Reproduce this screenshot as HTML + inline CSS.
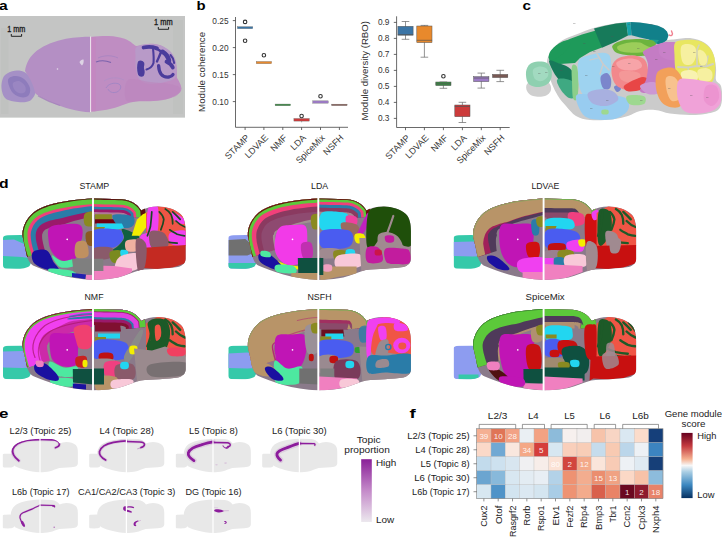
<!DOCTYPE html>
<html><head><meta charset="utf-8"><style>
html,body{margin:0;padding:0;background:#fff;width:722px;height:537px;overflow:hidden}
svg{display:block;font-family:"Liberation Sans", sans-serif}
</style></head><body>
<svg width="722" height="537" viewBox="0 0 722 537">
<text x="-1.10" y="9.80" font-size="13.6" font-weight="bold" fill="#000" textLength="8.70" lengthAdjust="spacingAndGlyphs" >a</text>
<text x="196.50" y="9.80" font-size="13.6" font-weight="bold" fill="#000" textLength="9.10" lengthAdjust="spacingAndGlyphs" >b</text>
<text x="522.50" y="9.80" font-size="13.6" font-weight="bold" fill="#000" textLength="8.50" lengthAdjust="spacingAndGlyphs" >c</text>
<text x="-1.10" y="187.80" font-size="13.6" font-weight="bold" fill="#000" textLength="9.60" lengthAdjust="spacingAndGlyphs" >d</text>
<text x="-1.10" y="417.60" font-size="13.6" font-weight="bold" fill="#000" textLength="9.40" lengthAdjust="spacingAndGlyphs" >e</text>
<text x="409.40" y="417.70" font-size="13.6" font-weight="bold" fill="#000" textLength="6.20" lengthAdjust="spacingAndGlyphs" >f</text>
<rect x="0" y="16" width="185" height="101.5" fill="#c4c5c4"/>
<defs><clipPath id="aclip"><rect x="0" y="16" width="185" height="101.5"/></clipPath><linearGradient id="ahl" x1="0" y1="0" x2="1" y2="0"><stop offset="0" stop-color="#b08ec4"/><stop offset="1" stop-color="#b892c6"/></linearGradient></defs>
<g clip-path="url(#aclip)">
<rect x="0" y="16" width="185" height="101.5" fill="#c4c5c4"/>
<rect x="1" y="28" width="7.5" height="86" fill="#c0c2c0"/>
<rect x="173" y="20" width="10" height="94" fill="#c0c2c0"/>
<path d="M1.5,88.0 C1.2,84.7 1.9,80.5 3.0,78.0 C4.1,75.5 5.7,74.2 8.0,73.0 C10.3,71.8 14.0,70.5 17.0,70.5 C20.0,70.5 23.2,71.1 26.0,73.0 C28.8,74.9 31.9,78.8 33.5,82.0 C35.1,85.2 35.8,89.2 35.5,92.0 C35.2,94.8 33.6,97.3 32.0,99.0 C30.4,100.7 29.0,101.6 26.0,102.0 C23.0,102.4 17.5,102.2 14.0,101.5 C10.5,100.8 7.1,100.2 5.0,98.0 C2.9,95.8 1.8,91.3 1.5,88.0 Z" fill="#a590c6"/>
<path d="M8.0,80.0 C8.5,77.3 12.3,76.2 15.0,76.0 C17.7,75.8 21.5,77.0 24.0,79.0 C26.5,81.0 29.3,85.2 30.0,88.0 C30.7,90.8 29.7,94.5 28.0,96.0 C26.3,97.5 22.7,97.7 20.0,97.0 C17.3,96.3 14.0,94.8 12.0,92.0 C10.0,89.2 7.5,82.7 8.0,80.0 Z" fill="#8e7cbc"/>
<path d="M13.0,83.0 C13.8,81.7 17.0,80.5 19.0,81.0 C21.0,81.5 24.0,84.2 25.0,86.0 C26.0,87.8 26.0,90.8 25.0,92.0 C24.0,93.2 20.8,93.5 19.0,93.0 C17.2,92.5 15.0,90.7 14.0,89.0 C13.0,87.3 12.2,84.3 13.0,83.0 Z" fill="#9a86c2"/>
<path d="M25,71 C26,63 30,56 37,50.5 C45,45 55,41 66,38.8 C75,37.3 84,36.8 90.5,36.8 L90.5,112.2 C84,112 77,111 70,109 C60,106.5 50,102 44,99 C40,97 37,95 35,93 C34,86 30,78 25,71 Z" fill="#b48fc4"/>
<path d="M90.5,37.1 C97,36.2 103,35.9 108.7,36 C115,36.3 120,37.2 124.6,38.7 C128,40 130.5,41.5 132.5,43.4 C134,44.5 135,45.5 136.5,46 C141,45.5 145,44.2 148.3,43.9 C153,43.7 157,44.2 161,45.5 C165,47.5 169,50.5 172,54.5 C175,59 176.5,64 176.8,69.6 C177,73 176.5,76 177,78 C179,81 181,84.5 181.5,88.5 C181.5,91 180,93 178,94 C174,96.5 170,98.5 166,99.6 C160,100.8 155,101.3 150,101.3 C145,101.2 140,101 136,101.4 C132,101.8 129,102.8 125,104.2 C120,106 116,107.6 112,108.6 C105,110.5 98,111.3 90.5,111.6 Z" fill="#bf8dc2"/>
<rect x="90.5" y="37" width="5" height="74.5" fill="#c884c0" opacity="0.6"/>
<path d="M136.5,47.0 C138.6,45.0 144.1,44.3 148.0,44.0 C151.9,43.7 156.3,44.0 160.0,45.2 C163.7,46.4 167.4,48.5 170.0,51.0 C172.6,53.5 174.4,56.8 175.5,60.0 C176.6,63.2 176.6,67.0 176.5,70.0 C176.4,73.0 176.9,76.0 175.0,78.0 C173.1,80.0 169.2,81.0 165.0,82.0 C160.8,83.0 154.2,84.3 150.0,84.0 C145.8,83.7 142.3,82.3 140.0,80.0 C137.7,77.7 136.8,74.0 136.0,70.0 C135.2,66.0 135.4,59.8 135.5,56.0 C135.6,52.2 134.4,49.0 136.5,47.0 Z" fill="#b89ac8"/>
<path d="M138,61.5 C140,59.8 142.5,60.2 144.2,62.8 C144.8,65 143.6,66.5 144,68.5 C145,71 145,73.8 143.6,76 C141.8,77.2 139.3,76.8 138,74.5 C136.8,70 136.8,65 138,61.5 Z" fill="#4b3c9c"/>
<path d="M143.5,47.6 C147,46.6 152,46.6 157,48.1" fill="none" stroke="#4b3c9c" stroke-width="3.6" stroke-linecap="round" stroke-linejoin="round"/>
<path d="M153,48.5 C153.5,53 154,58 153.5,63 C152.5,66 150,68.5 146.5,69.5" fill="none" stroke="#4b3c9c" stroke-width="2.1" stroke-linecap="round" stroke-linejoin="round"/>
<path d="M155.5,48.8 C158,49.3 160,50.3 161,52 C160,55 158.5,58 157,61.5" fill="none" stroke="#4b3c9c" stroke-width="2.4" stroke-linecap="round" stroke-linejoin="round"/>
<path d="M162.5,51.8 C165.5,53.5 168,56.5 169,60.5" fill="none" stroke="#4b3c9c" stroke-width="4.6" stroke-linecap="round" stroke-linejoin="round"/>
<path d="M166.5,61.8 C169,62.8 171.5,64.5 172.8,67.5" fill="none" stroke="#4b3c9c" stroke-width="3.8" stroke-linecap="round" stroke-linejoin="round"/>
<path d="M158.6,65.7 C158.8,69 159.5,72 161,74 C163,76.5 166,77.5 169,77 C171,76.5 172.5,75.5 173,74.5" fill="none" stroke="#4b3c9c" stroke-width="3.3" stroke-linecap="round" stroke-linejoin="round"/>
<path d="M170.5,55 C172.5,57 173.8,60 174.2,63" fill="none" stroke="#4b3c9c" stroke-width="2.0" stroke-linecap="round" stroke-linejoin="round"/>
<path d="M128.0,80.0 C132.0,77.0 143.0,81.3 150.0,82.0 C157.0,82.7 165.0,83.0 170.0,84.0 C175.0,85.0 179.0,86.0 180.0,88.0 C181.0,90.0 179.3,94.0 176.0,96.0 C172.7,98.0 166.0,99.2 160.0,100.0 C154.0,100.8 145.7,101.0 140.0,101.0 C134.3,101.0 128.0,103.5 126.0,100.0 C124.0,96.5 124.0,83.0 128.0,80.0 Z" fill="#bc86bc" opacity="0.6"/>
<path d="M96,62 C100,60.5 106,60.5 111,62.5" fill="none" stroke="#6a58a8" stroke-width="1.1" opacity="0.8"/>
<path d="M98,58 C104,55 112,55 118,58" fill="none" stroke="#9a80c0" stroke-width="0.8" opacity="0.7"/>
<path d="M106,88 C108,84 114,82 119,84 C122,86 121,90 117,92 C113,93.5 109,92 108,89" fill="none" stroke="#9c84c4" stroke-width="1.0" opacity="0.8"/>
<path d="M104,81 C110,77 118,77 124,80" fill="none" stroke="#a890c8" stroke-width="0.8" opacity="0.7"/>
<path d="M79.5,62 C80.5,60 82,59.2 83.5,59.5 C84,61.5 83.5,64 82,65.5 C81,64.5 80,63.5 79.5,62 Z" fill="#ddd4e4"/>
<circle cx="57.5" cy="69" r="0.8" fill="#e4dcea"/>
<path d="M38,96 C44,99.5 52,103 60,105.5" fill="none" stroke="#9c7ab8" stroke-width="1.2" opacity="0.6"/>
<line x1="90.6" y1="36.5" x2="90.6" y2="112.2" stroke="#f4f0f4" stroke-width="0.9"/>
</g>
<path d="M11.3,34 V36.3 H21.6 V34" fill="none" stroke="#111" stroke-width="0.9"/>
<path d="M158.3,27 V29.3 H168.6 V27" fill="none" stroke="#111" stroke-width="0.9"/>
<text x="7.2" y="31.7" font-size="8.4" fill="#1a1a1a" stroke="#1a1a1a" stroke-width="0.3" textLength="18.2" lengthAdjust="spacingAndGlyphs">1 mm</text>
<text x="154" y="24.9" font-size="8.2" fill="#1a1a1a" stroke="#1a1a1a" stroke-width="0.3" textLength="18.6" lengthAdjust="spacingAndGlyphs">1 mm</text>
<path d="M235.5 17 V127.3 H348" fill="none" stroke="#444" stroke-width="0.8"/>
<line x1="232.8" y1="20.6" x2="235.5" y2="20.6" stroke="#444" stroke-width="0.8"/>
<text x="228.5" y="23.6" font-size="8.3" text-anchor="end" font-weight="normal" fill="#333" >0.25</text>
<line x1="232.8" y1="47.6" x2="235.5" y2="47.6" stroke="#444" stroke-width="0.8"/>
<text x="228.5" y="50.599999999999994" font-size="8.3" text-anchor="end" font-weight="normal" fill="#333" >0.20</text>
<line x1="232.8" y1="74.6" x2="235.5" y2="74.6" stroke="#444" stroke-width="0.8"/>
<text x="228.5" y="77.6" font-size="8.3" text-anchor="end" font-weight="normal" fill="#333" >0.15</text>
<line x1="232.8" y1="101.6" x2="235.5" y2="101.6" stroke="#444" stroke-width="0.8"/>
<text x="228.5" y="104.6" font-size="8.3" text-anchor="end" font-weight="normal" fill="#333" >0.10</text>
<line x1="245.1" y1="127.3" x2="245.1" y2="130" stroke="#444" stroke-width="0.8"/>
<text x="250.0" y="138.3" font-size="9.0" text-anchor="end" font-weight="normal" fill="#333" transform="rotate(-45 250.0 138.3)">STAMP</text>
<line x1="263.9" y1="127.3" x2="263.9" y2="130" stroke="#444" stroke-width="0.8"/>
<text x="268.8" y="138.3" font-size="9.0" text-anchor="end" font-weight="normal" fill="#333" transform="rotate(-45 268.8 138.3)">LDVAE</text>
<line x1="282.8" y1="127.3" x2="282.8" y2="130" stroke="#444" stroke-width="0.8"/>
<text x="287.7" y="138.3" font-size="9.0" text-anchor="end" font-weight="normal" fill="#333" transform="rotate(-45 287.7 138.3)">NMF</text>
<line x1="301.6" y1="127.3" x2="301.6" y2="130" stroke="#444" stroke-width="0.8"/>
<text x="306.5" y="138.3" font-size="9.0" text-anchor="end" font-weight="normal" fill="#333" transform="rotate(-45 306.5 138.3)">LDA</text>
<line x1="320.5" y1="127.3" x2="320.5" y2="130" stroke="#444" stroke-width="0.8"/>
<text x="325.4" y="138.3" font-size="9.0" text-anchor="end" font-weight="normal" fill="#333" transform="rotate(-45 325.4 138.3)">SpiceMix</text>
<line x1="339.4" y1="127.3" x2="339.4" y2="130" stroke="#444" stroke-width="0.8"/>
<text x="344.2" y="138.3" font-size="9.0" text-anchor="end" font-weight="normal" fill="#333" transform="rotate(-45 344.2 138.3)">NSFH</text>
<rect x="237.4" y="26.70" width="15.4" height="2.0" fill="#3b75a6" stroke="#666" stroke-width="0.35"/>
<rect x="256.2" y="61.50" width="15.4" height="2.2" fill="#e8892c" stroke="#666" stroke-width="0.35"/>
<rect x="275.1" y="104.05" width="15.4" height="1.7" fill="#3a8c44" stroke="#666" stroke-width="0.35"/>
<rect x="293.9" y="118.50" width="15.4" height="2.6" fill="#cc3b3b" stroke="#666" stroke-width="0.35"/>
<rect x="312.8" y="100.85" width="15.4" height="2.3" fill="#9d7bc6" stroke="#666" stroke-width="0.35"/>
<rect x="331.7" y="104.15" width="15.4" height="1.5" fill="#8c5d55" stroke="#666" stroke-width="0.35"/>
<line x1="301.6" y1="121.1" x2="301.6" y2="122.3" stroke="#666" stroke-width="0.6"/>
<circle cx="245.1" cy="21.9" r="1.75" fill="none" stroke="#333" stroke-width="1.1"/>
<circle cx="245.1" cy="40.7" r="1.75" fill="none" stroke="#333" stroke-width="1.1"/>
<circle cx="263.9" cy="55.2" r="1.75" fill="none" stroke="#333" stroke-width="1.1"/>
<circle cx="301.6" cy="116" r="1.75" fill="none" stroke="#333" stroke-width="1.1"/>
<circle cx="320.5" cy="96.2" r="1.75" fill="none" stroke="#333" stroke-width="1.1"/>
<text x="0" y="0" font-size="8.9" text-anchor="middle" font-weight="normal" fill="#333" textLength="80" lengthAdjust="spacingAndGlyphs" transform="translate(204.5 71.9) rotate(-90)">Module coherence</text>
<path d="M396.6 16.3 V127.5 H509.7" fill="none" stroke="#444" stroke-width="0.8"/>
<line x1="393.8" y1="22.4" x2="396.6" y2="22.4" stroke="#444" stroke-width="0.8"/>
<text x="389.5" y="25.4" font-size="8.3" text-anchor="end" font-weight="normal" fill="#333" >0.9</text>
<line x1="393.8" y1="38.4" x2="396.6" y2="38.4" stroke="#444" stroke-width="0.8"/>
<text x="389.5" y="41.4" font-size="8.3" text-anchor="end" font-weight="normal" fill="#333" >0.8</text>
<line x1="393.8" y1="54.4" x2="396.6" y2="54.4" stroke="#444" stroke-width="0.8"/>
<text x="389.5" y="57.4" font-size="8.3" text-anchor="end" font-weight="normal" fill="#333" >0.7</text>
<line x1="393.8" y1="70.4" x2="396.6" y2="70.4" stroke="#444" stroke-width="0.8"/>
<text x="389.5" y="73.4" font-size="8.3" text-anchor="end" font-weight="normal" fill="#333" >0.6</text>
<line x1="393.8" y1="86.4" x2="396.6" y2="86.4" stroke="#444" stroke-width="0.8"/>
<text x="389.5" y="89.4" font-size="8.3" text-anchor="end" font-weight="normal" fill="#333" >0.5</text>
<line x1="393.8" y1="102.4" x2="396.6" y2="102.4" stroke="#444" stroke-width="0.8"/>
<text x="389.5" y="105.4" font-size="8.3" text-anchor="end" font-weight="normal" fill="#333" >0.4</text>
<line x1="393.8" y1="118.4" x2="396.6" y2="118.4" stroke="#444" stroke-width="0.8"/>
<text x="389.5" y="121.4" font-size="8.3" text-anchor="end" font-weight="normal" fill="#333" >0.3</text>
<line x1="405.5" y1="127.5" x2="405.5" y2="130.2" stroke="#444" stroke-width="0.8"/>
<text x="410.4" y="138.5" font-size="9.0" text-anchor="end" font-weight="normal" fill="#333" transform="rotate(-45 410.4 138.5)">STAMP</text>
<line x1="424.4" y1="127.5" x2="424.4" y2="130.2" stroke="#444" stroke-width="0.8"/>
<text x="429.3" y="138.5" font-size="9.0" text-anchor="end" font-weight="normal" fill="#333" transform="rotate(-45 429.3 138.5)">LDVAE</text>
<line x1="443.4" y1="127.5" x2="443.4" y2="130.2" stroke="#444" stroke-width="0.8"/>
<text x="448.3" y="138.5" font-size="9.0" text-anchor="end" font-weight="normal" fill="#333" transform="rotate(-45 448.3 138.5)">NMF</text>
<line x1="462.4" y1="127.5" x2="462.4" y2="130.2" stroke="#444" stroke-width="0.8"/>
<text x="467.2" y="138.5" font-size="9.0" text-anchor="end" font-weight="normal" fill="#333" transform="rotate(-45 467.2 138.5)">LDA</text>
<line x1="481.3" y1="127.5" x2="481.3" y2="130.2" stroke="#444" stroke-width="0.8"/>
<text x="486.2" y="138.5" font-size="9.0" text-anchor="end" font-weight="normal" fill="#333" transform="rotate(-45 486.2 138.5)">SpiceMix</text>
<line x1="500.2" y1="127.5" x2="500.2" y2="130.2" stroke="#444" stroke-width="0.8"/>
<text x="505.1" y="138.5" font-size="9.0" text-anchor="end" font-weight="normal" fill="#333" transform="rotate(-45 505.1 138.5)">NSFH</text>
<line x1="405.5" y1="21.5" x2="405.5" y2="39.3" stroke="#666" stroke-width="0.7"/>
<line x1="401.7" y1="21.5" x2="409.3" y2="21.5" stroke="#666" stroke-width="0.7"/>
<line x1="401.7" y1="39.3" x2="409.3" y2="39.3" stroke="#666" stroke-width="0.7"/>
<rect x="397.9" y="26.3" width="15.2" height="8.9" fill="#3b75a6" stroke="#555" stroke-width="0.5"/>
<line x1="397.9" y1="34.5" x2="413.1" y2="34.5" stroke="#555" stroke-width="0.7"/>
<line x1="424.4" y1="25.4" x2="424.4" y2="57.2" stroke="#666" stroke-width="0.7"/>
<line x1="420.6" y1="25.4" x2="428.2" y2="25.4" stroke="#666" stroke-width="0.7"/>
<line x1="420.6" y1="57.2" x2="428.2" y2="57.2" stroke="#666" stroke-width="0.7"/>
<rect x="416.8" y="26.0" width="15.2" height="16.6" fill="#e8892c" stroke="#555" stroke-width="0.5"/>
<line x1="416.8" y1="40.3" x2="432.1" y2="40.3" stroke="#555" stroke-width="0.7"/>
<line x1="443.4" y1="82.0" x2="443.4" y2="88.3" stroke="#666" stroke-width="0.7"/>
<line x1="439.6" y1="82.0" x2="447.2" y2="82.0" stroke="#666" stroke-width="0.7"/>
<line x1="439.6" y1="88.3" x2="447.2" y2="88.3" stroke="#666" stroke-width="0.7"/>
<rect x="435.8" y="82.0" width="15.2" height="3.6" fill="#3a8c44" stroke="#555" stroke-width="0.5"/>
<line x1="435.8" y1="83.8" x2="451.0" y2="83.8" stroke="#555" stroke-width="0.7"/>
<line x1="462.4" y1="102.3" x2="462.4" y2="122.5" stroke="#666" stroke-width="0.7"/>
<line x1="458.6" y1="102.3" x2="466.2" y2="102.3" stroke="#666" stroke-width="0.7"/>
<line x1="458.6" y1="122.5" x2="466.2" y2="122.5" stroke="#666" stroke-width="0.7"/>
<rect x="454.8" y="105.0" width="15.2" height="11.7" fill="#cc3b3b" stroke="#555" stroke-width="0.5"/>
<line x1="454.8" y1="106.5" x2="470.0" y2="106.5" stroke="#555" stroke-width="0.7"/>
<line x1="481.3" y1="73.1" x2="481.3" y2="88.1" stroke="#666" stroke-width="0.7"/>
<line x1="477.5" y1="73.1" x2="485.1" y2="73.1" stroke="#666" stroke-width="0.7"/>
<line x1="477.5" y1="88.1" x2="485.1" y2="88.1" stroke="#666" stroke-width="0.7"/>
<rect x="473.7" y="76.7" width="15.2" height="4.9" fill="#9d7bc6" stroke="#555" stroke-width="0.5"/>
<line x1="473.7" y1="78.0" x2="488.9" y2="78.0" stroke="#555" stroke-width="0.7"/>
<line x1="500.2" y1="70.3" x2="500.2" y2="81.6" stroke="#666" stroke-width="0.7"/>
<line x1="496.4" y1="70.3" x2="504.1" y2="70.3" stroke="#666" stroke-width="0.7"/>
<line x1="496.4" y1="81.6" x2="504.1" y2="81.6" stroke="#666" stroke-width="0.7"/>
<rect x="492.6" y="74.4" width="15.2" height="3.2" fill="#8c5d55" stroke="#555" stroke-width="0.5"/>
<line x1="492.6" y1="76.0" x2="507.9" y2="76.0" stroke="#555" stroke-width="0.7"/>
<circle cx="443.4" cy="76.2" r="1.75" fill="none" stroke="#333" stroke-width="1.1"/>
<text x="0" y="0" font-size="8.9" text-anchor="middle" font-weight="normal" fill="#333" textLength="99.5" lengthAdjust="spacingAndGlyphs" transform="translate(367.9 70.8) rotate(-90)">Module diversity (RBO)</text>
<path d="M548.0,57.0 C550.0,52.3 554.7,46.0 560.0,42.0 C565.3,38.0 573.3,35.6 580.0,33.0 C586.7,30.4 592.2,28.1 600.0,26.3 C607.8,24.5 618.1,22.6 626.6,22.2 C635.1,21.8 645.1,23.2 651.2,24.2 C657.4,25.2 660.9,26.7 663.5,28.3 C666.1,29.9 666.9,32.0 667.0,34.0 C667.1,36.0 663.2,39.1 664.0,40.0 C664.8,40.9 667.7,39.8 672.0,39.5 C676.3,39.2 684.5,37.4 690.0,38.0 C695.5,38.6 701.2,40.5 705.0,43.0 C708.8,45.5 711.2,48.8 713.0,53.0 C714.8,57.2 715.5,63.5 716.0,68.0 C716.5,72.5 715.2,77.0 716.0,80.0 C716.8,83.0 720.0,82.7 721.0,86.0 C722.0,89.3 722.5,96.0 722.0,100.0 C721.5,104.0 720.8,107.7 718.0,110.0 C715.2,112.3 709.7,113.2 705.0,114.0 C700.3,114.8 695.8,115.1 690.0,115.0 C684.2,114.9 675.8,114.3 670.0,113.5 C664.2,112.7 660.0,110.4 655.0,110.0 C650.0,109.6 644.5,110.0 640.0,111.0 C635.5,112.0 632.7,114.6 628.0,116.0 C623.3,117.4 618.3,118.8 612.0,119.5 C605.7,120.2 596.0,120.6 590.0,120.0 C584.0,119.4 580.0,118.3 576.0,116.0 C572.0,113.7 569.0,109.3 566.0,106.0 C563.0,102.7 560.3,99.7 558.0,96.0 C555.7,92.3 553.7,88.3 552.0,84.0 C550.3,79.7 548.7,74.5 548.0,70.0 C547.3,65.5 546.0,61.7 548.0,57.0 Z" fill="#cbcbcb"/>
<path d="M527.0,84.0 C528.3,82.2 531.5,80.3 535.0,80.0 C538.5,79.7 545.3,80.3 548.0,82.0 C550.7,83.7 551.5,87.7 551.0,90.0 C550.5,92.3 548.0,95.0 545.0,96.0 C542.0,97.0 536.0,96.8 533.0,96.0 C530.0,95.2 528.0,93.0 527.0,91.0 C526.0,89.0 525.7,85.8 527.0,84.0 Z" fill="#cfcfcf"/>
<path d="M526.0,72.0 C526.3,68.8 528.0,65.8 530.0,64.0 C532.0,62.2 535.2,61.7 538.0,61.5 C540.8,61.3 544.8,61.6 547.0,63.0 C549.2,64.4 550.8,67.3 551.5,70.0 C552.2,72.7 551.9,76.5 551.0,79.0 C550.1,81.5 548.5,83.7 546.0,85.0 C543.5,86.3 539.0,87.3 536.0,87.0 C533.0,86.7 529.7,85.5 528.0,83.0 C526.3,80.5 525.7,75.2 526.0,72.0 Z" fill="#8fd0b0"/>
<path d="M533.0,70.0 C533.8,67.9 537.7,66.7 540.0,66.5 C542.3,66.3 545.7,67.4 547.0,69.0 C548.3,70.6 548.8,74.0 548.0,76.0 C547.2,78.0 544.2,80.5 542.0,81.0 C539.8,81.5 536.5,80.8 535.0,79.0 C533.5,77.2 532.2,72.1 533.0,70.0 Z" fill="#a2dac0"/>
<path d="M548.6,57.0 L552.0,50.0 L557.0,45.5 L564.0,41.5 L571.0,38.5 L582.0,34.5 L595.0,30.8 L601.7,28.3 L602.0,47.5 L590.0,52.0 L580.0,58.0 L575.0,63.0 L560.0,64.0 L550.0,62.0 Z" fill="#1e9a5a"/>
<path d="M549.5,53.0 C550.5,50.6 553.2,47.6 556.0,45.5 C558.8,43.4 563.7,40.6 566.0,40.5 C568.3,40.4 571.0,42.4 570.0,45.0 C569.0,47.6 563.3,53.5 560.0,56.0 C556.7,58.5 551.8,60.5 550.0,60.0 C548.2,59.5 548.5,55.4 549.5,53.0 Z" fill="#1e9a5a"/>
<path d="M594.0,28.5 L605.0,25.8 L616.0,23.6 L626.3,22.5 L628.0,35.5 L616.4,41.6 L602.0,47.8 Z" fill="#177a5a"/>
<path d="M626.3,22.4 L630.5,22.1 L631.5,35.3 L628.0,35.6 Z" fill="#18a4aa"/>
<path d="M630.5,22.1 L640.0,22.6 L651.2,24.2 L658.0,25.8 L663.5,28.3 L667.0,31.5 L668.5,35.5 L667.0,40.0 L663.0,43.0 L659.0,44.5 L655.0,43.0 L649.0,39.6 L640.0,37.4 L631.5,35.3 Z" fill="#11808a"/>
<path d="M650.0,39.5 L659.0,40.0 L656.0,44.0 L652.0,43.0 Z" fill="#20a090"/>
<path d="M549.0,61.0 C549.3,58.8 554.8,62.0 558.0,63.0 C561.2,64.0 565.3,65.2 568.0,67.0 C570.7,68.8 573.2,71.3 574.0,74.0 C574.8,76.7 574.7,81.5 573.0,83.0 C571.3,84.5 566.8,84.2 564.0,83.0 C561.2,81.8 558.5,79.7 556.0,76.0 C553.5,72.3 548.7,63.2 549.0,61.0 Z" fill="#177a5a"/>
<path d="M557.0,80.0 C557.8,78.2 563.2,78.5 566.0,79.0 C568.8,79.5 572.3,80.2 574.0,83.0 C575.7,85.8 576.8,93.5 576.0,96.0 C575.2,98.5 571.5,99.0 569.0,98.0 C566.5,97.0 563.0,93.0 561.0,90.0 C559.0,87.0 556.2,81.8 557.0,80.0 Z" fill="#3fa982"/>
<path d="M572.0,66.0 C572.8,63.5 575.9,64.0 577.0,67.0 C578.1,70.0 578.5,78.7 578.5,84.0 C578.5,89.3 577.9,96.7 577.0,99.0 C576.1,101.3 573.8,100.8 573.0,98.0 C572.2,95.2 572.2,87.3 572.0,82.0 C571.8,76.7 571.2,68.5 572.0,66.0 Z" fill="#8ccf8a"/>
<path d="M579.0,60.0 C580.7,57.2 584.5,56.7 588.0,55.5 C591.5,54.3 596.8,53.3 600.0,53.0 C603.2,52.7 605.2,52.7 607.0,53.5 C608.8,54.3 609.8,55.2 610.5,58.0 C611.2,60.8 611.6,66.3 611.0,70.0 C610.4,73.7 608.2,76.3 607.0,80.0 C605.8,83.7 605.8,89.2 604.0,92.0 C602.2,94.8 599.0,95.7 596.0,96.5 C593.0,97.3 588.7,98.2 586.0,97.0 C583.3,95.8 581.3,93.2 580.0,89.0 C578.7,84.8 578.2,76.8 578.0,72.0 C577.8,67.2 577.3,62.8 579.0,60.0 Z" fill="#9ed3f0"/>
<path d="M597,54 L603,64 L609,70" fill="none" stroke="#cbcbcb" stroke-width="1.6" stroke-linecap="round"/>
<path d="M603,64 L600,74" fill="none" stroke="#cbcbcb" stroke-width="1.4" stroke-linecap="round"/>
<path d="M598,58 L590,60" fill="none" stroke="#cbcbcb" stroke-width="1.2" stroke-linecap="round"/>
<path d="M606,80 L612,86" fill="none" stroke="#cbcbcb" stroke-width="1.4" stroke-linecap="round"/>
<path d="M601.0,76.0 C602.0,74.3 605.3,72.5 607.0,73.0 C608.7,73.5 610.5,76.5 611.0,79.0 C611.5,81.5 611.2,86.3 610.0,88.0 C608.8,89.7 605.5,89.8 604.0,89.0 C602.5,88.2 601.5,85.2 601.0,83.0 C600.5,80.8 600.0,77.7 601.0,76.0 Z" fill="#7b86cc"/>
<path d="M614.0,87.0 C614.2,85.8 616.8,84.7 618.0,85.0 C619.2,85.3 621.2,87.8 621.0,89.0 C620.8,90.2 618.2,92.3 617.0,92.0 C615.8,91.7 613.8,88.2 614.0,87.0 Z" fill="#7b86cc"/>
<path d="M613.0,45.0 C614.5,43.6 618.2,41.5 622.0,40.5 C625.8,39.5 631.7,39.1 636.0,39.0 C640.3,38.9 644.8,39.1 648.0,40.0 C651.2,40.9 653.8,42.7 655.0,44.5 C656.2,46.3 656.5,49.2 655.0,51.0 C653.5,52.8 650.2,54.8 646.0,55.5 C641.8,56.2 634.8,55.9 630.0,55.5 C625.2,55.1 619.8,54.1 617.0,53.0 C614.2,51.9 613.7,50.3 613.0,49.0 C612.3,47.7 611.5,46.4 613.0,45.0 Z" fill="#6cb43e"/>
<path d="M618.0,46.0 C619.8,44.7 625.5,42.9 630.0,42.5 C634.5,42.1 641.5,42.7 645.0,43.5 C648.5,44.3 651.0,46.1 651.0,47.5 C651.0,48.9 648.8,51.2 645.0,52.0 C641.2,52.8 632.3,52.8 628.0,52.5 C623.7,52.2 620.7,51.6 619.0,50.5 C617.3,49.4 616.2,47.3 618.0,46.0 Z" fill="#9ccd5a"/>
<path d="M641.0,42.0 C641.2,40.8 648.5,39.7 651.0,40.0 C653.5,40.3 656.2,42.8 656.0,44.0 C655.8,45.2 652.5,47.3 650.0,47.0 C647.5,46.7 640.8,43.2 641.0,42.0 Z" fill="#6cb43e"/>
<path d="M612.0,66.0 C612.8,63.2 614.7,60.7 617.0,59.0 C619.3,57.3 622.7,56.5 626.0,56.0 C629.3,55.5 633.8,55.3 637.0,56.0 C640.2,56.7 643.2,57.7 645.0,60.0 C646.8,62.3 647.7,66.3 648.0,70.0 C648.3,73.7 648.3,78.8 647.0,82.0 C645.7,85.2 643.5,87.7 640.0,89.0 C636.5,90.3 630.0,90.7 626.0,90.0 C622.0,89.3 618.3,87.3 616.0,85.0 C613.7,82.7 612.7,79.2 612.0,76.0 C611.3,72.8 611.2,68.8 612.0,66.0 Z" fill="#f2888c"/>
<path d="M617.0,62.0 C618.7,60.6 624.5,58.8 628.0,58.5 C631.5,58.2 635.7,58.8 638.0,60.0 C640.3,61.2 642.3,64.3 642.0,66.0 C641.7,67.7 639.0,69.3 636.0,70.0 C633.0,70.7 627.0,70.5 624.0,70.0 C621.0,69.5 619.2,68.3 618.0,67.0 C616.8,65.7 615.3,63.4 617.0,62.0 Z" fill="#f7a4a8"/>
<path d="M620.0,72.0 C621.7,70.8 626.7,70.7 630.0,71.0 C633.3,71.3 638.7,72.2 640.0,74.0 C641.3,75.8 640.3,80.7 638.0,82.0 C635.7,83.3 629.0,82.7 626.0,82.0 C623.0,81.3 621.0,79.7 620.0,78.0 C619.0,76.3 618.3,73.2 620.0,72.0 Z" fill="#f49898"/>
<path d="M624.0,86.0 C625.2,84.2 630.8,81.5 634.0,80.0 C637.2,78.5 640.7,77.0 643.0,77.0 C645.3,77.0 647.7,78.2 648.0,80.0 C648.3,81.8 647.0,86.2 645.0,88.0 C643.0,89.8 639.0,90.5 636.0,91.0 C633.0,91.5 629.0,91.8 627.0,91.0 C625.0,90.2 622.8,87.8 624.0,86.0 Z" fill="#e84646"/>
<path d="M643.0,52.0 C643.8,50.2 648.2,48.4 651.0,47.0 C653.8,45.6 656.8,44.3 660.0,43.5 C663.2,42.7 667.2,41.9 670.0,42.0 C672.8,42.1 675.4,41.7 677.0,44.0 C678.6,46.3 679.5,52.0 679.5,56.0 C679.5,60.0 678.9,64.0 677.0,68.0 C675.1,72.0 670.8,76.5 668.0,80.0 C665.2,83.5 663.0,86.8 660.0,89.0 C657.0,91.2 653.3,92.7 650.0,93.0 C646.7,93.3 640.7,93.2 640.0,91.0 C639.3,88.8 644.7,84.2 646.0,80.0 C647.3,75.8 648.0,69.7 648.0,66.0 C648.0,62.3 646.8,60.3 646.0,58.0 C645.2,55.7 642.2,53.8 643.0,52.0 Z" fill="#c47cc4"/>
<path d="M660.0,44.0 C662.0,41.8 668.8,41.7 672.0,42.0 C675.2,42.3 677.8,43.3 679.0,46.0 C680.2,48.7 680.5,55.7 679.0,58.0 C677.5,60.3 673.2,60.5 670.0,60.0 C666.8,59.5 661.7,57.7 660.0,55.0 C658.3,52.3 658.0,46.2 660.0,44.0 Z" fill="#c880c8"/>
<path d="M640.0,86.0 C640.7,84.0 648.3,82.0 652.0,82.0 C655.7,82.0 660.7,84.2 662.0,86.0 C663.3,87.8 662.3,91.7 660.0,93.0 C657.7,94.3 651.3,95.2 648.0,94.0 C644.7,92.8 639.3,88.0 640.0,86.0 Z" fill="#cc98d4"/>
<path d="M675.0,43.0 C676.6,40.5 680.2,40.4 684.0,40.0 C687.8,39.6 693.8,39.3 698.0,40.5 C702.2,41.7 706.2,44.1 709.0,47.0 C711.8,49.9 713.5,53.8 714.5,58.0 C715.5,62.2 715.4,68.0 715.0,72.0 C714.6,76.0 714.0,79.6 712.0,82.0 C710.0,84.4 706.7,85.8 703.0,86.5 C699.3,87.2 693.8,87.1 690.0,86.5 C686.2,85.9 682.4,85.8 680.0,83.0 C677.6,80.2 676.4,74.7 675.5,70.0 C674.6,65.3 674.6,59.5 674.5,55.0 C674.4,50.5 673.4,45.5 675.0,43.0 Z" fill="#e8e660"/>
<path d="M678,67 L688,67.5 L697,66 L706,66.5 L713,64" fill="none" stroke="#d2d2c2" stroke-width="2.0" stroke-linecap="round"/>
<path d="M697,66 L697,50 L699,45" fill="none" stroke="#d2d2c2" stroke-width="1.6" stroke-linecap="round"/>
<path d="M688,67.5 L690,82" fill="none" stroke="#d2d2c2" stroke-width="1.4" stroke-linecap="round"/>
<path d="M706,66.5 L708,56" fill="none" stroke="#d2d2c2" stroke-width="1.4" stroke-linecap="round"/>
<path d="M681.5,46.0 C682.7,44.0 685.8,43.8 688.0,44.0 C690.2,44.2 693.7,45.0 695.0,47.0 C696.3,49.0 696.5,53.2 696.0,56.0 C695.5,58.8 694.0,62.7 692.0,64.0 C690.0,65.3 685.8,65.3 684.0,64.0 C682.2,62.7 681.4,59.0 681.0,56.0 C680.6,53.0 680.3,48.0 681.5,46.0 Z" fill="#f6f0a0"/>
<path d="M698.0,51.0 C698.5,48.8 701.5,50.0 703.0,51.0 C704.5,52.0 706.5,54.8 707.0,57.0 C707.5,59.2 707.2,62.8 706.0,64.0 C704.8,65.2 701.3,66.2 700.0,64.0 C698.7,61.8 697.5,53.2 698.0,51.0 Z" fill="#f6f0a0"/>
<path d="M681.5,72.0 C682.8,70.5 687.4,69.8 690.0,70.0 C692.6,70.2 695.8,71.3 697.0,73.0 C698.2,74.7 698.5,78.6 697.0,80.0 C695.5,81.4 690.5,81.7 688.0,81.5 C685.5,81.3 683.1,80.6 682.0,79.0 C680.9,77.4 680.2,73.5 681.5,72.0 Z" fill="#f8f2b0"/>
<path d="M698.0,70.0 C699.3,68.5 703.7,67.7 706.0,68.0 C708.3,68.3 711.2,70.0 712.0,72.0 C712.8,74.0 712.7,78.3 711.0,80.0 C709.3,81.7 704.2,82.5 702.0,82.0 C699.8,81.5 698.7,79.0 698.0,77.0 C697.3,75.0 696.7,71.5 698.0,70.0 Z" fill="#f6f0a0"/>
<path d="M657.0,73.0 C658.7,69.7 663.0,68.7 666.0,68.0 C669.0,67.3 672.3,67.3 675.0,69.0 C677.7,70.7 680.4,74.2 682.0,78.0 C683.6,81.8 684.3,87.8 684.5,92.0 C684.7,96.2 684.2,100.4 683.0,103.0 C681.8,105.6 679.7,107.0 677.0,107.5 C674.3,108.0 669.8,107.2 667.0,106.0 C664.2,104.8 661.8,103.0 660.0,100.0 C658.2,97.0 656.5,92.5 656.0,88.0 C655.5,83.5 655.3,76.3 657.0,73.0 Z" fill="#f2a05a"/>
<path d="M666.0,78.0 C667.2,75.5 671.7,75.7 674.0,77.0 C676.3,78.3 679.0,82.5 680.0,86.0 C681.0,89.5 681.3,95.5 680.0,98.0 C678.7,100.5 674.2,102.0 672.0,101.0 C669.8,100.0 668.0,95.8 667.0,92.0 C666.0,88.2 664.8,80.5 666.0,78.0 Z" fill="#f8c28e"/>
<path d="M679.0,80.0 C681.2,77.7 685.8,78.8 690.0,79.0 C694.2,79.2 699.7,80.2 704.0,81.0 C708.3,81.8 713.2,81.7 716.0,83.5 C718.8,85.3 720.3,88.6 721.0,92.0 C721.7,95.4 721.5,100.8 720.0,104.0 C718.5,107.2 715.7,109.4 712.0,111.0 C708.3,112.6 702.3,113.3 698.0,113.5 C693.7,113.7 689.0,113.4 686.0,112.0 C683.0,110.6 681.5,108.2 680.0,105.0 C678.5,101.8 677.2,97.2 677.0,93.0 C676.8,88.8 676.8,82.3 679.0,80.0 Z" fill="#f0a2d8"/>
<path d="M706.0,86.0 C708.0,83.7 713.8,84.0 716.0,86.0 C718.2,88.0 719.7,94.7 719.0,98.0 C718.3,101.3 714.5,105.7 712.0,106.0 C709.5,106.3 705.0,103.3 704.0,100.0 C703.0,96.7 704.0,88.3 706.0,86.0 Z" fill="#ec94d0"/>
<path d="M576.0,96.0 C577.2,92.6 585.3,94.8 590.0,94.0 C594.7,93.2 600.0,90.8 604.0,91.0 C608.0,91.2 610.2,93.7 614.0,95.0 C617.8,96.3 624.7,96.5 627.0,99.0 C629.3,101.5 629.8,106.8 628.0,110.0 C626.2,113.2 621.3,116.9 616.0,118.5 C610.7,120.1 601.5,120.2 596.0,119.5 C590.5,118.8 586.3,118.4 583.0,114.5 C579.7,110.6 574.8,99.4 576.0,96.0 Z" fill="#98ccf0"/>
<path d="M588.0,93.0 C589.7,90.7 597.7,89.2 602.0,89.0 C606.3,88.8 611.3,90.2 614.0,92.0 C616.7,93.8 619.3,97.7 618.0,100.0 C616.7,102.3 610.3,105.5 606.0,106.0 C601.7,106.5 595.0,105.2 592.0,103.0 C589.0,100.8 586.3,95.3 588.0,93.0 Z" fill="#a8b0e0"/>
<path d="M627.0,96.0 C628.5,95.0 633.0,94.8 636.0,95.0 C639.0,95.2 643.7,95.5 645.0,97.0 C646.3,98.5 646.2,102.7 644.0,104.0 C641.8,105.3 634.8,105.5 632.0,105.0 C629.2,104.5 627.8,102.5 627.0,101.0 C626.2,99.5 625.5,97.0 627.0,96.0 Z" fill="#9ed890"/>
<path d="M602.0,110.0 C603.0,109.3 607.0,109.3 608.0,110.0 C609.0,110.7 609.0,113.3 608.0,114.0 C607.0,114.7 603.0,114.7 602.0,114.0 C601.0,113.3 601.0,110.7 602.0,110.0 Z" fill="#9ed890"/>
<path d="M671.5,31 L672.5,33.8 C672.5,35.6 670.5,36.2 669.2,35" fill="none" stroke="#f08090" stroke-width="1.4" stroke-linecap="round"/>
<rect x="583" y="43" width="2.5" height="0.9" fill="#555" opacity="0.35"/>
<rect x="611" y="36" width="2.5" height="0.9" fill="#555" opacity="0.35"/>
<rect x="593" y="51" width="2.5" height="0.9" fill="#555" opacity="0.35"/>
<rect x="560" y="70" width="2.5" height="0.9" fill="#555" opacity="0.35"/>
<rect x="585" y="75" width="2.5" height="0.9" fill="#555" opacity="0.35"/>
<rect x="612" y="66" width="2.5" height="0.9" fill="#555" opacity="0.35"/>
<rect x="628" y="63" width="2.5" height="0.9" fill="#555" opacity="0.35"/>
<rect x="637" y="48" width="2.5" height="0.9" fill="#555" opacity="0.35"/>
<rect x="655" y="59" width="2.5" height="0.9" fill="#555" opacity="0.35"/>
<rect x="663" y="52" width="2.5" height="0.9" fill="#555" opacity="0.35"/>
<rect x="693" y="52" width="2.5" height="0.9" fill="#555" opacity="0.35"/>
<rect x="700" y="66" width="2.5" height="0.9" fill="#555" opacity="0.35"/>
<rect x="668" y="88" width="2.5" height="0.9" fill="#555" opacity="0.35"/>
<rect x="690" y="95" width="2.5" height="0.9" fill="#555" opacity="0.35"/>
<rect x="706" y="97" width="2.5" height="0.9" fill="#555" opacity="0.35"/>
<rect x="590" y="108" width="2.5" height="0.9" fill="#555" opacity="0.35"/>
<rect x="606" y="100" width="2.5" height="0.9" fill="#555" opacity="0.35"/>
<rect x="640" y="100" width="2.5" height="0.9" fill="#555" opacity="0.35"/>
<rect x="538" y="73" width="2.5" height="0.9" fill="#555" opacity="0.35"/>
<rect x="545" y="72" width="2.5" height="0.9" fill="#555" opacity="0.35"/>
<rect x="573" y="23" width="2.5" height="0.9" fill="#555" opacity="0.35"/>
<rect x="628" y="24" width="2.5" height="0.9" fill="#555" opacity="0.35"/>
<rect x="650" y="24" width="2.5" height="0.9" fill="#555" opacity="0.35"/>
<text x="79.40" y="188.80" font-size="9.0" font-weight="normal" fill="#222" textLength="29.90" lengthAdjust="spacingAndGlyphs" >STAMP</text>
<text x="311.10" y="188.80" font-size="9.0" font-weight="normal" fill="#222" textLength="17.10" lengthAdjust="spacingAndGlyphs" >LDA</text>
<text x="531.40" y="188.80" font-size="9.0" font-weight="normal" fill="#222" textLength="28.00" lengthAdjust="spacingAndGlyphs" >LDVAE</text>
<text x="84.50" y="300.00" font-size="9.0" font-weight="normal" fill="#222" textLength="19.00" lengthAdjust="spacingAndGlyphs" >NMF</text>
<text x="307.50" y="300.00" font-size="9.0" font-weight="normal" fill="#222" textLength="24.00" lengthAdjust="spacingAndGlyphs" >NSFH</text>
<text x="525.60" y="299.80" font-size="9.0" font-weight="normal" fill="#222" textLength="39.10" lengthAdjust="spacingAndGlyphs" >SpiceMix</text>
<defs><clipPath id="dclip"><path d="M22.5,236 C22,228 26,219 33,213 C43,205 62,200.2 93.5,198.6 L122,199.3 C131,200 137,204 141.2,210.5 C146,208 151,206.8 158,206.6 C167,206.6 175,209.5 180.5,214 C184.5,218 185.6,224 185.6,231 L185.6,259 C185.3,263 183,265.5 178,267 C168,268.6 152,268.8 140.5,270 C133,272 126,275.5 118,277.6 C110,279.2 100,280 93.5,280 C80,279.5 68,277.5 58,274.6 C48,271.8 40,268.6 33,265.6 C29,263 27,258 26,252 C25,246 23.5,241 22.5,236 Z"/></clipPath><clipPath id="obclip"><path d="M3,238 C3,236 5,235.4 8,235.3 L21,235 C26,235.5 29,238 30.5,243 L31.8,252 C32,258 31.5,263 29.5,266 C27,268 22,268.8 16,268.8 L6,268.6 C4,268.4 3,267 3,265 Z"/></clipPath><clipPath id="lhalf"><rect x="0" y="180" width="93.5" height="110"/></clipPath><clipPath id="rhalf"><rect x="93.5" y="180" width="100" height="110"/></clipPath></defs>
<g transform="translate(0.0 0.0)">
<g clip-path="url(#obclip)"><path d="M2.0,234.0 L32.0,234.0 L32.0,270.0 L2.0,270.0 Z" fill="#35c9a9"/><path d="M2.0,240.0 L14.0,239.5 L22.0,243.0 L32.0,248.0 L33.0,258.7 L22.0,257.0 L2.0,256.0 Z" fill="#8d9cf0"/></g>
<g clip-path="url(#dclip)">
<rect x="0" y="190" width="190" height="95" fill="#8a7a8a"/>
<g clip-path="url(#lhalf)"><path d="M23.2,258.2 22.7,256.7 22.3,255.2 21.8,253.7 21.4,252.3 21.0,250.9 20.6,249.4 20.2,248.0 19.9,246.7 19.6,245.3 19.3,243.9 19.1,242.6 18.9,241.2 18.7,239.9 18.6,238.6 18.5,237.3 18.5,236.1 18.5,234.5 18.5,232.7 18.7,230.9 19.0,229.1 19.4,227.3 20.0,225.6 20.6,223.8 21.3,222.1 22.1,220.4 23.0,218.8 24.0,217.2 25.1,215.6 26.3,214.1 27.6,212.7 29.0,211.3 30.5,209.9 32.7,208.2 35.2,206.7 37.8,205.3 40.6,203.9 43.7,202.7 47.0,201.5 50.5,200.5 54.2,199.5 58.2,198.6 62.5,197.8 66.9,197.1 71.7,196.4 76.7,195.9 81.9,195.4 87.5,194.9 93.3,194.6 94.0,194.6 94.5,194.6 95.1,194.6 95.7,194.6 96.2,194.5 96.8,194.5 97.3,194.5 97.9,194.5 98.5,222.5 98.0,222.6 97.4,222.6 96.8,222.7 96.3,222.7 95.7,222.8 95.2,222.9 94.6,222.9 94.8,223.0 89.4,223.8 84.4,224.6 79.7,225.5 75.4,226.4 71.5,227.4 67.9,228.4 64.6,229.4 61.6,230.0 58.9,230.6 56.6,231.1 54.6,231.7 53.0,232.3 51.6,232.8 50.6,233.2 50.0,233.5 49.6,233.6 50.0,233.2 49.8,233.4 49.6,233.5 49.4,233.7 49.2,233.9 49.0,234.1 48.8,234.3 48.6,234.5 48.4,234.6 48.3,234.8 48.2,234.9 48.0,234.9 48.0,234.9 47.9,234.8 47.8,234.7 47.7,235.4 47.7,236.1 47.6,236.4 47.6,236.8 47.6,237.2 47.6,237.8 47.7,238.5 47.7,239.3 47.9,240.2 48.0,241.1 48.2,242.2 48.4,243.3 48.6,244.5 48.9,245.7 49.2,247.0 49.6,248.4 49.9,249.9Z" fill="#8a7a8a"/><path d="M23.2,258.2 22.7,256.7 22.3,255.2 21.8,253.7 21.4,252.3 21.0,250.9 20.6,249.4 20.2,248.0 19.9,246.7 19.6,245.3 19.3,243.9 19.1,242.6 18.9,241.2 18.7,239.9 18.6,238.6 18.5,237.3 18.5,236.1 18.5,234.5 18.5,232.7 18.7,230.9 19.0,229.1 19.4,227.3 20.0,225.6 20.6,223.8 21.3,222.1 22.1,220.4 23.0,218.8 24.0,217.2 25.1,215.6 26.3,214.1 27.6,212.7 29.0,211.3 30.5,209.9 32.7,208.2 35.2,206.7 37.8,205.3 40.6,203.9 43.7,202.7 47.0,201.5 50.5,200.5 54.2,199.5 58.2,198.6 62.5,197.8 66.9,197.1 71.7,196.4 76.7,195.9 81.9,195.4 87.5,194.9 93.3,194.6 94.0,194.6 94.5,194.6 95.1,194.6 95.7,194.6 96.2,194.5 96.8,194.5 97.3,194.5 97.9,194.5 98.4,215.7 97.8,215.8 97.3,215.9 96.7,216.0 96.1,216.0 95.6,216.1 95.0,216.2 94.5,216.3 94.5,216.4 89.0,217.4 83.9,218.6 79.1,219.7 74.7,220.8 70.7,222.0 66.9,223.2 63.6,224.4 60.4,225.1 57.5,225.6 55.0,226.2 52.7,226.7 50.8,227.3 49.2,227.9 47.8,228.4 46.8,228.9 46.0,229.2 46.1,229.1 45.6,229.4 45.1,229.8 44.7,230.2 44.3,230.6 43.8,231.1 43.5,231.5 43.1,232.0 42.9,232.5 42.7,232.9 42.5,233.4 42.4,233.8 42.3,234.1 42.2,234.4 42.1,234.6 42.1,235.5 42.1,236.4 42.1,236.8 42.1,237.4 42.2,238.0 42.2,238.7 42.3,239.5 42.5,240.4 42.7,241.4 42.9,242.4 43.1,243.5 43.4,244.7 43.7,245.9 44.0,247.2 44.4,248.5 44.7,249.9 45.1,251.4Z" fill="#9a1a6a"/><path d="M23.2,258.2 22.7,256.7 22.3,255.2 21.8,253.7 21.4,252.3 21.0,250.9 20.6,249.4 20.2,248.0 19.9,246.7 19.6,245.3 19.3,243.9 19.1,242.6 18.9,241.2 18.7,239.9 18.6,238.6 18.5,237.3 18.5,236.1 18.5,234.5 18.5,232.7 18.7,230.9 19.0,229.1 19.4,227.3 20.0,225.6 20.6,223.8 21.3,222.1 22.1,220.4 23.0,218.8 24.0,217.2 25.1,215.6 26.3,214.1 27.6,212.7 29.0,211.3 30.5,209.9 32.7,208.2 35.2,206.7 37.8,205.3 40.6,203.9 43.7,202.7 47.0,201.5 50.5,200.5 54.2,199.5 58.2,198.6 62.5,197.8 66.9,197.1 71.7,196.4 76.7,195.9 81.9,195.4 87.5,194.9 93.3,194.6 94.0,194.6 94.5,194.6 95.1,194.6 95.7,194.6 96.2,194.5 96.8,194.5 97.3,194.5 97.9,194.5 98.3,210.7 97.7,210.8 97.1,210.8 96.6,210.9 96.0,211.0 95.5,211.0 94.9,211.1 94.3,211.2 94.2,211.2 88.6,212.1 83.4,213.0 78.5,213.9 74.0,214.9 69.8,216.0 65.9,217.0 62.3,218.1 58.9,218.8 55.8,219.3 53.0,220.0 50.4,220.6 48.2,221.3 46.2,222.0 44.5,222.7 43.1,223.4 41.9,224.1 41.5,224.4 40.8,224.9 40.1,225.6 39.4,226.3 38.8,227.0 38.2,227.7 37.6,228.5 37.1,229.3 36.8,230.1 36.5,230.9 36.2,231.7 36.0,232.5 35.9,233.2 35.8,233.9 35.7,234.6 35.7,235.7 35.7,236.6 35.8,237.3 35.8,238.0 35.9,238.9 36.0,239.8 36.2,240.7 36.4,241.7 36.6,242.8 36.9,243.9 37.1,245.1 37.5,246.3 37.8,247.6 38.2,248.9 38.6,250.3 39.0,251.7 39.4,253.1Z" fill="#2a7ca8"/><path d="M23.2,258.2 22.7,256.7 22.3,255.2 21.8,253.7 21.4,252.3 21.0,250.9 20.6,249.4 20.2,248.0 19.9,246.7 19.6,245.3 19.3,243.9 19.1,242.6 18.9,241.2 18.7,239.9 18.6,238.6 18.5,237.3 18.5,236.1 18.5,234.5 18.5,232.7 18.7,230.9 19.0,229.1 19.4,227.3 20.0,225.6 20.6,223.8 21.3,222.1 22.1,220.4 23.0,218.8 24.0,217.2 25.1,215.6 26.3,214.1 27.6,212.7 29.0,211.3 30.5,209.9 32.7,208.2 35.2,206.7 37.8,205.3 40.6,203.9 43.7,202.7 47.0,201.5 50.5,200.5 54.2,199.5 58.2,198.6 62.5,197.8 66.9,197.1 71.7,196.4 76.7,195.9 81.9,195.4 87.5,194.9 93.3,194.6 94.0,194.6 94.5,194.6 95.1,194.6 95.7,194.6 96.2,194.5 96.8,194.5 97.3,194.5 97.9,194.5 98.2,205.7 97.6,205.7 97.0,205.8 96.5,205.8 95.9,205.8 95.4,205.9 94.8,205.9 94.2,206.0 93.9,206.0 88.2,206.6 82.9,207.2 77.9,207.9 73.2,208.6 68.8,209.4 64.7,210.3 60.8,211.2 57.3,212.0 54.0,212.8 50.9,213.7 48.2,214.6 45.7,215.6 43.5,216.6 41.5,217.6 39.8,218.6 38.4,219.7 37.6,220.3 36.8,221.2 35.9,222.1 35.1,223.1 34.4,224.1 33.7,225.1 33.1,226.1 32.6,227.2 32.1,228.3 31.7,229.4 31.4,230.4 31.1,231.5 30.9,232.6 30.8,233.6 30.7,234.5 30.7,235.8 30.8,236.8 30.8,237.7 30.9,238.6 31.0,239.6 31.1,240.6 31.3,241.6 31.5,242.8 31.7,243.9 32.0,245.1 32.3,246.4 32.6,247.6 33.0,249.0 33.4,250.3 33.8,251.7 34.2,253.1 34.6,254.6Z" fill="#f0407a"/><path d="M23.2,258.2 22.7,256.7 22.3,255.2 21.8,253.7 21.4,252.3 21.0,250.9 20.6,249.4 20.2,248.0 19.9,246.7 19.6,245.3 19.3,243.9 19.1,242.6 18.9,241.2 18.7,239.9 18.6,238.6 18.5,237.3 18.5,236.1 18.5,234.5 18.5,232.7 18.7,230.9 19.0,229.1 19.4,227.3 20.0,225.6 20.6,223.8 21.3,222.1 22.1,220.4 23.0,218.8 24.0,217.2 25.1,215.6 26.3,214.1 27.6,212.7 29.0,211.3 30.5,209.9 32.7,208.2 35.2,206.7 37.8,205.3 40.6,203.9 43.7,202.7 47.0,201.5 50.5,200.5 54.2,199.5 58.2,198.6 62.5,197.8 66.9,197.1 71.7,196.4 76.7,195.9 81.9,195.4 87.5,194.9 93.3,194.6 94.0,194.6 94.5,194.6 95.1,194.6 95.7,194.6 96.2,194.5 96.8,194.5 97.3,194.5 97.9,194.5 98.1,203.7 97.6,203.7 97.0,203.8 96.4,203.8 95.9,203.8 95.3,203.8 94.7,203.9 94.2,203.9 93.8,203.9 88.1,204.4 82.7,204.9 77.7,205.5 72.9,206.2 68.4,206.9 64.2,207.7 60.3,208.6 56.6,209.3 53.2,210.1 50.1,211.0 47.2,211.9 44.5,212.8 42.1,213.9 40.0,214.9 38.1,216.1 36.4,217.2 35.4,218.0 34.4,219.0 33.4,220.0 32.5,221.1 31.6,222.2 30.8,223.4 30.1,224.6 29.5,225.8 29.0,227.1 28.5,228.3 28.1,229.6 27.8,230.9 27.6,232.1 27.5,233.3 27.5,234.5 27.5,235.9 27.5,236.9 27.6,237.9 27.7,238.9 27.8,240.0 28.0,241.1 28.2,242.2 28.4,243.4 28.7,244.6 29.0,245.9 29.3,247.1 29.7,248.5 30.0,249.8 30.5,251.2 30.9,252.6 31.3,254.0 31.8,255.5Z" fill="#5cc93a"/><path d="M23.2,258.2 22.7,256.7 22.3,255.2 21.8,253.7 21.4,252.3 21.0,250.9 20.6,249.4 20.2,248.0 19.9,246.7 19.6,245.3 19.3,243.9 19.1,242.6 18.9,241.2 18.7,239.9 18.6,238.6 18.5,237.3 18.5,236.1 18.5,234.5 18.5,232.7 18.7,230.9 19.0,229.1 19.4,227.3 20.0,225.6 20.6,223.8 21.3,222.1 22.1,220.4 23.0,218.8 24.0,217.2 25.1,215.6 26.3,214.1 27.6,212.7 29.0,211.3 30.5,209.9 32.7,208.2 35.2,206.7 37.8,205.3 40.6,203.9 43.7,202.7 47.0,201.5 50.5,200.5 54.2,199.5 58.2,198.6 62.5,197.8 66.9,197.1 71.7,196.4 76.7,195.9 81.9,195.4 87.5,194.9 93.3,194.6 94.0,194.6 94.5,194.6 95.1,194.6 95.7,194.6 96.2,194.5 96.8,194.5 97.3,194.5 97.9,194.5 98.0,199.0 97.4,199.0 96.9,199.0 96.3,199.1 95.8,199.1 95.2,199.1 94.6,199.1 94.1,199.1 93.5,199.2 87.8,199.6 82.3,200.1 77.2,200.6 72.3,201.3 67.7,202.0 63.3,202.7 59.2,203.5 55.4,204.4 51.9,205.3 48.5,206.3 45.5,207.4 42.6,208.5 40.0,209.7 37.7,211.0 35.5,212.4 33.6,213.8 32.4,214.9 31.3,216.1 30.2,217.3 29.1,218.6 28.2,219.9 27.3,221.3 26.5,222.7 25.8,224.2 25.2,225.6 24.7,227.1 24.3,228.6 23.9,230.1 23.7,231.6 23.5,233.0 23.5,234.5 23.5,236.0 23.5,237.1 23.6,238.2 23.7,239.4 23.8,240.5 24.0,241.8 24.2,243.0 24.5,244.2 24.8,245.5 25.1,246.8 25.4,248.2 25.8,249.5 26.2,250.9 26.6,252.3 27.0,253.8 27.5,255.2 28.0,256.7Z" fill="#5a1010"/><path d="M49.4,227.7 C51.6,225.0 56.8,224.8 62.0,224.4 C67.2,224.0 77.1,222.8 80.4,225.2 C83.7,227.6 82.6,235.2 82.0,238.6 C81.4,241.9 78.1,241.9 77.0,245.3 C75.9,248.7 77.8,256.3 75.3,258.8 C72.8,261.3 65.9,261.5 62.0,260.4 C58.1,259.3 54.1,255.3 51.9,252.0 C49.6,248.7 48.9,244.4 48.5,240.3 C48.1,236.2 47.1,230.3 49.4,227.7 Z" fill="#c015b5"/><path d="M84.6,214.0 C86.0,211.9 92.0,210.6 93.5,212.5 C95.0,214.4 94.9,223.1 93.5,225.2 C92.1,227.3 86.5,226.9 85.0,225.0 C83.5,223.1 83.2,216.1 84.6,214.0 Z" fill="#8a8a20"/><path d="M86.0,233.0 C87.1,231.0 92.2,230.0 93.5,232.0 C94.8,234.0 94.6,243.0 93.5,245.0 C92.4,247.0 88.2,246.0 87.0,244.0 C85.8,242.0 84.9,235.0 86.0,233.0 Z" fill="#8a5a20"/><path d="M76.0,243.0 C77.7,240.5 84.0,239.8 86.0,242.0 C88.0,244.2 89.7,253.5 88.0,256.0 C86.3,258.5 78.0,259.2 76.0,257.0 C74.0,254.8 74.3,245.5 76.0,243.0 Z" fill="#c09060"/><path d="M33.0,252.0 C35.1,249.9 43.4,248.7 46.8,250.4 C50.2,252.1 51.5,258.8 53.5,262.0 C55.5,265.2 59.7,268.2 58.6,269.5 C57.5,270.8 50.9,270.6 46.8,269.5 C42.7,268.4 36.3,265.9 34.0,263.0 C31.7,260.1 30.9,254.1 33.0,252.0 Z" fill="#1a10a0"/><path d="M51.9,255.4 C52.2,254.4 58.1,260.4 62.0,261.0 C65.8,261.6 73.0,258.2 75.0,259.0 C77.0,259.8 76.5,264.7 74.0,266.0 C71.5,267.3 63.7,268.8 60.0,267.0 C56.3,265.2 51.6,256.4 51.9,255.4 Z" fill="#4de8a0"/><path d="M50.0,268.5 C53.6,268.1 69.9,269.9 73.7,271.2 C77.5,272.5 76.6,276.1 73.0,276.5 C69.4,276.9 55.8,274.8 52.0,273.5 C48.2,272.2 46.4,268.9 50.0,268.5 Z" fill="#4de8a0"/><path d="M72.0,258.8 L93.5,258.8 L93.5,273.9 L73.7,272.2 Z" fill="#7f7f7f"/><path d="M72.0,273.0 L86.0,274.5 L85.0,279.0 L72.0,277.0 Z" fill="#2020b0"/><path d="M86.0,275.0 L94.0,275.0 L94.0,281.0 L86.0,280.0 Z" fill="#f080c0"/></g>
<g clip-path="url(#rhalf)"><path d="M89.0,194.6 89.6,194.6 90.1,194.6 90.7,194.6 91.2,194.6 91.8,194.6 92.4,194.6 92.9,194.6 93.6,194.6 97.2,194.7 100.7,194.8 104.3,194.9 107.8,195.0 111.4,195.0 115.0,195.1 118.5,195.2 122.2,195.3 124.2,195.5 126.0,195.8 127.7,196.1 129.4,196.6 131.0,197.1 132.5,197.8 134.0,198.5 135.5,199.3 136.8,200.2 138.1,201.1 139.4,202.2 140.5,203.3 141.6,204.5 142.7,205.7 143.6,207.0 144.9,208.9 145.3,210.9 145.3,211.8 145.4,212.6 145.5,213.4 145.6,214.2 145.6,215.0 145.7,215.8 145.8,216.6 125.7,218.5 125.6,217.7 125.5,216.9 125.4,216.1 125.4,215.2 125.3,214.4 125.2,213.6 125.1,212.8 126.4,217.0 127.2,218.7 126.9,218.3 126.5,217.9 126.2,217.5 125.9,217.2 125.6,217.0 125.3,216.8 125.0,216.6 124.7,216.4 124.4,216.3 124.0,216.1 123.5,215.9 123.0,215.8 122.3,215.7 121.6,215.5 121.2,215.5 118.0,215.4 114.5,215.3 110.9,215.2 107.4,215.1 103.8,215.1 100.2,215.0 96.7,214.9 93.2,214.8 92.9,214.8 92.4,214.8 91.8,214.8 91.2,214.8 90.7,214.8 90.1,214.8 89.6,214.8 89.0,214.8Z" fill="#b07a9a"/><path d="M89.0,194.6 89.6,194.6 90.1,194.6 90.7,194.6 91.2,194.6 91.8,194.6 92.4,194.6 92.9,194.6 93.6,194.6 97.2,194.7 100.7,194.8 104.3,194.9 107.8,195.0 111.4,195.0 115.0,195.1 118.5,195.2 122.2,195.3 124.2,195.5 126.0,195.8 127.7,196.1 129.4,196.6 131.0,197.1 132.5,197.8 134.0,198.5 135.5,199.3 136.8,200.2 138.1,201.1 139.4,202.2 140.5,203.3 141.6,204.5 142.7,205.7 143.6,207.0 144.9,208.9 145.3,210.9 145.3,211.8 145.4,212.6 145.5,213.4 145.6,214.2 145.6,215.0 145.7,215.8 145.8,216.6 128.5,218.2 128.4,217.4 128.3,216.6 128.2,215.8 128.2,215.0 128.1,214.2 128.0,213.4 127.9,212.5 128.9,215.9 129.5,217.1 129.1,216.5 128.6,216.0 128.2,215.6 127.8,215.2 127.4,214.8 126.9,214.5 126.5,214.2 126.0,213.9 125.5,213.7 124.9,213.5 124.3,213.3 123.6,213.1 122.8,212.9 121.9,212.8 121.3,212.7 118.1,212.6 114.5,212.5 111.0,212.4 107.4,212.3 103.9,212.3 100.3,212.2 96.7,212.1 93.2,212.0 92.9,212.0 92.4,212.0 91.8,212.0 91.2,212.0 90.7,212.0 90.1,212.0 89.6,212.0 89.0,212.0Z" fill="#9a1a6a"/><path d="M89.0,194.6 89.6,194.6 90.1,194.6 90.7,194.6 91.2,194.6 91.8,194.6 92.4,194.6 92.9,194.6 93.6,194.6 97.2,194.7 100.7,194.8 104.3,194.9 107.8,195.0 111.4,195.0 115.0,195.1 118.5,195.2 122.2,195.3 124.2,195.5 126.0,195.8 127.7,196.1 129.4,196.6 131.0,197.1 132.5,197.8 134.0,198.5 135.5,199.3 136.8,200.2 138.1,201.1 139.4,202.2 140.5,203.3 141.6,204.5 142.7,205.7 143.6,207.0 144.9,208.9 145.3,210.9 145.3,211.8 145.4,212.6 145.5,213.4 145.6,214.2 145.6,215.0 145.7,215.8 145.8,216.6 131.2,218.0 131.2,217.2 131.1,216.3 131.0,215.5 130.9,214.7 130.9,213.9 130.8,213.1 130.7,212.3 131.5,214.8 131.8,215.5 131.2,214.8 130.7,214.2 130.2,213.6 129.6,213.1 129.1,212.6 128.5,212.2 127.9,211.8 127.3,211.5 126.6,211.1 125.9,210.8 125.1,210.6 124.3,210.3 123.3,210.1 122.3,210.0 121.5,209.9 118.2,209.8 114.6,209.7 111.1,209.6 107.5,209.5 103.9,209.5 100.4,209.4 96.8,209.3 93.3,209.2 92.9,209.2 92.4,209.2 91.8,209.2 91.2,209.2 90.7,209.2 90.1,209.2 89.6,209.2 89.0,209.2Z" fill="#2a7ca8"/><path d="M89.0,194.6 89.6,194.6 90.1,194.6 90.7,194.6 91.2,194.6 91.8,194.6 92.4,194.6 92.9,194.6 93.6,194.6 97.2,194.7 100.7,194.8 104.3,194.9 107.8,195.0 111.4,195.0 115.0,195.1 118.5,195.2 122.2,195.3 124.2,195.5 126.0,195.8 127.7,196.1 129.4,196.6 131.0,197.1 132.5,197.8 134.0,198.5 135.5,199.3 136.8,200.2 138.1,201.1 139.4,202.2 140.5,203.3 141.6,204.5 142.7,205.7 143.6,207.0 144.9,208.9 145.3,210.9 145.3,211.8 145.4,212.6 145.5,213.4 145.6,214.2 145.6,215.0 145.7,215.8 145.8,216.6 133.7,217.7 133.7,216.9 133.6,216.1 133.5,215.3 133.4,214.5 133.4,213.7 133.3,212.9 133.2,212.1 133.8,213.8 133.8,214.0 133.2,213.2 132.6,212.5 132.0,211.8 131.3,211.2 130.6,210.6 129.9,210.1 129.2,209.7 128.5,209.2 127.6,208.8 126.8,208.5 125.9,208.2 124.9,207.9 123.8,207.7 122.6,207.5 121.6,207.4 118.2,207.3 114.7,207.2 111.1,207.1 107.6,207.0 104.0,207.0 100.4,206.9 96.9,206.8 93.3,206.7 92.9,206.7 92.4,206.7 91.8,206.7 91.2,206.7 90.7,206.7 90.1,206.7 89.6,206.7 89.0,206.7Z" fill="#f0407a"/><path d="M89.0,194.6 89.6,194.6 90.1,194.6 90.7,194.6 91.2,194.6 91.8,194.6 92.4,194.6 92.9,194.6 93.6,194.6 97.2,194.7 100.7,194.8 104.3,194.9 107.8,195.0 111.4,195.0 115.0,195.1 118.5,195.2 122.2,195.3 124.2,195.5 126.0,195.8 127.7,196.1 129.4,196.6 131.0,197.1 132.5,197.8 134.0,198.5 135.5,199.3 136.8,200.2 138.1,201.1 139.4,202.2 140.5,203.3 141.6,204.5 142.7,205.7 143.6,207.0 144.9,208.9 145.3,210.9 145.3,211.8 145.4,212.6 145.5,213.4 145.6,214.2 145.6,215.0 145.7,215.8 145.8,216.6 136.3,217.5 136.2,216.7 136.2,215.9 136.1,215.1 136.0,214.3 135.9,213.4 135.9,212.6 135.8,211.8 136.2,212.7 135.9,212.5 135.2,211.6 134.5,210.8 133.8,210.0 133.0,209.3 132.2,208.6 131.4,208.0 130.6,207.4 129.7,206.9 128.7,206.5 127.7,206.1 126.6,205.7 125.5,205.4 124.2,205.1 123.0,204.9 121.7,204.8 118.3,204.7 114.7,204.6 111.2,204.5 107.6,204.4 104.1,204.4 100.5,204.3 96.9,204.2 93.4,204.1 92.9,204.1 92.4,204.1 91.8,204.1 91.2,204.1 90.7,204.1 90.1,204.1 89.6,204.1 89.0,204.1Z" fill="#5cc93a"/><path d="M89.0,194.6 89.6,194.6 90.1,194.6 90.7,194.6 91.2,194.6 91.8,194.6 92.4,194.6 92.9,194.6 93.6,194.6 97.2,194.7 100.7,194.8 104.3,194.9 107.8,195.0 111.4,195.0 115.0,195.1 118.5,195.2 122.2,195.3 124.2,195.5 126.0,195.8 127.7,196.1 129.4,196.6 131.0,197.1 132.5,197.8 134.0,198.5 135.5,199.3 136.8,200.2 138.1,201.1 139.4,202.2 140.5,203.3 141.6,204.5 142.7,205.7 143.6,207.0 144.9,208.9 145.3,210.9 145.3,211.8 145.4,212.6 145.5,213.4 145.6,214.2 145.6,215.0 145.7,215.8 145.8,216.6 140.8,217.1 140.7,216.3 140.7,215.5 140.6,214.7 140.5,213.8 140.4,213.0 140.4,212.2 140.3,211.4 140.3,210.9 139.6,209.9 138.8,208.8 137.9,207.8 137.0,206.8 136.0,205.9 135.0,205.1 134.0,204.3 132.9,203.6 131.7,202.9 130.5,202.4 129.2,201.8 127.9,201.4 126.5,201.0 125.1,200.7 123.5,200.5 122.0,200.3 118.4,200.2 114.9,200.1 111.3,200.0 107.7,199.9 104.2,199.9 100.6,199.8 97.0,199.7 93.5,199.6 92.9,199.6 92.4,199.6 91.8,199.6 91.2,199.6 90.7,199.6 90.1,199.6 89.6,199.6 89.0,199.6Z" fill="#5a1010"/><path d="M95.0,214.3 L111.8,214.3 L111.8,219.5 L95.0,220.2 Z" fill="#8a8a20"/><path d="M95.0,219.3 L120.0,219.3 L122.0,223.5 L95.0,223.5 Z" fill="#700010"/><path d="M113.0,215.0 C115.3,213.3 128.5,214.5 132.0,216.0 C135.5,217.5 134.7,222.0 134.0,224.0 C133.3,226.0 130.7,227.7 128.0,228.0 C125.3,228.3 120.5,228.2 118.0,226.0 C115.5,223.8 110.7,216.7 113.0,215.0 Z" fill="#2a7ca8"/><path d="M96.7,223.5 L121.9,223.5 L124.0,228.0 L118.0,229.4 L96.7,229.4 Z" fill="#22d6f0"/><path d="M94.5,227.0 L105.0,227.0 L103.0,231.0 L94.5,231.0 Z" fill="#8a8a20"/><path d="M94.0,230.2 C98.0,227.1 113.2,228.9 118.0,229.5 C122.8,230.1 121.9,232.2 122.7,234.0 C123.5,235.8 124.0,237.8 122.7,240.0 C121.4,242.2 118.8,245.6 115.0,247.0 C111.2,248.4 103.5,248.5 100.0,248.7 C96.5,248.9 95.0,251.1 94.0,248.0 C93.0,244.9 90.0,233.3 94.0,230.2 Z" fill="#4a5cf0"/><path d="M122.0,229.0 C123.7,228.2 131.2,231.5 134.0,233.0 C136.8,234.5 140.0,235.5 139.0,238.0 C138.0,240.5 132.0,245.2 128.0,248.0 C124.0,250.8 118.3,254.2 115.0,255.0 C111.7,255.8 107.5,254.5 108.0,253.0 C108.5,251.5 115.3,248.5 118.0,246.0 C120.7,243.5 123.3,240.8 124.0,238.0 C124.7,235.2 120.3,229.8 122.0,229.0 Z" fill="#106040"/><path d="M126.0,241.0 C127.8,239.2 135.8,238.5 138.0,240.0 C140.2,241.5 140.8,248.2 139.0,250.0 C137.2,251.8 129.2,252.5 127.0,251.0 C124.8,249.5 124.2,242.8 126.0,241.0 Z" fill="#f0b0a0"/><path d="M94.0,248.0 C97.0,246.2 109.3,246.3 112.0,248.0 C114.7,249.7 113.0,256.2 110.0,258.0 C107.0,259.8 96.7,260.7 94.0,259.0 C91.3,257.3 91.0,249.8 94.0,248.0 Z" fill="#8a5a6a"/><path d="M110.0,252.0 C111.5,250.2 118.8,249.2 121.0,251.0 C123.2,252.8 125.0,260.9 123.5,262.7 C122.0,264.5 114.2,263.8 112.0,262.0 C109.8,260.2 108.5,253.8 110.0,252.0 Z" fill="#7a8a20"/><path d="M121.0,250.0 C122.1,249.2 126.7,249.8 127.7,251.0 C128.7,252.2 128.1,256.2 127.0,257.0 C125.9,257.8 122.0,257.2 121.0,256.0 C120.0,254.8 119.9,250.8 121.0,250.0 Z" fill="#22d6f0"/><path d="M121.0,256.0 C124.9,254.1 135.4,252.0 138.6,253.7 C141.8,255.4 141.1,263.1 140.0,266.0 C138.9,268.9 135.7,270.3 132.0,271.0 C128.3,271.7 120.8,271.0 118.0,270.0 C115.2,269.0 114.5,267.3 115.0,265.0 C115.5,262.7 117.1,257.9 121.0,256.0 Z" fill="#f8c8d8"/><path d="M94.2,265.4 L114.0,266.0 L132.0,268.5 L132.0,272.0 L120.0,278.0 L94.2,281.0 Z" fill="#f080c0"/><path d="M94.0,258.7 L103.4,258.7 L103.4,271.0 L94.0,271.0 Z" fill="#7f7f7f"/><path d="M131.7,235.8 L136.9,219.4 L142.9,214.2 L148.1,211.9 L146.6,226.8 L139.9,235.8 Z" fill="#f4ee00"/></g>
<path d="M146.0,213.0 L158.0,206.0 L172.0,208.0 L183.0,216.0 L186.0,228.0 L186.0,246.0 L146.0,248.0 Z" fill="#f05545"/><path d="M148.0,209.0 C149.6,204.5 156.3,202.8 157.8,207.0 C159.3,211.2 158.6,229.5 157.0,234.0 C155.4,238.5 149.5,238.2 148.0,234.0 C146.5,229.8 146.4,213.5 148.0,209.0 Z" fill="#f040f0"/><path d="M141.4,235.0 C144.1,232.7 155.1,231.9 157.8,234.0 C160.5,236.1 160.5,245.4 157.8,247.7 C155.1,250.0 144.1,249.8 141.4,247.7 C138.7,245.6 138.7,237.3 141.4,235.0 Z" fill="#f040f0"/><path d="M172.0,212.0 C173.3,211.5 181.0,216.0 183.0,218.0 C185.0,220.0 185.3,223.5 184.0,224.0 C182.7,224.5 177.0,223.0 175.0,221.0 C173.0,219.0 170.7,212.5 172.0,212.0 Z" fill="#f040f0"/><path d="M170.0,233.0 C172.5,230.8 183.3,229.0 186.0,231.0 C188.7,233.0 188.5,242.8 186.0,245.0 C183.5,247.2 173.7,246.0 171.0,244.0 C168.3,242.0 167.5,235.2 170.0,233.0 Z" fill="#f040f0"/><path d="M151.8,211.9 C151.5,217 151,222 150.4,226.8 C149.5,230 148.5,233 147.4,235.8" fill="none" stroke="#1a4a24" stroke-width="1.7" stroke-opacity="1" stroke-linecap="round" stroke-linejoin="round"/><path d="M159.3,211.9 C161.5,214 163.5,217 163.8,219.4 C163.5,223 162,227 160.8,229.8" fill="none" stroke="#1a4a24" stroke-width="1.7" stroke-opacity="1" stroke-linecap="round" stroke-linejoin="round"/><path d="M165.3,209 C168,210.5 170,212.5 171.2,214.9 C172.5,218 172.8,221 172.7,223.8" fill="none" stroke="#1a4a24" stroke-width="1.7" stroke-opacity="1" stroke-linecap="round" stroke-linejoin="round"/><path d="M172.7,211.9 C175,214 178,217 180.2,219.4" fill="none" stroke="#1a4a24" stroke-width="1.7" stroke-opacity="1" stroke-linecap="round" stroke-linejoin="round"/><path d="M169.7,229.8 C172,231.5 175,233 177.2,234.3 C180,235 182.5,235.5 184.6,235.8" fill="none" stroke="#1a4a24" stroke-width="1.7" stroke-opacity="1" stroke-linecap="round" stroke-linejoin="round"/><path d="M154.8,237.3 C158,239 162,240.8 165.3,241.7 C169,242.5 173,243 177.2,243.2" fill="none" stroke="#1a4a24" stroke-width="1.7" stroke-opacity="1" stroke-linecap="round" stroke-linejoin="round"/><path d="M176,221 C179,224 182,226 185,227" fill="none" stroke="#1a4a24" stroke-width="1.7" stroke-opacity="1" stroke-linecap="round" stroke-linejoin="round"/><path d="M150.0,232.0 C152.0,229.5 161.0,230.7 164.0,233.0 C167.0,235.3 170.0,243.5 168.0,246.0 C166.0,248.5 155.0,250.3 152.0,248.0 C149.0,245.7 148.0,234.5 150.0,232.0 Z" fill="#8a5a6a"/><path d="M140.0,248.0 L186.0,245.0 L186.0,263.0 L172.7,267.5 L157.8,269.0 L142.9,268.0 L138.0,270.0 Z" fill="#c42a22"/><path d="M136.0,240.0 C137.3,235.5 144.5,239.7 146.0,244.0 C147.5,248.3 146.3,261.5 145.0,266.0 C143.7,270.5 139.5,275.3 138.0,271.0 C136.5,266.7 134.7,244.5 136.0,240.0 Z" fill="#8a5a6a"/>
<circle cx="67.2" cy="239.4" r="0.8" fill="#fff"/>
</g>
<line x1="93.0" y1="197" x2="93.0" y2="282" stroke="#fff" stroke-width="1.9"/>
</g>
<g transform="translate(225.3 0.0)">
<g clip-path="url(#obclip)"><path d="M2.0,234.0 L32.0,234.0 L32.0,270.0 L2.0,270.0 Z" fill="#8d9cf0"/><path d="M3.0,240.0 L20.0,239.0 L34.0,250.5 L22.0,255.5 L3.0,255.5 Z" fill="#707070"/><path d="M2.0,263.0 L32.0,263.0 L32.0,270.0 L2.0,270.0 Z" fill="#35c9a9"/></g>
<g clip-path="url(#dclip)">
<rect x="0" y="190" width="190" height="95" fill="#8a7a8a"/>
<g clip-path="url(#lhalf)"><path d="M23.2,258.2 22.7,256.7 22.3,255.2 21.8,253.7 21.4,252.3 21.0,250.9 20.6,249.4 20.2,248.0 19.9,246.7 19.6,245.3 19.3,243.9 19.1,242.6 18.9,241.2 18.7,239.9 18.6,238.6 18.5,237.3 18.5,236.1 18.5,234.5 18.5,232.7 18.7,230.9 19.0,229.1 19.4,227.3 20.0,225.6 20.6,223.8 21.3,222.1 22.1,220.4 23.0,218.8 24.0,217.2 25.1,215.6 26.3,214.1 27.6,212.7 29.0,211.3 30.5,209.9 32.7,208.2 35.2,206.7 37.8,205.3 40.6,203.9 43.7,202.7 47.0,201.5 50.5,200.5 54.2,199.5 58.2,198.6 62.5,197.8 66.9,197.1 71.7,196.4 76.7,195.9 81.9,195.4 87.5,194.9 93.3,194.6 94.0,194.6 94.5,194.6 95.1,194.6 95.7,194.6 96.2,194.5 96.8,194.5 97.3,194.5 97.9,194.5 98.5,220.5 97.9,220.5 97.4,220.6 96.8,220.7 96.2,220.7 95.7,220.8 95.1,220.8 94.6,220.9 94.7,220.9 89.3,221.7 84.2,222.4 79.5,223.3 75.1,224.1 71.1,225.0 67.4,226.0 64.1,226.9 61.1,227.9 58.5,228.9 56.2,229.8 54.3,230.8 52.7,231.7 51.5,232.5 50.6,233.2 50.1,233.7 49.9,234.1 50.5,233.7 50.5,234.0 50.4,234.2 50.4,234.5 50.4,234.7 50.4,234.9 50.4,235.1 50.4,235.3 50.3,235.4 50.2,235.4 50.1,235.4 50.0,235.3 49.9,235.2 49.9,235.0 49.8,234.7 49.7,235.3 49.7,236.1 49.6,236.2 49.6,236.5 49.6,237.0 49.6,237.5 49.6,238.1 49.7,238.9 49.8,239.7 49.9,240.6 50.1,241.7 50.3,242.7 50.6,243.9 50.8,245.1 51.1,246.5 51.5,247.8 51.8,249.3Z" fill="#a09090"/><path d="M23.2,258.2 22.7,256.7 22.3,255.2 21.8,253.7 21.4,252.3 21.0,250.9 20.6,249.4 20.2,248.0 19.9,246.7 19.6,245.3 19.3,243.9 19.1,242.6 18.9,241.2 18.7,239.9 18.6,238.6 18.5,237.3 18.5,236.1 18.5,234.5 18.5,232.7 18.7,230.9 19.0,229.1 19.4,227.3 20.0,225.6 20.6,223.8 21.3,222.1 22.1,220.4 23.0,218.8 24.0,217.2 25.1,215.6 26.3,214.1 27.6,212.7 29.0,211.3 30.5,209.9 32.7,208.2 35.2,206.7 37.8,205.3 40.6,203.9 43.7,202.7 47.0,201.5 50.5,200.5 54.2,199.5 58.2,198.6 62.5,197.8 66.9,197.1 71.7,196.4 76.7,195.9 81.9,195.4 87.5,194.9 93.3,194.6 94.0,194.6 94.5,194.6 95.1,194.6 95.7,194.6 96.2,194.5 96.8,194.5 97.3,194.5 97.9,194.5 98.4,217.5 97.9,217.6 97.3,217.7 96.7,217.7 96.2,217.8 95.6,217.9 95.1,218.0 94.5,218.0 94.6,218.1 89.1,219.1 84.0,220.1 79.3,221.1 74.9,222.2 70.9,223.3 67.2,224.4 63.8,225.4 60.7,226.3 58.0,227.3 55.7,228.2 53.6,229.1 52.0,230.0 50.7,230.8 49.7,231.6 49.1,232.2 48.8,232.6 49.2,232.4 49.1,232.7 49.0,233.0 48.8,233.3 48.8,233.6 48.7,233.9 48.7,234.2 48.6,234.5 48.4,234.6 48.3,234.8 48.2,234.9 48.0,234.9 48.0,234.9 47.9,234.8 47.8,234.7 47.7,235.4 47.7,236.1 47.6,236.4 47.6,236.8 47.6,237.2 47.6,237.8 47.7,238.5 47.7,239.3 47.9,240.2 48.0,241.1 48.2,242.2 48.4,243.3 48.6,244.5 48.9,245.7 49.2,247.0 49.6,248.4 49.9,249.9Z" fill="#8e4a70"/><path d="M23.2,258.2 22.7,256.7 22.3,255.2 21.8,253.7 21.4,252.3 21.0,250.9 20.6,249.4 20.2,248.0 19.9,246.7 19.6,245.3 19.3,243.9 19.1,242.6 18.9,241.2 18.7,239.9 18.6,238.6 18.5,237.3 18.5,236.1 18.5,234.5 18.5,232.7 18.7,230.9 19.0,229.1 19.4,227.3 20.0,225.6 20.6,223.8 21.3,222.1 22.1,220.4 23.0,218.8 24.0,217.2 25.1,215.6 26.3,214.1 27.6,212.7 29.0,211.3 30.5,209.9 32.7,208.2 35.2,206.7 37.8,205.3 40.6,203.9 43.7,202.7 47.0,201.5 50.5,200.5 54.2,199.5 58.2,198.6 62.5,197.8 66.9,197.1 71.7,196.4 76.7,195.9 81.9,195.4 87.5,194.9 93.3,194.6 94.0,194.6 94.5,194.6 95.1,194.6 95.7,194.6 96.2,194.5 96.8,194.5 97.3,194.5 97.9,194.5 98.3,211.5 97.7,211.5 97.2,211.5 96.6,211.6 96.0,211.6 95.5,211.6 94.9,211.6 94.4,211.6 94.2,211.6 88.6,212.0 83.4,212.5 78.4,213.0 73.8,213.6 69.5,214.3 65.5,215.0 61.8,215.7 58.4,216.6 55.3,217.4 52.4,218.3 49.9,219.2 47.7,220.2 45.8,221.1 44.1,222.0 42.8,222.9 41.7,223.8 41.3,224.2 40.7,224.8 40.1,225.6 39.5,226.3 39.0,227.1 38.5,227.9 38.1,228.7 37.7,229.5 37.3,230.3 37.0,231.1 36.7,231.9 36.5,232.6 36.3,233.3 36.2,234.0 36.1,234.6 36.1,235.7 36.1,236.6 36.1,237.3 36.1,238.0 36.2,238.8 36.3,239.7 36.4,240.7 36.6,241.7 36.8,242.7 37.0,243.9 37.3,245.0 37.6,246.3 37.9,247.6 38.2,248.9 38.6,250.2 39.0,251.7 39.4,253.1Z" fill="#8a3a60"/><path d="M23.2,258.2 22.7,256.7 22.3,255.2 21.8,253.7 21.4,252.3 21.0,250.9 20.6,249.4 20.2,248.0 19.9,246.7 19.6,245.3 19.3,243.9 19.1,242.6 18.9,241.2 18.7,239.9 18.6,238.6 18.5,237.3 18.5,236.1 18.5,234.5 18.5,232.7 18.7,230.9 19.0,229.1 19.4,227.3 20.0,225.6 20.6,223.8 21.3,222.1 22.1,220.4 23.0,218.8 24.0,217.2 25.1,215.6 26.3,214.1 27.6,212.7 29.0,211.3 30.5,209.9 32.7,208.2 35.2,206.7 37.8,205.3 40.6,203.9 43.7,202.7 47.0,201.5 50.5,200.5 54.2,199.5 58.2,198.6 62.5,197.8 66.9,197.1 71.7,196.4 76.7,195.9 81.9,195.4 87.5,194.9 93.3,194.6 94.0,194.6 94.5,194.6 95.1,194.6 95.7,194.6 96.2,194.5 96.8,194.5 97.3,194.5 97.9,194.5 98.2,206.3 97.6,206.3 97.0,206.3 96.5,206.4 95.9,206.4 95.4,206.4 94.8,206.4 94.2,206.4 93.9,206.4 88.3,206.8 82.9,207.3 77.9,207.9 73.2,208.5 68.7,209.1 64.6,209.9 60.7,210.7 57.1,211.5 53.8,212.4 50.8,213.4 48.1,214.4 45.6,215.4 43.4,216.5 41.5,217.6 39.8,218.6 38.4,219.7 37.7,220.4 36.9,221.3 36.1,222.2 35.3,223.2 34.6,224.2 34.0,225.3 33.5,226.3 32.9,227.4 32.5,228.4 32.0,229.5 31.7,230.5 31.4,231.6 31.2,232.6 31.1,233.6 31.0,234.5 31.0,235.8 31.0,236.8 31.0,237.7 31.1,238.6 31.2,239.5 31.3,240.5 31.4,241.6 31.6,242.7 31.9,243.9 32.1,245.1 32.4,246.3 32.7,247.6 33.1,248.9 33.4,250.3 33.8,251.7 34.2,253.1 34.6,254.6Z" fill="#f0407a"/><path d="M23.2,258.2 22.7,256.7 22.3,255.2 21.8,253.7 21.4,252.3 21.0,250.9 20.6,249.4 20.2,248.0 19.9,246.7 19.6,245.3 19.3,243.9 19.1,242.6 18.9,241.2 18.7,239.9 18.6,238.6 18.5,237.3 18.5,236.1 18.5,234.5 18.5,232.7 18.7,230.9 19.0,229.1 19.4,227.3 20.0,225.6 20.6,223.8 21.3,222.1 22.1,220.4 23.0,218.8 24.0,217.2 25.1,215.6 26.3,214.1 27.6,212.7 29.0,211.3 30.5,209.9 32.7,208.2 35.2,206.7 37.8,205.3 40.6,203.9 43.7,202.7 47.0,201.5 50.5,200.5 54.2,199.5 58.2,198.6 62.5,197.8 66.9,197.1 71.7,196.4 76.7,195.9 81.9,195.4 87.5,194.9 93.3,194.6 94.0,194.6 94.5,194.6 95.1,194.6 95.7,194.6 96.2,194.5 96.8,194.5 97.3,194.5 97.9,194.5 98.1,202.5 97.5,202.5 97.0,202.5 96.4,202.5 95.8,202.5 95.3,202.6 94.7,202.6 94.2,202.6 93.7,202.6 88.0,202.9 82.6,203.3 77.5,203.8 72.7,204.4 68.1,205.0 63.8,205.7 59.9,206.5 56.1,207.3 52.7,208.2 49.5,209.2 46.5,210.2 43.8,211.3 41.4,212.4 39.2,213.6 37.2,214.8 35.5,216.1 34.5,217.0 33.4,218.1 32.5,219.2 31.5,220.4 30.7,221.6 29.9,222.8 29.2,224.1 28.6,225.4 28.0,226.7 27.6,228.0 27.2,229.3 26.9,230.7 26.6,232.0 26.5,233.3 26.5,234.5 26.5,235.9 26.5,237.0 26.6,238.0 26.7,239.0 26.8,240.1 27.0,241.3 27.2,242.4 27.4,243.6 27.7,244.8 28.0,246.1 28.3,247.4 28.7,248.7 29.1,250.1 29.5,251.5 29.9,252.9 30.4,254.3 30.8,255.8Z" fill="#5cc93a"/><path d="M23.2,258.2 22.7,256.7 22.3,255.2 21.8,253.7 21.4,252.3 21.0,250.9 20.6,249.4 20.2,248.0 19.9,246.7 19.6,245.3 19.3,243.9 19.1,242.6 18.9,241.2 18.7,239.9 18.6,238.6 18.5,237.3 18.5,236.1 18.5,234.5 18.5,232.7 18.7,230.9 19.0,229.1 19.4,227.3 20.0,225.6 20.6,223.8 21.3,222.1 22.1,220.4 23.0,218.8 24.0,217.2 25.1,215.6 26.3,214.1 27.6,212.7 29.0,211.3 30.5,209.9 32.7,208.2 35.2,206.7 37.8,205.3 40.6,203.9 43.7,202.7 47.0,201.5 50.5,200.5 54.2,199.5 58.2,198.6 62.5,197.8 66.9,197.1 71.7,196.4 76.7,195.9 81.9,195.4 87.5,194.9 93.3,194.6 94.0,194.6 94.5,194.6 95.1,194.6 95.7,194.6 96.2,194.5 96.8,194.5 97.3,194.5 97.9,194.5 98.0,199.5 97.5,199.5 96.9,199.5 96.3,199.5 95.8,199.5 95.2,199.6 94.6,199.6 94.1,199.6 93.6,199.6 87.8,199.9 82.4,200.3 77.2,200.8 72.3,201.4 67.7,202.0 63.3,202.7 59.2,203.5 55.4,204.4 51.9,205.3 48.5,206.3 45.5,207.4 42.6,208.5 40.0,209.7 37.7,211.0 35.5,212.4 33.6,213.8 32.4,214.9 31.3,216.1 30.2,217.3 29.1,218.6 28.2,219.9 27.3,221.3 26.5,222.7 25.8,224.2 25.2,225.6 24.7,227.1 24.3,228.6 23.9,230.1 23.7,231.6 23.5,233.0 23.5,234.5 23.5,236.0 23.5,237.1 23.6,238.2 23.7,239.4 23.8,240.5 24.0,241.8 24.2,243.0 24.5,244.2 24.8,245.5 25.1,246.8 25.4,248.2 25.8,249.5 26.2,250.9 26.6,252.3 27.0,253.8 27.5,255.2 28.0,256.7Z" fill="#6a1010"/><path d="M55.0,227.0 C58.0,224.8 63.8,225.2 68.0,225.0 C72.2,224.8 77.7,223.5 80.0,226.0 C82.3,228.5 82.0,234.7 82.0,240.0 C82.0,245.3 82.0,253.9 80.0,258.0 C78.0,262.1 73.7,264.0 70.0,264.8 C66.3,265.6 61.3,265.1 58.0,263.0 C54.7,260.9 51.3,256.2 50.0,252.0 C48.7,247.8 49.2,242.2 50.0,238.0 C50.8,233.8 52.0,229.2 55.0,227.0 Z" fill="#f23ae8"/><path d="M76.0,244.0 C77.3,241.5 84.2,240.8 86.0,243.0 C87.8,245.2 88.3,254.5 87.0,257.0 C85.7,259.5 79.8,260.2 78.0,258.0 C76.2,255.8 74.7,246.5 76.0,244.0 Z" fill="#c030b0"/><path d="M86.0,216.0 C87.1,213.8 92.2,213.0 93.5,215.0 C94.8,217.0 94.6,225.8 93.5,228.0 C92.4,230.2 88.2,230.0 87.0,228.0 C85.8,226.0 84.9,218.2 86.0,216.0 Z" fill="#8a8a20"/><path d="M44.0,257.0 L52.0,261.0 L62.0,265.0 L75.0,266.5 L85.0,266.0 L85.0,268.5 L74.0,269.5 L60.0,268.5 L50.0,265.0 L43.0,260.0 Z" fill="#f4ee00"/><path d="M34.0,254.0 C35.7,252.8 41.2,253.0 45.0,255.0 C48.8,257.0 54.8,263.5 57.0,266.0 C59.2,268.5 59.5,269.5 58.0,270.0 C56.5,270.5 51.8,270.3 48.0,269.0 C44.2,267.7 37.3,264.5 35.0,262.0 C32.7,259.5 32.3,255.2 34.0,254.0 Z" fill="#1a10a0"/><path d="M36.0,251.0 C37.3,250.3 42.5,251.0 44.0,252.0 C45.5,253.0 46.3,256.3 45.0,257.0 C43.7,257.7 37.5,257.0 36.0,256.0 C34.5,255.0 34.7,251.7 36.0,251.0 Z" fill="#4de8a0"/><path d="M51.0,265.0 C53.7,264.0 64.8,264.7 68.0,266.0 C71.2,267.3 72.7,272.0 70.0,273.0 C67.3,274.0 55.2,273.3 52.0,272.0 C48.8,270.7 48.3,266.0 51.0,265.0 Z" fill="#4de8a0"/><path d="M72.5,258.0 L93.5,258.0 L93.5,275.0 L73.0,273.0 Z" fill="#0f5040"/><path d="M66.0,273.0 L94.0,273.0 L94.0,281.0 L66.0,279.0 Z" fill="#b89468"/></g>
<g clip-path="url(#rhalf)"><path d="M89.0,194.6 89.6,194.6 90.1,194.6 90.7,194.6 91.2,194.6 91.8,194.6 92.4,194.6 92.9,194.6 93.6,194.6 97.2,194.7 100.7,194.8 104.3,194.9 107.8,195.0 111.4,195.0 115.0,195.1 118.5,195.2 122.2,195.3 124.2,195.5 126.0,195.8 127.7,196.1 129.4,196.6 131.0,197.1 132.5,197.8 134.0,198.5 135.5,199.3 136.8,200.2 138.1,201.1 139.4,202.2 140.5,203.3 141.6,204.5 142.7,205.7 143.6,207.0 144.9,208.9 145.3,210.9 145.3,211.8 145.4,212.6 145.5,213.4 145.6,214.2 145.6,215.0 145.7,215.8 145.8,216.6 125.9,218.5 125.8,217.7 125.7,216.8 125.6,216.0 125.6,215.2 125.5,214.4 125.4,213.6 125.3,212.8 126.6,217.0 127.4,218.6 127.0,218.2 126.7,217.7 126.4,217.4 126.0,217.1 125.7,216.8 125.4,216.6 125.1,216.4 124.8,216.2 124.4,216.1 124.0,215.9 123.6,215.7 123.0,215.6 122.4,215.5 121.6,215.3 121.2,215.3 118.0,215.2 114.5,215.1 110.9,215.0 107.4,214.9 103.8,214.9 100.2,214.8 96.7,214.7 93.2,214.6 92.9,214.6 92.4,214.6 91.8,214.6 91.2,214.6 90.7,214.6 90.1,214.6 89.6,214.6 89.0,214.6Z" fill="#a08a90"/><path d="M89.0,194.6 89.6,194.6 90.1,194.6 90.7,194.6 91.2,194.6 91.8,194.6 92.4,194.6 92.9,194.6 93.6,194.6 97.2,194.7 100.7,194.8 104.3,194.9 107.8,195.0 111.4,195.0 115.0,195.1 118.5,195.2 122.2,195.3 124.2,195.5 126.0,195.8 127.7,196.1 129.4,196.6 131.0,197.1 132.5,197.8 134.0,198.5 135.5,199.3 136.8,200.2 138.1,201.1 139.4,202.2 140.5,203.3 141.6,204.5 142.7,205.7 143.6,207.0 144.9,208.9 145.3,210.9 145.3,211.8 145.4,212.6 145.5,213.4 145.6,214.2 145.6,215.0 145.7,215.8 145.8,216.6 128.9,218.2 128.8,217.4 128.7,216.6 128.6,215.8 128.6,214.9 128.5,214.1 128.4,213.3 128.3,212.5 129.3,215.8 129.8,216.9 129.4,216.3 128.9,215.7 128.5,215.3 128.0,214.9 127.6,214.5 127.2,214.2 126.7,213.9 126.2,213.6 125.7,213.3 125.1,213.1 124.4,212.9 123.7,212.7 122.9,212.5 122.0,212.4 121.4,212.3 118.1,212.2 114.6,212.1 111.0,212.0 107.4,211.9 103.9,211.9 100.3,211.8 96.7,211.7 93.2,211.6 92.9,211.6 92.4,211.6 91.8,211.6 91.2,211.6 90.7,211.6 90.1,211.6 89.6,211.6 89.0,211.6Z" fill="#8a3a60"/><path d="M89.0,194.6 89.6,194.6 90.1,194.6 90.7,194.6 91.2,194.6 91.8,194.6 92.4,194.6 92.9,194.6 93.6,194.6 97.2,194.7 100.7,194.8 104.3,194.9 107.8,195.0 111.4,195.0 115.0,195.1 118.5,195.2 122.2,195.3 124.2,195.5 126.0,195.8 127.7,196.1 129.4,196.6 131.0,197.1 132.5,197.8 134.0,198.5 135.5,199.3 136.8,200.2 138.1,201.1 139.4,202.2 140.5,203.3 141.6,204.5 142.7,205.7 143.6,207.0 144.9,208.9 145.3,210.9 145.3,211.8 145.4,212.6 145.5,213.4 145.6,214.2 145.6,215.0 145.7,215.8 145.8,216.6 132.8,217.8 132.8,217.0 132.7,216.2 132.6,215.4 132.5,214.6 132.5,213.8 132.4,213.0 132.3,212.1 133.0,214.1 133.1,214.6 132.5,213.8 131.9,213.1 131.3,212.5 130.7,211.9 130.1,211.4 129.4,210.9 128.8,210.4 128.0,210.0 127.3,209.7 126.5,209.3 125.6,209.0 124.6,208.8 123.6,208.6 122.5,208.4 121.6,208.3 118.2,208.2 114.7,208.1 111.1,208.0 107.5,207.9 104.0,207.9 100.4,207.8 96.8,207.7 93.3,207.6 92.9,207.6 92.4,207.6 91.8,207.6 91.2,207.6 90.7,207.6 90.1,207.6 89.6,207.6 89.0,207.6Z" fill="#2a7ca8"/><path d="M89.0,194.6 89.6,194.6 90.1,194.6 90.7,194.6 91.2,194.6 91.8,194.6 92.4,194.6 92.9,194.6 93.6,194.6 97.2,194.7 100.7,194.8 104.3,194.9 107.8,195.0 111.4,195.0 115.0,195.1 118.5,195.2 122.2,195.3 124.2,195.5 126.0,195.8 127.7,196.1 129.4,196.6 131.0,197.1 132.5,197.8 134.0,198.5 135.5,199.3 136.8,200.2 138.1,201.1 139.4,202.2 140.5,203.3 141.6,204.5 142.7,205.7 143.6,207.0 144.9,208.9 145.3,210.9 145.3,211.8 145.4,212.6 145.5,213.4 145.6,214.2 145.6,215.0 145.7,215.8 145.8,216.6 135.8,217.6 135.8,216.7 135.7,215.9 135.6,215.1 135.5,214.3 135.5,213.5 135.4,212.7 135.3,211.9 135.7,212.9 135.5,212.8 134.8,211.9 134.2,211.1 133.4,210.3 132.7,209.6 131.9,209.0 131.1,208.4 130.3,207.9 129.4,207.4 128.5,206.9 127.5,206.5 126.5,206.2 125.3,205.9 124.2,205.6 122.9,205.4 121.7,205.3 118.3,205.2 114.7,205.1 111.2,205.0 107.6,204.9 104.0,204.9 100.5,204.8 96.9,204.7 93.4,204.6 92.9,204.6 92.4,204.6 91.8,204.6 91.2,204.6 90.7,204.6 90.1,204.6 89.6,204.6 89.0,204.6Z" fill="#f0407a"/><path d="M89.0,194.6 89.6,194.6 90.1,194.6 90.7,194.6 91.2,194.6 91.8,194.6 92.4,194.6 92.9,194.6 93.6,194.6 97.2,194.7 100.7,194.8 104.3,194.9 107.8,195.0 111.4,195.0 115.0,195.1 118.5,195.2 122.2,195.3 124.2,195.5 126.0,195.8 127.7,196.1 129.4,196.6 131.0,197.1 132.5,197.8 134.0,198.5 135.5,199.3 136.8,200.2 138.1,201.1 139.4,202.2 140.5,203.3 141.6,204.5 142.7,205.7 143.6,207.0 144.9,208.9 145.3,210.9 145.3,211.8 145.4,212.6 145.5,213.4 145.6,214.2 145.6,215.0 145.7,215.8 145.8,216.6 138.6,217.3 138.5,216.5 138.5,215.7 138.4,214.9 138.3,214.0 138.2,213.2 138.2,212.4 138.1,211.6 138.3,211.8 137.8,211.2 137.0,210.2 136.2,209.2 135.4,208.4 134.6,207.6 133.7,206.8 132.7,206.1 131.7,205.5 130.7,204.9 129.6,204.4 128.5,203.9 127.3,203.5 126.0,203.1 124.7,202.9 123.2,202.6 121.8,202.5 118.4,202.4 114.8,202.3 111.2,202.2 107.7,202.1 104.1,202.1 100.5,202.0 97.0,201.9 93.4,201.8 92.9,201.8 92.4,201.8 91.8,201.8 91.2,201.8 90.7,201.8 90.1,201.8 89.6,201.8 89.0,201.8Z" fill="#5cc93a"/><path d="M89.0,194.6 89.6,194.6 90.1,194.6 90.7,194.6 91.2,194.6 91.8,194.6 92.4,194.6 92.9,194.6 93.6,194.6 97.2,194.7 100.7,194.8 104.3,194.9 107.8,195.0 111.4,195.0 115.0,195.1 118.5,195.2 122.2,195.3 124.2,195.5 126.0,195.8 127.7,196.1 129.4,196.6 131.0,197.1 132.5,197.8 134.0,198.5 135.5,199.3 136.8,200.2 138.1,201.1 139.4,202.2 140.5,203.3 141.6,204.5 142.7,205.7 143.6,207.0 144.9,208.9 145.3,210.9 145.3,211.8 145.4,212.6 145.5,213.4 145.6,214.2 145.6,215.0 145.7,215.8 145.8,216.6 141.0,217.1 140.9,216.3 140.9,215.4 140.8,214.6 140.7,213.8 140.6,213.0 140.6,212.2 140.5,211.4 140.5,210.8 139.7,209.8 138.9,208.7 138.0,207.6 137.1,206.7 136.2,205.8 135.2,204.9 134.1,204.1 133.0,203.4 131.8,202.8 130.6,202.2 129.3,201.6 128.0,201.2 126.6,200.8 125.1,200.5 123.6,200.3 122.0,200.1 118.4,200.0 114.9,199.9 111.3,199.8 107.7,199.7 104.2,199.7 100.6,199.6 97.0,199.5 93.5,199.4 92.9,199.4 92.4,199.4 91.8,199.4 91.2,199.4 90.7,199.4 90.1,199.4 89.6,199.4 89.0,199.4Z" fill="#6a1010"/><path d="M96.6,212.8 C100.2,209.9 113.4,211.6 118.0,212.5 C122.6,213.4 123.2,215.1 124.0,218.0 C124.8,220.9 127.2,228.1 122.6,230.1 C118.0,232.1 100.9,233.0 96.6,230.1 C92.3,227.2 93.0,215.7 96.6,212.8 Z" fill="#22d6f0"/><path d="M121.0,216.0 C122.5,214.5 129.3,215.5 131.0,217.0 C132.7,218.5 132.5,223.5 131.0,225.0 C129.5,226.5 123.7,227.5 122.0,226.0 C120.3,224.5 119.5,217.5 121.0,216.0 Z" fill="#f040a0"/><path d="M116.0,223.0 C118.0,221.2 129.2,223.0 132.0,225.0 C134.8,227.0 135.0,233.2 133.0,235.0 C131.0,236.8 122.8,238.0 120.0,236.0 C117.2,234.0 114.0,224.8 116.0,223.0 Z" fill="#9a6a60"/><path d="M96.6,231.0 C100.8,228.1 116.8,228.8 122.0,230.0 C127.2,231.2 127.8,235.1 127.8,238.0 C127.8,240.9 127.2,245.9 122.0,247.5 C116.8,249.1 100.8,250.2 96.6,247.5 C92.4,244.8 92.4,233.9 96.6,231.0 Z" fill="#4a5cf0"/><path d="M141.6,213.4 L146.6,211.5 L147.5,216.0 L143.0,226.0 L135.0,237.5 L131.5,234.0 Z" fill="#c020c0"/><path d="M130.0,234.0 C131.4,233.0 136.3,233.0 138.0,234.0 C139.7,235.0 140.8,238.4 140.0,240.0 C139.2,241.6 134.8,243.6 133.0,243.6 C131.2,243.6 130.0,241.6 129.5,240.0 C129.0,238.4 128.6,235.0 130.0,234.0 Z" fill="#f4ee00"/><path d="M96.0,249.0 C98.8,247.5 110.2,247.7 113.0,249.0 C115.8,250.3 115.8,255.5 113.0,257.0 C110.2,258.5 98.8,259.3 96.0,258.0 C93.2,256.7 93.2,250.5 96.0,249.0 Z" fill="#a08a90"/><path d="M108.7,251.0 C110.5,249.5 119.0,249.7 121.0,251.0 C123.0,252.3 122.8,257.5 121.0,259.0 C119.2,260.5 112.0,261.3 110.0,260.0 C108.0,258.7 106.9,252.5 108.7,251.0 Z" fill="#8a8a20"/><path d="M121.0,250.0 C122.3,248.7 127.7,248.8 129.0,250.0 C130.3,251.2 130.3,255.7 129.0,257.0 C127.7,258.3 122.3,259.2 121.0,258.0 C119.7,256.8 119.7,251.3 121.0,250.0 Z" fill="#22d6f0"/><path d="M112.0,256.0 C115.8,253.7 130.8,252.7 134.8,254.4 C138.8,256.1 139.8,263.7 136.0,266.0 C132.2,268.3 116.2,270.0 112.2,268.3 C108.2,266.6 108.2,258.3 112.0,256.0 Z" fill="#f8c8d8"/><path d="M94.9,266.5 L131.3,266.5 L131.3,274.0 L112.0,277.0 L94.9,281.0 Z" fill="#b89468"/><path d="M98.0,265.0 C99.3,264.0 104.7,264.0 106.0,265.0 C107.3,266.0 107.3,270.0 106.0,271.0 C104.7,272.0 99.3,272.0 98.0,271.0 C96.7,270.0 96.7,266.0 98.0,265.0 Z" fill="#f0a0c0"/><path d="M93.5,258.0 L98.0,258.0 L98.0,275.0 L93.5,275.0 Z" fill="#0f5040"/></g>
<path d="M134.0,238.0 L186.0,238.0 L186.0,268.0 L136.0,271.0 Z" fill="#a08a90"/><path d="M143.0,213.0 C144.5,208.9 146.3,208.7 150.0,207.5 C153.7,206.3 160.3,205.8 165.0,206.0 C169.7,206.2 174.8,207.0 178.0,209.0 C181.2,211.0 183.2,214.5 184.5,218.0 C185.8,221.5 185.8,225.5 186.0,230.0 C186.2,234.5 187.3,242.4 186.0,245.0 C184.7,247.6 180.3,246.7 178.0,245.5 C175.7,244.3 174.5,239.9 172.0,238.0 C169.5,236.1 165.8,234.0 163.0,234.0 C160.2,234.0 157.5,235.8 155.0,238.0 C152.5,240.2 150.2,245.5 148.0,247.0 C145.8,248.5 143.2,249.5 142.0,247.0 C140.8,244.5 140.8,237.7 141.0,232.0 C141.2,226.3 141.5,217.1 143.0,213.0 Z" fill="#1f4f0a"/><path d="M168,216 C166,222 164,228 161.5,234" fill="none" stroke="#a08a90" stroke-width="2.2" stroke-opacity="1" stroke-linecap="round" stroke-linejoin="round"/><path d="M153.0,235.0 C154.3,232.7 158.8,231.8 162.0,232.0 C165.2,232.2 169.5,233.7 172.0,236.0 C174.5,238.3 178.2,244.2 177.0,246.0 C175.8,247.8 168.8,247.0 165.0,247.0 C161.2,247.0 156.0,248.0 154.0,246.0 C152.0,244.0 151.7,237.3 153.0,235.0 Z" fill="#a08a90"/><path d="M141.6,248.0 C143.3,245.5 149.4,246.0 152.0,247.0 C154.6,248.0 156.3,251.5 157.0,254.0 C157.7,256.5 158.5,260.7 156.0,262.0 C153.5,263.3 144.4,264.3 142.0,262.0 C139.6,259.7 139.9,250.5 141.6,248.0 Z" fill="#c21c9e"/><path d="M160.0,249.0 C162.5,246.8 172.0,248.3 176.0,248.6 C180.0,248.9 182.7,248.6 184.0,251.0 C185.3,253.4 186.3,260.8 184.0,263.0 C181.7,265.2 173.8,264.2 170.0,264.0 C166.2,263.8 162.7,264.5 161.0,262.0 C159.3,259.5 157.5,251.2 160.0,249.0 Z" fill="#c21c9e"/><path d="M160.0,236.0 C161.2,235.0 166.7,235.0 168.0,236.0 C169.3,237.0 169.2,241.0 168.0,242.0 C166.8,243.0 162.3,243.0 161.0,242.0 C159.7,241.0 158.8,237.0 160.0,236.0 Z" fill="#c21c9e"/><path d="M150.0,250.0 C151.0,249.2 155.0,249.2 156.0,250.0 C157.0,250.8 157.0,254.2 156.0,255.0 C155.0,255.8 151.0,255.8 150.0,255.0 C149.0,254.2 149.0,250.8 150.0,250.0 Z" fill="#d01010" fill-opacity="0.6"/>
<circle cx="67.2" cy="239.4" r="0.8" fill="#fff"/>
</g>
<line x1="93.0" y1="197" x2="93.0" y2="282" stroke="#fff" stroke-width="1.9"/>
</g>
<g transform="translate(450.6 0.0)">
<g clip-path="url(#obclip)"><path d="M2.0,234.0 L32.0,234.0 L32.0,270.0 L2.0,270.0 Z" fill="#35c9a9"/><path d="M2.0,242.0 L22.0,241.5 L32.0,243.0 L33.0,256.0 L22.0,256.5 L2.0,256.0 Z" fill="#8d9cf0"/></g>
<g clip-path="url(#dclip)">
<rect x="0" y="190" width="190" height="95" fill="#8a7a8a"/>
<g clip-path="url(#lhalf)"><path d="M23.2,258.2 22.7,256.7 22.3,255.2 21.8,253.7 21.4,252.3 21.0,250.9 20.6,249.4 20.2,248.0 19.9,246.7 19.6,245.3 19.3,243.9 19.1,242.6 18.9,241.2 18.7,239.9 18.6,238.6 18.5,237.3 18.5,236.1 18.5,234.5 18.5,232.7 18.7,230.9 19.0,229.1 19.4,227.3 20.0,225.6 20.6,223.8 21.3,222.1 22.1,220.4 23.0,218.8 24.0,217.2 25.1,215.6 26.3,214.1 27.6,212.7 29.0,211.3 30.5,209.9 32.7,208.2 35.2,206.7 37.8,205.3 40.6,203.9 43.7,202.7 47.0,201.5 50.5,200.5 54.2,199.5 58.2,198.6 62.5,197.8 66.9,197.1 71.7,196.4 76.7,195.9 81.9,195.4 87.5,194.9 93.3,194.6 94.0,194.6 94.5,194.6 95.1,194.6 95.7,194.6 96.2,194.5 96.8,194.5 97.3,194.5 97.9,194.5 98.3,213.5 97.8,213.6 97.2,213.7 96.7,213.9 96.1,214.0 95.5,214.1 95.0,214.2 94.4,214.4 94.4,214.5 88.9,215.9 83.8,217.4 79.1,218.8 74.6,220.1 70.5,221.1 66.8,222.2 63.4,223.3 60.3,224.5 57.5,225.5 55.0,226.3 52.9,227.0 51.0,227.8 49.5,228.5 48.3,229.1 47.4,229.7 46.9,230.2 47.1,230.2 46.9,230.6 46.7,231.1 46.5,231.5 46.3,232.0 46.2,232.5 46.1,232.9 46.0,233.3 46.0,233.7 46.0,234.0 46.1,234.3 46.1,234.5 46.2,234.7 46.3,234.7 46.5,234.7 46.2,235.4 46.0,236.2 45.9,236.5 45.7,237.0 45.6,237.5 45.4,238.2 45.4,239.0 45.3,239.8 45.3,240.8 45.3,241.8 45.3,242.9 45.4,244.1 45.5,245.4 45.6,246.7 45.7,248.1 45.9,249.5 46.1,251.1Z" fill="#4f3a5a"/><path d="M23.2,258.2 22.7,256.7 22.3,255.2 21.8,253.7 21.4,252.3 21.0,250.9 20.6,249.4 20.2,248.0 19.9,246.7 19.6,245.3 19.3,243.9 19.1,242.6 18.9,241.2 18.7,239.9 18.6,238.6 18.5,237.3 18.5,236.1 18.5,234.5 18.5,232.7 18.7,230.9 19.0,229.1 19.4,227.3 20.0,225.6 20.6,223.8 21.3,222.1 22.1,220.4 23.0,218.8 24.0,217.2 25.1,215.6 26.3,214.1 27.6,212.7 29.0,211.3 30.5,209.9 32.7,208.2 35.2,206.7 37.8,205.3 40.6,203.9 43.7,202.7 47.0,201.5 50.5,200.5 54.2,199.5 58.2,198.6 62.5,197.8 66.9,197.1 71.7,196.4 76.7,195.9 81.9,195.4 87.5,194.9 93.3,194.6 94.0,194.6 94.5,194.6 95.1,194.6 95.7,194.6 96.2,194.5 96.8,194.5 97.3,194.5 97.9,194.5 98.3,211.0 97.7,211.1 97.2,211.2 96.6,211.3 96.0,211.4 95.5,211.5 94.9,211.6 94.4,211.7 94.2,211.8 88.7,213.0 83.5,214.2 78.7,215.4 74.2,216.6 70.0,217.8 66.2,219.0 62.7,220.3 59.6,221.5 56.7,222.6 54.1,223.4 51.8,224.2 49.8,225.0 48.1,225.8 46.8,226.6 45.7,227.2 44.7,227.6 44.5,227.5 43.8,227.8 43.2,228.2 42.5,228.6 41.9,229.0 41.3,229.5 40.7,230.1 40.1,230.6 39.6,231.2 39.1,231.8 38.7,232.4 38.3,233.0 38.0,233.5 37.7,234.1 37.5,234.6 37.4,235.6 37.4,236.5 37.4,237.2 37.4,237.9 37.4,238.7 37.5,239.5 37.6,240.4 37.8,241.4 37.9,242.5 38.2,243.6 38.4,244.8 38.7,246.0 39.0,247.2 39.3,248.6 39.6,249.9 40.0,251.4 40.4,252.8Z" fill="#a0205a"/><path d="M23.2,258.2 22.7,256.7 22.3,255.2 21.8,253.7 21.4,252.3 21.0,250.9 20.6,249.4 20.2,248.0 19.9,246.7 19.6,245.3 19.3,243.9 19.1,242.6 18.9,241.2 18.7,239.9 18.6,238.6 18.5,237.3 18.5,236.1 18.5,234.5 18.5,232.7 18.7,230.9 19.0,229.1 19.4,227.3 20.0,225.6 20.6,223.8 21.3,222.1 22.1,220.4 23.0,218.8 24.0,217.2 25.1,215.6 26.3,214.1 27.6,212.7 29.0,211.3 30.5,209.9 32.7,208.2 35.2,206.7 37.8,205.3 40.6,203.9 43.7,202.7 47.0,201.5 50.5,200.5 54.2,199.5 58.2,198.6 62.5,197.8 66.9,197.1 71.7,196.4 76.7,195.9 81.9,195.4 87.5,194.9 93.3,194.6 94.0,194.6 94.5,194.6 95.1,194.6 95.7,194.6 96.2,194.5 96.8,194.5 97.3,194.5 97.9,194.5 98.3,210.8 97.7,210.9 97.2,211.0 96.6,211.1 96.0,211.1 95.5,211.2 94.9,211.3 94.3,211.4 94.2,211.5 88.7,212.6 83.5,213.7 78.6,214.9 74.1,216.1 70.0,217.3 66.1,218.5 62.6,219.7 59.4,221.0 56.6,222.1 53.8,222.6 51.4,223.2 49.3,223.8 47.4,224.4 45.9,225.0 44.6,225.6 43.4,226.0 43.0,225.9 42.2,226.3 41.4,226.7 40.6,227.2 39.9,227.7 39.1,228.3 38.4,228.9 37.8,229.6 37.2,230.3 36.6,231.0 36.0,231.7 35.6,232.4 35.2,233.1 34.8,233.9 34.5,234.6 34.1,235.7 33.8,236.7 33.6,237.5 33.3,238.3 33.1,239.3 33.0,240.3 32.8,241.3 32.7,242.5 32.6,243.7 32.8,244.9 33.0,246.2 33.2,247.5 33.4,248.8 33.7,250.2 34.0,251.6 34.3,253.1 34.6,254.6Z" fill="#b89468"/><path d="M23.2,258.2 22.7,256.7 22.3,255.2 21.8,253.7 21.4,252.3 21.0,250.9 20.6,249.4 20.2,248.0 19.9,246.7 19.6,245.3 19.3,243.9 19.1,242.6 18.9,241.2 18.7,239.9 18.6,238.6 18.5,237.3 18.5,236.1 18.5,234.5 18.5,232.7 18.7,230.9 19.0,229.1 19.4,227.3 20.0,225.6 20.6,223.8 21.3,222.1 22.1,220.4 23.0,218.8 24.0,217.2 25.1,215.6 26.3,214.1 27.6,212.7 29.0,211.3 30.5,209.9 32.7,208.2 35.2,206.7 37.8,205.3 40.6,203.9 43.7,202.7 47.0,201.5 50.5,200.5 54.2,199.5 58.2,198.6 62.5,197.8 66.9,197.1 71.7,196.4 76.7,195.9 81.9,195.4 87.5,194.9 93.3,194.6 94.0,194.6 94.5,194.6 95.1,194.6 95.7,194.6 96.2,194.5 96.8,194.5 97.3,194.5 97.9,194.5 98.0,199.5 97.5,199.5 96.9,199.5 96.3,199.5 95.8,199.5 95.2,199.6 94.6,199.6 94.1,199.6 93.6,199.6 87.8,199.9 82.4,200.3 77.2,200.8 72.3,201.4 67.7,202.0 63.3,202.7 59.2,203.5 55.4,204.4 51.9,205.3 48.5,206.3 45.5,207.4 42.6,208.5 40.0,209.7 37.7,211.0 35.5,212.4 33.6,213.8 32.4,214.9 31.3,216.1 30.2,217.3 29.1,218.6 28.2,219.9 27.3,221.3 26.5,222.7 25.8,224.2 25.2,225.6 24.7,227.1 24.3,228.6 23.9,230.1 23.7,231.6 23.5,233.0 23.5,234.5 23.5,236.0 23.5,237.1 23.6,238.2 23.7,239.4 23.8,240.5 24.0,241.8 24.2,243.0 24.5,244.2 24.8,245.5 25.1,246.8 25.4,248.2 25.8,249.5 26.2,250.9 26.6,252.3 27.0,253.8 27.5,255.2 28.0,256.7Z" fill="#90a060"/><path d="M50.0,226.0 C52.5,221.7 59.7,224.2 65.0,224.0 C70.3,223.8 79.0,222.7 82.0,225.0 C85.0,227.3 83.3,233.0 83.0,238.0 C82.7,243.0 82.2,250.2 80.0,255.0 C77.8,259.8 73.7,265.0 70.0,266.5 C66.3,268.0 61.3,266.8 58.0,264.0 C54.7,261.2 51.3,256.3 50.0,250.0 C48.7,243.7 47.5,230.3 50.0,226.0 Z" fill="#c015b5"/><path d="M81.0,221.0 C82.0,218.8 86.8,218.8 88.0,221.0 C89.2,223.2 89.0,231.8 88.0,234.0 C87.0,236.2 83.2,236.2 82.0,234.0 C80.8,231.8 80.0,223.2 81.0,221.0 Z" fill="#2a7ca8"/><path d="M86.0,218.0 C87.1,216.5 92.2,215.7 93.5,217.0 C94.8,218.3 94.6,224.5 93.5,226.0 C92.4,227.5 88.2,227.3 87.0,226.0 C85.8,224.7 84.9,219.5 86.0,218.0 Z" fill="#8a8a20"/><path d="M76.0,244.0 C77.7,241.7 86.0,240.8 88.0,243.0 C90.0,245.2 89.7,254.7 88.0,257.0 C86.3,259.3 80.0,259.2 78.0,257.0 C76.0,254.8 74.3,246.3 76.0,244.0 Z" fill="#d01010"/><path d="M68.7,260.0 C72.6,257.7 89.4,255.8 93.5,258.0 C97.6,260.2 97.4,271.2 93.5,273.5 C89.6,275.8 74.1,274.2 70.0,272.0 C65.9,269.8 64.8,262.3 68.7,260.0 Z" fill="#f040f0"/><path d="M37.0,256.0 C38.3,255.2 42.7,255.3 46.0,257.0 C49.3,258.7 55.0,263.8 57.0,266.0 C59.0,268.2 59.5,269.5 58.0,270.0 C56.5,270.5 51.3,270.3 48.0,269.0 C44.7,267.7 39.8,264.2 38.0,262.0 C36.2,259.8 35.7,256.8 37.0,256.0 Z" fill="#1a10a0"/><path d="M72.0,272.0 L94.0,272.0 L94.0,281.0 L72.0,279.0 Z" fill="#f080c0"/></g>
<g clip-path="url(#rhalf)"><path d="M89.0,194.6 89.6,194.6 90.1,194.6 90.7,194.6 91.2,194.6 91.8,194.6 92.4,194.6 92.9,194.6 93.6,194.6 97.2,194.7 100.7,194.8 104.3,194.9 107.8,195.0 111.4,195.0 115.0,195.1 118.5,195.2 122.2,195.3 124.2,195.5 126.0,195.8 127.7,196.1 129.4,196.6 131.0,197.1 132.5,197.8 134.0,198.5 135.5,199.3 136.8,200.2 138.1,201.1 139.4,202.2 140.5,203.3 141.6,204.5 142.7,205.7 143.6,207.0 144.9,208.9 145.3,210.9 145.3,211.8 145.4,212.6 145.5,213.4 145.6,214.2 145.6,215.0 145.7,215.8 145.8,216.6 124.9,218.6 124.8,217.8 124.7,216.9 124.6,216.1 124.5,215.3 124.4,214.5 124.3,213.7 124.2,212.9 125.5,217.5 126.4,219.4 126.0,219.0 125.7,218.6 125.4,218.4 125.1,218.2 124.8,218.0 124.6,217.9 124.3,217.8 124.1,217.7 123.8,217.6 123.4,217.5 123.1,217.4 122.6,217.3 122.0,217.3 121.4,217.2 121.1,217.2 118.0,217.3 114.4,217.3 110.9,217.3 107.3,217.3 103.7,217.4 100.2,217.4 96.6,217.4 93.1,217.5 92.9,217.5 92.4,217.5 91.8,217.5 91.2,217.5 90.7,217.5 90.1,217.6 89.6,217.6 89.0,217.6Z" fill="#8a4a6a"/><path d="M89.0,194.6 89.6,194.6 90.1,194.6 90.7,194.6 91.2,194.6 91.8,194.6 92.4,194.6 92.9,194.6 93.6,194.6 97.2,194.7 100.7,194.8 104.3,194.9 107.8,195.0 111.4,195.0 115.0,195.1 118.5,195.2 122.2,195.3 124.2,195.5 126.0,195.8 127.7,196.1 129.4,196.6 131.0,197.1 132.5,197.8 134.0,198.5 135.5,199.3 136.8,200.2 138.1,201.1 139.4,202.2 140.5,203.3 141.6,204.5 142.7,205.7 143.6,207.0 144.9,208.9 145.3,210.9 145.3,211.8 145.4,212.6 145.5,213.4 145.6,214.2 145.6,215.0 145.7,215.8 145.8,216.6 125.9,218.5 126.0,217.6 126.2,216.8 126.3,216.0 126.5,215.1 126.6,214.3 126.8,213.5 126.9,212.6 128.2,216.2 129.2,217.3 129.1,216.5 128.9,215.7 128.8,215.0 128.3,214.5 127.9,214.2 127.4,213.9 126.8,213.6 126.3,213.4 125.7,213.2 125.1,213.0 124.5,212.8 123.7,212.7 122.9,212.5 122.0,212.4 121.4,212.4 118.1,212.4 114.5,212.4 111.0,212.4 107.4,212.4 103.9,212.5 100.3,212.5 96.7,212.5 93.2,212.5 92.9,212.5 92.4,212.5 91.8,212.5 91.2,212.5 90.7,212.6 90.1,212.6 89.6,212.6 89.0,212.6Z" fill="#4f3a5a"/><path d="M89.0,194.6 89.6,194.6 90.1,194.6 90.7,194.6 91.2,194.6 91.8,194.6 92.4,194.6 92.9,194.6 93.6,194.6 97.2,194.7 100.7,194.8 104.3,194.9 107.8,195.0 111.4,195.0 115.0,195.1 118.5,195.2 122.2,195.3 124.2,195.5 126.0,195.8 127.7,196.1 129.4,196.6 131.0,197.1 132.5,197.8 134.0,198.5 135.5,199.3 136.8,200.2 138.1,201.1 139.4,202.2 140.5,203.3 141.6,204.5 142.7,205.7 143.6,207.0 144.9,208.9 145.3,210.9 145.3,211.8 145.4,212.6 145.5,213.4 145.6,214.2 145.6,215.0 145.7,215.8 145.8,216.6 125.9,218.5 126.1,217.6 126.2,216.8 126.4,216.0 126.6,215.1 126.8,214.3 127.0,213.5 127.2,212.6 128.5,216.1 129.5,217.1 129.4,216.3 129.3,215.5 129.1,214.7 128.9,213.9 128.6,213.3 128.2,212.6 127.8,212.0 127.4,211.3 126.8,210.7 126.2,210.1 125.5,209.4 124.6,208.8 123.6,208.6 122.5,208.4 121.6,208.3 118.2,208.3 114.7,208.3 111.1,208.2 107.5,208.2 104.0,208.2 100.4,208.1 96.8,208.1 93.3,208.0 92.9,208.0 92.4,208.1 91.8,208.1 91.2,208.1 90.7,208.1 90.1,208.1 89.6,208.1 89.0,208.1Z" fill="#b89468"/><path d="M89.0,194.6 89.6,194.6 90.1,194.6 90.7,194.6 91.2,194.6 91.8,194.6 92.4,194.6 92.9,194.6 93.6,194.6 97.2,194.7 100.7,194.8 104.3,194.9 107.8,195.0 111.4,195.0 115.0,195.1 118.5,195.2 122.2,195.3 124.2,195.5 126.0,195.8 127.7,196.1 129.4,196.6 131.0,197.1 132.5,197.8 134.0,198.5 135.5,199.3 136.8,200.2 138.1,201.1 139.4,202.2 140.5,203.3 141.6,204.5 142.7,205.7 143.6,207.0 144.9,208.9 145.3,210.9 145.3,211.8 145.4,212.6 145.5,213.4 145.6,214.2 145.6,215.0 145.7,215.8 145.8,216.6 141.0,217.1 140.9,216.3 140.9,215.4 140.8,214.6 140.7,213.8 140.6,213.0 140.6,212.2 140.5,211.4 140.5,210.8 139.7,209.8 138.9,208.7 138.0,207.6 137.1,206.7 136.2,205.8 135.2,204.9 134.1,204.1 133.0,203.4 131.8,202.8 130.6,202.2 129.3,201.6 128.0,201.2 126.6,200.8 125.1,200.5 123.6,200.3 122.0,200.1 118.4,200.0 114.9,199.9 111.3,199.8 107.7,199.7 104.2,199.7 100.6,199.6 97.0,199.5 93.5,199.4 92.9,199.4 92.4,199.4 91.8,199.4 91.2,199.4 90.7,199.4 90.1,199.4 89.6,199.4 89.0,199.4Z" fill="#70b050"/><path d="M96.0,213.0 L120.0,213.0 L120.0,219.0 L96.0,219.0 Z" fill="#8a4a6a"/><path d="M118.0,213.0 C120.0,211.2 129.5,212.2 132.0,214.0 C134.5,215.8 135.0,222.2 133.0,224.0 C131.0,225.8 122.5,226.8 120.0,225.0 C117.5,223.2 116.0,214.8 118.0,213.0 Z" fill="#f04080"/><path d="M96.3,218.9 C99.9,217.1 113.4,217.7 118.0,218.5 C122.6,219.3 123.7,222.2 124.0,224.0 C124.3,225.8 124.6,228.4 120.0,229.3 C115.4,230.2 100.2,231.0 96.3,229.3 C92.3,227.6 92.7,220.7 96.3,218.9 Z" fill="#22d6f0"/><path d="M95.0,226.0 L106.0,226.0 L104.0,231.0 L95.0,231.0 Z" fill="#8a8a20"/><path d="M96.3,230.0 C100.2,227.1 114.5,229.0 120.0,230.0 C125.5,231.0 128.5,233.1 129.3,236.0 C130.1,238.9 130.5,245.6 125.0,247.5 C119.5,249.4 101.1,250.4 96.3,247.5 C91.5,244.6 92.3,232.9 96.3,230.0 Z" fill="#4a5cf0"/><path d="M117.0,242.0 C119.3,240.3 129.5,238.5 132.0,240.0 C134.5,241.5 134.3,249.3 132.0,251.0 C129.7,252.7 120.5,251.5 118.0,250.0 C115.5,248.5 114.7,243.7 117.0,242.0 Z" fill="#f040f0"/><path d="M128.0,240.0 C129.0,239.0 134.0,239.0 135.0,240.0 C136.0,241.0 135.0,245.0 134.0,246.0 C133.0,247.0 130.0,247.0 129.0,246.0 C128.0,245.0 127.0,241.0 128.0,240.0 Z" fill="#f4ee00"/><path d="M99.0,244.0 C101.5,242.7 111.7,242.7 114.0,244.0 C116.3,245.3 115.5,250.7 113.0,252.0 C110.5,253.3 101.3,253.3 99.0,252.0 C96.7,250.7 96.5,245.3 99.0,244.0 Z" fill="#c01010"/><path d="M95.0,251.0 C97.8,249.7 109.3,249.7 112.0,251.0 C114.7,252.3 113.8,257.7 111.0,259.0 C108.2,260.3 97.7,260.3 95.0,259.0 C92.3,257.7 92.2,252.3 95.0,251.0 Z" fill="#9a8090"/><path d="M108.0,251.0 C110.2,249.3 119.7,249.3 122.0,251.0 C124.3,252.7 124.2,259.3 122.0,261.0 C119.8,262.7 111.3,262.7 109.0,261.0 C106.7,259.3 105.8,252.7 108.0,251.0 Z" fill="#8a8a20"/><path d="M104.0,258.0 C105.5,256.8 111.5,256.8 113.0,258.0 C114.5,259.2 114.5,263.8 113.0,265.0 C111.5,266.2 105.5,266.2 104.0,265.0 C102.5,263.8 102.5,259.2 104.0,258.0 Z" fill="#2a7ca8"/><path d="M115.0,256.0 C118.0,254.0 130.7,253.3 134.0,255.0 C137.3,256.7 138.0,264.0 135.0,266.0 C132.0,268.0 119.3,268.7 116.0,267.0 C112.7,265.3 112.0,258.0 115.0,256.0 Z" fill="#f8c8d8"/><path d="M93.5,258.0 L103.0,258.0 L103.0,265.0 L93.5,265.0 Z" fill="#f040f0"/><path d="M93.5,264.0 L132.0,266.0 L132.0,272.0 L115.0,278.0 L93.5,281.0 Z" fill="#f080c0"/><path d="M134.5,218.0 C135.2,212.2 138.0,214.3 140.0,214.0 C142.0,213.7 145.5,210.4 146.6,216.3 C147.7,222.2 148.4,243.8 146.6,249.2 C144.8,254.6 138.0,254.2 136.0,249.0 C134.0,243.8 133.8,223.8 134.5,218.0 Z" fill="#d01010"/><path d="M141.0,213.0 C141.7,211.3 145.8,209.2 147.0,210.0 C148.2,210.8 148.7,216.3 148.0,218.0 C147.3,219.7 144.2,220.8 143.0,220.0 C141.8,219.2 140.3,214.7 141.0,213.0 Z" fill="#f040f0"/></g>
<path d="M146.0,213.0 L158.0,206.0 L172.0,208.0 L183.0,216.0 L186.0,228.0 L186.0,246.0 L146.0,248.0 Z" fill="#f05545"/><path d="M148.0,212.0 C149.3,207.2 153.0,208.7 155.0,209.0 C157.0,209.3 159.0,210.8 160.0,214.0 C161.0,217.2 161.7,223.7 161.0,228.0 C160.3,232.3 157.8,237.0 156.0,240.0 C154.2,243.0 151.5,246.3 150.0,246.0 C148.5,245.7 147.3,243.7 147.0,238.0 C146.7,232.3 146.7,216.8 148.0,212.0 Z" fill="#1d5a28"/><path d="M151.8,211.9 C151.5,217 151,222 150.4,226.8 C149.5,230 148.5,233 147.4,235.8" fill="none" stroke="#1d5a28" stroke-width="2.3" stroke-opacity="1" stroke-linecap="round" stroke-linejoin="round"/><path d="M159.3,211.9 C161.5,214 163.5,217 163.8,219.4 C163.5,223 162,227 160.8,229.8" fill="none" stroke="#1d5a28" stroke-width="2.3" stroke-opacity="1" stroke-linecap="round" stroke-linejoin="round"/><path d="M165.3,209 C168,210.5 170,212.5 171.2,214.9 C172.5,218 172.8,221 172.7,223.8" fill="none" stroke="#1d5a28" stroke-width="2.3" stroke-opacity="1" stroke-linecap="round" stroke-linejoin="round"/><path d="M172.7,211.9 C175,214 178,217 180.2,219.4" fill="none" stroke="#1d5a28" stroke-width="2.3" stroke-opacity="1" stroke-linecap="round" stroke-linejoin="round"/><path d="M169.7,229.8 C172,231.5 175,233 177.2,234.3 C180,235 182.5,235.5 184.6,235.8" fill="none" stroke="#1d5a28" stroke-width="2.3" stroke-opacity="1" stroke-linecap="round" stroke-linejoin="round"/><path d="M154.8,237.3 C158,239 162,240.8 165.3,241.7 C169,242.5 173,243 177.2,243.2" fill="none" stroke="#1d5a28" stroke-width="2.3" stroke-opacity="1" stroke-linecap="round" stroke-linejoin="round"/><path d="M176,221 C179,224 182,226 185,227" fill="none" stroke="#1d5a28" stroke-width="2.3" stroke-opacity="1" stroke-linecap="round" stroke-linejoin="round"/><path d="M155.0,232.0 C156.3,229.3 163.8,231.3 166.0,234.0 C168.2,236.7 169.3,245.3 168.0,248.0 C166.7,250.7 160.2,252.7 158.0,250.0 C155.8,247.3 153.7,234.7 155.0,232.0 Z" fill="#a08a90"/><path d="M140.0,246.0 L186.0,245.0 L186.0,263.0 L172.7,267.5 L157.8,269.0 L142.9,268.0 L139.0,270.0 Z" fill="#c81010"/><path d="M136.0,243.0 C137.5,238.7 144.3,242.2 146.0,246.0 C147.7,249.8 147.5,261.7 146.0,266.0 C144.5,270.3 138.7,275.8 137.0,272.0 C135.3,268.2 134.5,247.3 136.0,243.0 Z" fill="#a08a90"/><path d="M160.0,238.0 C161.7,236.0 168.7,237.7 170.0,240.0 C171.3,242.3 169.7,250.0 168.0,252.0 C166.3,254.0 161.3,254.3 160.0,252.0 C158.7,249.7 158.3,240.0 160.0,238.0 Z" fill="#a08a90"/>
<circle cx="67.2" cy="239.4" r="0.8" fill="#fff"/>
</g>
<line x1="93.0" y1="197" x2="93.0" y2="282" stroke="#fff" stroke-width="1.9"/>
</g>
<g transform="translate(0.0 110.5)">
<g clip-path="url(#obclip)"><path d="M2.0,234.0 L32.0,234.0 L32.0,270.0 L2.0,270.0 Z" fill="#35c9a9"/><path d="M2.0,241.0 L22.0,240.5 L32.0,243.0 L33.0,257.0 L22.0,257.5 L2.0,257.0 Z" fill="#8d9cf0"/></g>
<g clip-path="url(#dclip)">
<rect x="0" y="190" width="190" height="95" fill="#8a7a8a"/>
<g clip-path="url(#lhalf)"><path d="M23.2,258.2 22.7,256.7 22.3,255.2 21.8,253.7 21.4,252.3 21.0,250.9 20.6,249.4 20.2,248.0 19.9,246.7 19.6,245.3 19.3,243.9 19.1,242.6 18.9,241.2 18.7,239.9 18.6,238.6 18.5,237.3 18.5,236.1 18.5,234.5 18.5,232.7 18.7,230.9 19.0,229.1 19.4,227.3 20.0,225.6 20.6,223.8 21.3,222.1 22.1,220.4 23.0,218.8 24.0,217.2 25.1,215.6 26.3,214.1 27.6,212.7 29.0,211.3 30.5,209.9 32.7,208.2 35.2,206.7 37.8,205.3 40.6,203.9 43.7,202.7 47.0,201.5 50.5,200.5 54.2,199.5 58.2,198.6 62.5,197.8 66.9,197.1 71.7,196.4 76.7,195.9 81.9,195.4 87.5,194.9 93.3,194.6 94.0,194.6 94.5,194.6 95.1,194.6 95.7,194.6 96.2,194.5 96.8,194.5 97.3,194.5 97.9,194.5 98.4,217.5 97.9,217.6 97.3,217.7 96.7,217.8 96.2,217.8 95.6,217.9 95.1,218.0 94.5,218.1 94.6,218.2 89.1,219.2 84.0,220.3 79.3,221.5 75.0,222.7 71.0,224.1 67.3,225.5 64.1,226.8 61.2,228.2 58.6,229.4 56.3,230.2 54.3,231.0 52.7,231.7 51.5,232.4 50.5,233.0 49.9,233.5 49.7,233.7 50.2,233.4 50.1,233.6 49.9,233.8 49.8,234.0 49.7,234.3 49.6,234.5 49.6,234.7 49.5,234.9 49.4,235.0 49.3,235.1 49.3,235.2 49.2,235.1 49.2,235.1 49.2,234.9 49.1,234.7 49.1,235.4 49.1,236.1 49.1,236.3 49.1,236.6 49.1,237.0 49.1,237.6 49.2,238.2 49.3,239.0 49.5,239.8 49.7,240.7 49.9,241.7 50.1,242.8 50.4,244.0 50.7,245.2 51.1,246.5 51.4,247.8 51.8,249.3Z" fill="#8a8a8a"/><path d="M23.2,258.2 22.7,256.7 22.3,255.2 21.8,253.7 21.4,252.3 21.0,250.9 20.6,249.4 20.2,248.0 19.9,246.7 19.6,245.3 19.3,243.9 19.1,242.6 18.9,241.2 18.7,239.9 18.6,238.6 18.5,237.3 18.5,236.1 18.5,234.5 18.5,232.7 18.7,230.9 19.0,229.1 19.4,227.3 20.0,225.6 20.6,223.8 21.3,222.1 22.1,220.4 23.0,218.8 24.0,217.2 25.1,215.6 26.3,214.1 27.6,212.7 29.0,211.3 30.5,209.9 32.7,208.2 35.2,206.7 37.8,205.3 40.6,203.9 43.7,202.7 47.0,201.5 50.5,200.5 54.2,199.5 58.2,198.6 62.5,197.8 66.9,197.1 71.7,196.4 76.7,195.9 81.9,195.4 87.5,194.9 93.3,194.6 94.0,194.6 94.5,194.6 95.1,194.6 95.7,194.6 96.2,194.5 96.8,194.5 97.3,194.5 97.9,194.5 98.4,215.0 97.8,215.1 97.2,215.2 96.7,215.3 96.1,215.4 95.6,215.5 95.0,215.6 94.4,215.7 94.4,215.8 88.9,217.0 83.9,218.2 79.1,219.4 74.7,220.7 70.7,222.1 67.0,223.5 63.7,224.9 60.7,226.2 58.1,227.5 55.7,228.3 53.6,229.1 51.9,229.9 50.6,230.6 49.5,231.3 48.8,231.8 48.4,232.2 48.8,232.0 48.6,232.2 48.4,232.5 48.2,232.8 48.1,233.2 47.9,233.5 47.8,233.8 47.7,234.1 47.6,234.3 47.4,234.5 47.3,234.6 47.3,234.8 47.2,234.8 47.2,234.8 47.1,234.7 47.1,235.4 47.1,236.2 47.1,236.4 47.1,236.8 47.1,237.3 47.2,237.9 47.2,238.6 47.4,239.4 47.5,240.3 47.7,241.2 47.9,242.2 48.2,243.3 48.5,244.5 48.8,245.8 49.1,247.1 49.5,248.4 49.9,249.9Z" fill="#cc2aa8"/><path d="M23.2,258.2 22.7,256.7 22.3,255.2 21.8,253.7 21.4,252.3 21.0,250.9 20.6,249.4 20.2,248.0 19.9,246.7 19.6,245.3 19.3,243.9 19.1,242.6 18.9,241.2 18.7,239.9 18.6,238.6 18.5,237.3 18.5,236.1 18.5,234.5 18.5,232.7 18.7,230.9 19.0,229.1 19.4,227.3 20.0,225.6 20.6,223.8 21.3,222.1 22.1,220.4 23.0,218.8 24.0,217.2 25.1,215.6 26.3,214.1 27.6,212.7 29.0,211.3 30.5,209.9 32.7,208.2 35.2,206.7 37.8,205.3 40.6,203.9 43.7,202.7 47.0,201.5 50.5,200.5 54.2,199.5 58.2,198.6 62.5,197.8 66.9,197.1 71.7,196.4 76.7,195.9 81.9,195.4 87.5,194.9 93.3,194.6 94.0,194.6 94.5,194.6 95.1,194.6 95.7,194.6 96.2,194.5 96.8,194.5 97.3,194.5 97.9,194.5 98.2,208.2 97.7,208.2 97.1,208.2 96.5,208.3 96.0,208.3 95.4,208.3 94.8,208.3 94.3,208.3 94.0,208.3 88.4,208.7 83.1,209.2 78.1,209.7 73.4,210.3 69.1,211.3 65.1,213.0 61.6,214.7 58.3,216.4 55.4,217.9 52.7,219.0 50.3,220.2 48.2,221.3 46.4,222.4 45.0,223.5 43.8,224.5 42.9,225.4 42.8,225.7 42.3,226.4 41.9,227.1 41.5,227.8 41.2,228.6 40.9,229.3 40.6,230.1 40.4,230.8 40.1,231.4 39.8,232.0 39.6,232.6 39.4,233.2 39.3,233.7 39.2,234.2 39.1,234.6 39.1,235.6 39.1,236.5 39.1,237.0 39.1,237.7 39.2,238.4 39.3,239.2 39.4,240.1 39.5,241.0 39.7,242.1 39.9,243.1 40.2,244.3 40.5,245.5 40.8,246.7 41.1,248.0 41.5,249.4 41.9,250.8 42.3,252.3Z" fill="#f040f0"/><path d="M23.2,258.2 22.7,256.7 22.3,255.2 21.8,253.7 21.4,252.3 21.0,250.9 20.6,249.4 20.2,248.0 19.9,246.7 19.6,245.3 19.3,243.9 19.1,242.6 18.9,241.2 18.7,239.9 18.6,238.6 18.5,237.3 18.5,236.1 18.5,234.5 18.5,232.7 18.7,230.9 19.0,229.1 19.4,227.3 20.0,225.6 20.6,223.8 21.3,222.1 22.1,220.4 23.0,218.8 24.0,217.2 25.1,215.6 26.3,214.1 27.6,212.7 29.0,211.3 30.5,209.9 32.7,208.2 35.2,206.7 37.8,205.3 40.6,203.9 43.7,202.7 47.0,201.5 50.5,200.5 54.2,199.5 58.2,198.6 62.5,197.8 66.9,197.1 71.7,196.4 76.7,195.9 81.9,195.4 87.5,194.9 93.3,194.6 94.0,194.6 94.5,194.6 95.1,194.6 95.7,194.6 96.2,194.5 96.8,194.5 97.3,194.5 97.9,194.5 98.2,208.2 97.7,208.2 97.1,208.2 96.5,208.1 96.0,208.1 95.4,208.1 94.8,208.1 94.3,208.1 94.0,208.0 88.3,208.1 83.0,208.2 78.0,208.4 73.2,208.7 68.7,209.0 64.3,208.1 59.8,206.4 55.6,205.0 51.6,204.3 48.2,205.3 45.1,206.4 42.2,207.6 39.6,208.8 37.2,210.2 35.0,211.5 33.0,213.0 31.7,214.2 30.5,215.4 29.4,216.7 28.3,218.0 27.4,219.4 26.5,220.8 25.7,222.3 24.9,223.8 24.3,225.3 23.8,226.8 23.3,228.3 22.9,229.9 22.7,231.4 22.5,233.0 22.5,234.5 22.5,236.0 22.5,237.1 22.6,238.3 22.7,239.5 22.9,240.7 23.0,241.9 23.3,243.2 23.5,244.4 23.8,245.8 24.1,247.1 24.5,248.4 24.8,249.8 25.2,251.2 25.7,252.6 26.1,254.0 26.5,255.5 27.0,257.0Z" fill="#2a7ca8"/><path d="M23.2,258.2 22.7,256.7 22.3,255.2 21.8,253.7 21.4,252.3 21.0,250.9 20.6,249.4 20.2,248.0 19.9,246.7 19.6,245.3 19.3,243.9 19.1,242.6 18.9,241.2 18.7,239.9 18.6,238.6 18.5,237.3 18.5,236.1 18.5,234.5 18.5,232.7 18.7,230.9 19.0,229.1 19.4,227.3 20.0,225.6 20.6,223.8 21.3,222.1 22.1,220.4 23.0,218.8 24.0,217.2 25.1,215.6 26.3,214.1 27.6,212.7 29.0,211.3 30.5,209.9 32.7,208.2 35.2,206.7 37.8,205.3 40.6,203.9 43.7,202.7 47.0,201.5 50.5,200.5 54.2,199.5 58.2,198.6 62.5,197.8 66.9,197.1 71.7,196.4 76.7,195.9 81.9,195.4 87.5,194.9 93.3,194.6 94.0,194.6 94.5,194.6 95.1,194.6 95.7,194.6 96.2,194.5 96.8,194.5 97.3,194.5 97.9,194.5 98.1,205.2 97.6,205.2 97.0,205.2 96.5,205.2 95.9,205.2 95.3,205.3 94.8,205.3 94.2,205.3 93.9,205.3 88.2,205.6 82.8,206.0 77.8,206.5 73.0,207.0 68.5,207.7 64.5,209.4 60.9,211.7 57.7,214.0 54.8,215.9 51.9,216.8 49.3,217.7 47.0,218.6 45.0,219.6 43.2,220.5 41.7,221.5 40.5,222.3 40.0,222.8 39.3,223.6 38.6,224.4 38.0,225.2 37.4,226.0 36.8,226.9 36.3,227.8 35.9,228.7 35.5,229.6 35.2,230.5 34.9,231.4 34.7,232.2 34.6,233.1 34.5,233.8 34.5,234.6 34.5,235.7 34.5,236.7 34.6,237.4 34.6,238.2 34.7,239.0 34.9,239.9 35.1,240.9 35.3,242.0 35.5,243.0 35.8,244.2 36.1,245.4 36.4,246.6 36.8,247.9 37.2,249.2 37.6,250.6 38.0,252.0 38.5,253.4Z" fill="#f040f0"/><path d="M23.2,258.2 22.7,256.7 22.3,255.2 21.8,253.7 21.4,252.3 21.0,250.9 20.6,249.4 20.2,248.0 19.9,246.7 19.6,245.3 19.3,243.9 19.1,242.6 18.9,241.2 18.7,239.9 18.6,238.6 18.5,237.3 18.5,236.1 18.5,234.5 18.5,232.7 18.7,230.9 19.0,229.1 19.4,227.3 20.0,225.6 20.6,223.8 21.3,222.1 22.1,220.4 23.0,218.8 24.0,217.2 25.1,215.6 26.3,214.1 27.6,212.7 29.0,211.3 30.5,209.9 32.7,208.2 35.2,206.7 37.8,205.3 40.6,203.9 43.7,202.7 47.0,201.5 50.5,200.5 54.2,199.5 58.2,198.6 62.5,197.8 66.9,197.1 71.7,196.4 76.7,195.9 81.9,195.4 87.5,194.9 93.3,194.6 94.0,194.6 94.5,194.6 95.1,194.6 95.7,194.6 96.2,194.5 96.8,194.5 97.3,194.5 97.9,194.5 98.0,200.7 97.5,200.7 96.9,200.7 96.4,200.7 95.8,200.7 95.2,200.8 94.7,200.8 94.1,200.8 93.6,200.8 87.9,201.1 82.5,201.5 77.3,202.0 72.4,202.6 67.8,203.2 63.5,203.9 59.5,204.7 55.7,205.5 52.2,206.5 48.9,207.4 45.9,208.5 43.1,209.6 40.6,210.8 38.3,212.0 36.2,213.4 34.4,214.7 33.2,215.7 32.1,216.9 31.1,218.1 30.1,219.3 29.2,220.6 28.4,221.9 27.6,223.3 26.9,224.7 26.4,226.1 25.8,227.5 25.4,228.9 25.1,230.3 24.9,231.7 24.7,233.1 24.7,234.5 24.7,235.9 24.7,237.0 24.8,238.1 24.9,239.2 25.0,240.4 25.2,241.6 25.4,242.8 25.7,244.0 26.0,245.3 26.3,246.5 26.6,247.9 27.0,249.2 27.4,250.6 27.8,252.0 28.2,253.4 28.6,254.9 29.1,256.3Z" fill="#5cc93a"/><path d="M23.2,258.2 22.7,256.7 22.3,255.2 21.8,253.7 21.4,252.3 21.0,250.9 20.6,249.4 20.2,248.0 19.9,246.7 19.6,245.3 19.3,243.9 19.1,242.6 18.9,241.2 18.7,239.9 18.6,238.6 18.5,237.3 18.5,236.1 18.5,234.5 18.5,232.7 18.7,230.9 19.0,229.1 19.4,227.3 20.0,225.6 20.6,223.8 21.3,222.1 22.1,220.4 23.0,218.8 24.0,217.2 25.1,215.6 26.3,214.1 27.6,212.7 29.0,211.3 30.5,209.9 32.7,208.2 35.2,206.7 37.8,205.3 40.6,203.9 43.7,202.7 47.0,201.5 50.5,200.5 54.2,199.5 58.2,198.6 62.5,197.8 66.9,197.1 71.7,196.4 76.7,195.9 81.9,195.4 87.5,194.9 93.3,194.6 94.0,194.6 94.5,194.6 95.1,194.6 95.7,194.6 96.2,194.5 96.8,194.5 97.3,194.5 97.9,194.5 98.0,199.3 97.5,199.3 96.9,199.3 96.3,199.3 95.8,199.3 95.2,199.4 94.6,199.4 94.1,199.4 93.5,199.4 87.8,199.7 82.3,200.1 77.2,200.6 72.3,201.2 67.6,201.8 63.3,202.5 59.2,203.3 55.4,204.2 51.8,205.1 48.5,206.1 45.4,207.2 42.6,208.3 40.0,209.6 37.6,210.8 35.4,212.2 33.5,213.6 32.3,214.7 31.1,215.9 30.0,217.2 29.0,218.5 28.0,219.8 27.2,221.2 26.4,222.6 25.7,224.1 25.0,225.6 24.5,227.0 24.1,228.5 23.7,230.0 23.5,231.5 23.3,233.0 23.3,234.5 23.3,236.0 23.3,237.1 23.4,238.2 23.5,239.4 23.6,240.6 23.8,241.8 24.1,243.0 24.3,244.3 24.6,245.6 24.9,246.9 25.3,248.2 25.6,249.6 26.0,251.0 26.4,252.4 26.9,253.8 27.3,255.3 27.8,256.8Z" fill="#7a2020"/><path d="M35,247 C30,236 34,224 45,215 C56,208 72,205 92,204" fill="none" stroke="#9a1050" stroke-width="1.2" stroke-opacity="0.6" stroke-linecap="round" stroke-linejoin="round"/><path d="M40,250 C36,238 40,228 50,221 C60,215 75,212 92,210" fill="none" stroke="#9a1050" stroke-width="1.2" stroke-opacity="0.5" stroke-linecap="round" stroke-linejoin="round"/><path d="M70,206 C78,204 86,203 93,203" fill="none" stroke="#2a7ca8" stroke-width="1.5" stroke-opacity="0.8" stroke-linecap="round" stroke-linejoin="round"/><path d="M51.0,224.0 C53.5,221.5 60.5,223.0 65.0,223.0 C69.5,223.0 75.8,221.2 78.0,224.0 C80.2,226.8 78.3,235.0 78.0,240.0 C77.7,245.0 78.3,251.3 76.0,254.0 C73.7,256.7 67.8,256.7 64.0,256.0 C60.2,255.3 55.3,253.0 53.0,250.0 C50.7,247.0 50.3,242.3 50.0,238.0 C49.7,233.7 48.5,226.5 51.0,224.0 Z" fill="#c015b5"/><path d="M74.5,217.0 C76.8,214.7 87.2,212.8 90.0,216.0 C92.8,219.2 92.7,232.3 91.0,236.0 C89.3,239.7 82.5,239.0 80.0,238.0 C77.5,237.0 76.9,233.5 76.0,230.0 C75.1,226.5 72.2,219.3 74.5,217.0 Z" fill="#f04070"/><path d="M76.0,247.0 C77.5,245.3 84.3,244.5 86.0,246.0 C87.7,247.5 87.5,254.3 86.0,256.0 C84.5,257.7 78.7,257.5 77.0,256.0 C75.3,254.5 74.5,248.7 76.0,247.0 Z" fill="#c82020"/><path d="M83.0,250.0 C83.7,249.0 86.3,249.0 87.0,250.0 C87.7,251.0 87.7,255.0 87.0,256.0 C86.3,257.0 83.7,257.0 83.0,256.0 C82.3,255.0 82.3,251.0 83.0,250.0 Z" fill="#f4ee00"/><path d="M50.0,251.0 C52.3,250.5 59.5,256.2 64.0,257.0 C68.5,257.8 75.0,254.7 77.0,256.0 C79.0,257.3 78.8,263.3 76.0,265.0 C73.2,266.7 64.3,266.8 60.0,266.0 C55.7,265.2 51.7,262.5 50.0,260.0 C48.3,257.5 47.7,251.5 50.0,251.0 Z" fill="#4de8a0"/><path d="M52.0,268.0 C55.2,267.0 68.7,266.7 72.0,268.0 C75.3,269.3 75.2,275.0 72.0,276.0 C68.8,277.0 56.3,275.3 53.0,274.0 C49.7,272.7 48.8,269.0 52.0,268.0 Z" fill="#4de8a0"/><path d="M35.0,254.0 C36.5,252.5 41.3,251.3 45.0,253.0 C48.7,254.7 54.8,261.2 57.0,264.0 C59.2,266.8 59.5,269.2 58.0,270.0 C56.5,270.8 51.7,270.3 48.0,269.0 C44.3,267.7 38.2,264.5 36.0,262.0 C33.8,259.5 33.5,255.5 35.0,254.0 Z" fill="#1a10a0"/><path d="M36.0,250.5 C37.0,249.7 41.8,250.1 43.0,251.0 C44.2,251.9 44.0,255.2 43.0,256.0 C42.0,256.8 38.2,256.9 37.0,256.0 C35.8,255.1 35.0,251.3 36.0,250.5 Z" fill="#f080c0"/><path d="M72.8,258.4 L93.5,258.4 L93.5,274.0 L73.0,272.0 Z" fill="#0f5040"/><path d="M72.8,273.0 L86.0,274.0 L86.0,279.0 L73.0,278.0 Z" fill="#1a10a0"/></g>
<g clip-path="url(#rhalf)"><path d="M89.0,194.6 89.6,194.6 90.1,194.6 90.7,194.6 91.2,194.6 91.8,194.6 92.4,194.6 92.9,194.6 93.6,194.6 97.2,194.7 100.7,194.8 104.3,194.9 107.8,195.0 111.4,195.0 115.0,195.1 118.5,195.2 122.2,195.3 124.2,195.5 126.0,195.8 127.7,196.1 129.4,196.6 131.0,197.1 132.5,197.8 134.0,198.5 135.5,199.3 136.8,200.2 138.1,201.1 139.4,202.2 140.5,203.3 141.6,204.5 142.7,205.7 143.6,207.0 144.9,208.9 145.3,210.9 145.3,211.8 145.4,212.6 145.5,213.4 145.6,214.2 145.6,215.0 145.7,215.8 145.8,216.6 125.9,218.5 125.8,217.7 125.7,216.8 125.6,216.0 125.6,215.2 125.5,214.4 125.4,213.6 125.3,212.8 126.6,217.0 127.4,218.6 127.0,218.2 126.7,217.7 126.4,217.4 126.0,217.1 125.7,216.8 125.4,216.6 125.1,216.4 124.8,216.2 124.4,216.1 124.0,215.9 123.6,215.7 123.0,215.6 122.4,215.5 121.6,215.3 121.2,215.3 118.0,215.2 114.5,215.1 110.9,215.0 107.4,214.9 103.8,214.9 100.2,214.8 96.7,214.7 93.2,214.6 92.9,214.6 92.4,214.6 91.8,214.6 91.2,214.6 90.7,214.6 90.1,214.6 89.6,214.6 89.0,214.6Z" fill="#801030"/><path d="M89.0,194.6 89.6,194.6 90.1,194.6 90.7,194.6 91.2,194.6 91.8,194.6 92.4,194.6 92.9,194.6 93.6,194.6 97.2,194.7 100.7,194.8 104.3,194.9 107.8,195.0 111.4,195.0 115.0,195.1 118.5,195.2 122.2,195.3 124.2,195.5 126.0,195.8 127.7,196.1 129.4,196.6 131.0,197.1 132.5,197.8 134.0,198.5 135.5,199.3 136.8,200.2 138.1,201.1 139.4,202.2 140.5,203.3 141.6,204.5 142.7,205.7 143.6,207.0 144.9,208.9 145.3,210.9 145.3,211.8 145.4,212.6 145.5,213.4 145.6,214.2 145.6,215.0 145.7,215.8 145.8,216.6 128.9,218.2 128.8,217.4 128.7,216.6 128.6,215.8 128.6,214.9 128.5,214.1 128.4,213.3 128.3,212.5 129.3,215.8 129.8,216.9 129.4,216.3 128.9,215.7 128.5,215.3 128.0,214.9 127.6,214.5 127.2,214.2 126.7,213.9 126.2,213.6 125.7,213.3 125.1,213.1 124.4,212.9 123.7,212.7 122.9,212.5 122.0,212.4 121.4,212.3 118.1,212.2 114.6,212.1 111.0,212.0 107.4,211.9 103.9,211.9 100.3,211.8 96.7,211.7 93.2,211.6 92.9,211.6 92.4,211.6 91.8,211.6 91.2,211.6 90.7,211.6 90.1,211.6 89.6,211.6 89.0,211.6Z" fill="#9a1a6a"/><path d="M89.0,194.6 89.6,194.6 90.1,194.6 90.7,194.6 91.2,194.6 91.8,194.6 92.4,194.6 92.9,194.6 93.6,194.6 97.2,194.7 100.7,194.8 104.3,194.9 107.8,195.0 111.4,195.0 115.0,195.1 118.5,195.2 122.2,195.3 124.2,195.5 126.0,195.8 127.7,196.1 129.4,196.6 131.0,197.1 132.5,197.8 134.0,198.5 135.5,199.3 136.8,200.2 138.1,201.1 139.4,202.2 140.5,203.3 141.6,204.5 142.7,205.7 143.6,207.0 144.9,208.9 145.3,210.9 145.3,211.8 145.4,212.6 145.5,213.4 145.6,214.2 145.6,215.0 145.7,215.8 145.8,216.6 131.8,217.9 131.8,217.1 131.7,216.3 131.6,215.5 131.5,214.7 131.5,213.9 131.4,213.0 131.3,212.2 132.1,214.5 132.3,215.1 131.7,214.4 131.2,213.8 130.6,213.2 130.0,212.6 129.5,212.1 128.9,211.7 128.2,211.3 127.6,210.9 126.9,210.6 126.1,210.3 125.3,210.0 124.4,209.8 123.4,209.6 122.4,209.4 121.5,209.3 118.2,209.2 114.6,209.1 111.1,209.0 107.5,208.9 103.9,208.9 100.4,208.8 96.8,208.7 93.3,208.6 92.9,208.6 92.4,208.6 91.8,208.6 91.2,208.6 90.7,208.6 90.1,208.6 89.6,208.6 89.0,208.6Z" fill="#2a7ca8"/><path d="M89.0,194.6 89.6,194.6 90.1,194.6 90.7,194.6 91.2,194.6 91.8,194.6 92.4,194.6 92.9,194.6 93.6,194.6 97.2,194.7 100.7,194.8 104.3,194.9 107.8,195.0 111.4,195.0 115.0,195.1 118.5,195.2 122.2,195.3 124.2,195.5 126.0,195.8 127.7,196.1 129.4,196.6 131.0,197.1 132.5,197.8 134.0,198.5 135.5,199.3 136.8,200.2 138.1,201.1 139.4,202.2 140.5,203.3 141.6,204.5 142.7,205.7 143.6,207.0 144.9,208.9 145.3,210.9 145.3,211.8 145.4,212.6 145.5,213.4 145.6,214.2 145.6,215.0 145.7,215.8 145.8,216.6 133.8,217.7 133.8,216.9 133.7,216.1 133.6,215.3 133.5,214.5 133.5,213.7 133.4,212.9 133.3,212.0 133.9,213.7 133.9,214.0 133.3,213.2 132.7,212.4 132.0,211.8 131.4,211.1 130.7,210.6 130.0,210.0 129.3,209.6 128.5,209.1 127.7,208.8 126.8,208.4 125.9,208.1 124.9,207.8 123.8,207.6 122.6,207.4 121.6,207.3 118.2,207.2 114.7,207.1 111.1,207.0 107.6,206.9 104.0,206.9 100.4,206.8 96.9,206.7 93.3,206.6 92.9,206.6 92.4,206.6 91.8,206.6 91.2,206.6 90.7,206.6 90.1,206.6 89.6,206.6 89.0,206.6Z" fill="#e040e0"/><path d="M89.0,194.6 89.6,194.6 90.1,194.6 90.7,194.6 91.2,194.6 91.8,194.6 92.4,194.6 92.9,194.6 93.6,194.6 97.2,194.7 100.7,194.8 104.3,194.9 107.8,195.0 111.4,195.0 115.0,195.1 118.5,195.2 122.2,195.3 124.2,195.5 126.0,195.8 127.7,196.1 129.4,196.6 131.0,197.1 132.5,197.8 134.0,198.5 135.5,199.3 136.8,200.2 138.1,201.1 139.4,202.2 140.5,203.3 141.6,204.5 142.7,205.7 143.6,207.0 144.9,208.9 145.3,210.9 145.3,211.8 145.4,212.6 145.5,213.4 145.6,214.2 145.6,215.0 145.7,215.8 145.8,216.6 138.8,217.3 138.7,216.5 138.7,215.7 138.6,214.8 138.5,214.0 138.4,213.2 138.4,212.4 138.3,211.6 138.5,211.7 138.0,211.1 137.2,210.1 136.4,209.1 135.6,208.2 134.7,207.4 133.8,206.6 132.8,205.9 131.9,205.3 130.8,204.7 129.7,204.2 128.6,203.7 127.3,203.3 126.1,203.0 124.7,202.7 123.3,202.4 121.9,202.3 118.4,202.2 114.8,202.1 111.2,202.0 107.7,201.9 104.1,201.9 100.6,201.8 97.0,201.7 93.4,201.6 92.9,201.6 92.4,201.6 91.8,201.6 91.2,201.6 90.7,201.6 90.1,201.6 89.6,201.6 89.0,201.6Z" fill="#9a1a6a"/><path d="M89.0,194.6 89.6,194.6 90.1,194.6 90.7,194.6 91.2,194.6 91.8,194.6 92.4,194.6 92.9,194.6 93.6,194.6 97.2,194.7 100.7,194.8 104.3,194.9 107.8,195.0 111.4,195.0 115.0,195.1 118.5,195.2 122.2,195.3 124.2,195.5 126.0,195.8 127.7,196.1 129.4,196.6 131.0,197.1 132.5,197.8 134.0,198.5 135.5,199.3 136.8,200.2 138.1,201.1 139.4,202.2 140.5,203.3 141.6,204.5 142.7,205.7 143.6,207.0 144.9,208.9 145.3,210.9 145.3,211.8 145.4,212.6 145.5,213.4 145.6,214.2 145.6,215.0 145.7,215.8 145.8,216.6 139.6,217.2 139.5,216.4 139.5,215.6 139.4,214.8 139.3,214.0 139.2,213.1 139.2,212.3 139.1,211.5 139.2,211.4 138.6,210.6 137.8,209.6 137.0,208.6 136.1,207.7 135.2,206.8 134.3,206.0 133.3,205.3 132.3,204.6 131.2,204.0 130.0,203.4 128.8,203.0 127.6,202.5 126.2,202.2 124.8,201.9 123.4,201.7 121.9,201.5 118.4,201.4 114.8,201.3 111.3,201.2 107.7,201.1 104.1,201.1 100.6,201.0 97.0,200.9 93.5,200.8 92.9,200.8 92.4,200.8 91.8,200.8 91.2,200.8 90.7,200.8 90.1,200.8 89.6,200.8 89.0,200.8Z" fill="#5cc93a"/><path d="M95.0,213.0 L120.0,213.0 L121.0,221.0 L95.0,221.0 Z" fill="#801030"/><path d="M98.0,223.0 L120.0,223.0 L120.0,228.0 L98.0,228.0 Z" fill="#22d6f0"/><path d="M95.0,226.5 L106.0,226.5 L106.0,230.0 L95.0,230.0 Z" fill="#8a8a20"/><path d="M95.2,230.5 C99.0,227.5 112.5,229.2 118.0,230.0 C123.5,230.8 126.7,232.0 128.0,235.0 C129.3,238.0 131.5,245.8 126.0,248.0 C120.5,250.2 100.3,250.9 95.2,248.0 C90.1,245.1 91.4,233.5 95.2,230.5 Z" fill="#4a5cf0"/><path d="M100.0,243.0 C102.0,241.8 110.0,241.8 112.0,243.0 C114.0,244.2 114.0,248.8 112.0,250.0 C110.0,251.2 102.0,251.2 100.0,250.0 C98.0,248.8 98.0,244.2 100.0,243.0 Z" fill="#c01010"/><path d="M94.0,249.0 C97.3,247.5 111.0,247.5 114.0,249.0 C117.0,250.5 115.3,256.5 112.0,258.0 C108.7,259.5 97.0,259.5 94.0,258.0 C91.0,256.5 90.7,250.5 94.0,249.0 Z" fill="#9a8a8e"/><path d="M124.0,246.0 C124.7,242.7 129.3,236.3 132.0,232.0 C134.7,227.7 138.2,221.7 140.0,220.0 C141.8,218.3 143.7,218.7 143.0,222.0 C142.3,225.3 138.5,235.0 136.0,240.0 C133.5,245.0 130.0,251.0 128.0,252.0 C126.0,253.0 123.3,249.3 124.0,246.0 Z" fill="#8a8a8a"/><path d="M130.0,236.0 C131.2,234.8 136.0,234.8 137.0,236.0 C138.0,237.2 137.2,241.8 136.0,243.0 C134.8,244.2 131.0,244.2 130.0,243.0 C129.0,241.8 128.8,237.2 130.0,236.0 Z" fill="#f4ee00"/><path d="M105.0,252.0 C107.5,249.7 118.3,249.7 121.0,252.0 C123.7,254.3 123.5,263.7 121.0,266.0 C118.5,268.3 108.7,268.3 106.0,266.0 C103.3,263.7 102.5,254.3 105.0,252.0 Z" fill="#f04080"/><path d="M116.0,255.0 C118.7,252.5 130.0,251.8 133.0,254.0 C136.0,256.2 136.7,265.5 134.0,268.0 C131.3,270.5 120.0,271.2 117.0,269.0 C114.0,266.8 113.3,257.5 116.0,255.0 Z" fill="#8a5a6a"/><path d="M121.0,252.0 C122.2,251.0 126.8,251.0 128.0,252.0 C129.2,253.0 129.2,257.0 128.0,258.0 C126.8,259.0 122.2,259.0 121.0,258.0 C119.8,257.0 119.8,253.0 121.0,252.0 Z" fill="#22d6f0"/><path d="M96.9,266.5 C100.1,264.2 112.8,264.8 116.0,266.5 C119.2,268.2 119.2,274.8 116.0,277.0 C112.8,279.2 100.2,281.8 97.0,280.0 C93.8,278.2 93.7,268.8 96.9,266.5 Z" fill="#b89468"/><path d="M112.5,270.0 C115.6,268.5 128.5,268.2 131.6,269.0 C134.7,269.8 134.1,273.5 131.0,275.0 C127.9,276.5 116.1,278.8 113.0,278.0 C109.9,277.2 109.4,271.5 112.5,270.0 Z" fill="#f8c8d8"/><path d="M93.5,258.0 L104.0,258.0 L104.0,274.0 L93.5,274.0 Z" fill="#0f5040"/></g>
<path d="M146.0,213.0 L158.0,206.0 L172.0,208.0 L183.0,216.0 L186.0,228.0 L186.0,246.0 L146.0,248.0 Z" fill="#f05545"/><path d="M148.0,212.0 C149.2,210.0 153.0,208.3 156.0,208.0 C159.0,207.7 163.7,208.0 166.0,210.0 C168.3,212.0 169.7,216.0 170.0,220.0 C170.3,224.0 169.7,229.7 168.0,234.0 C166.3,238.3 163.0,243.8 160.0,246.0 C157.0,248.2 152.2,248.7 150.0,247.0 C147.8,245.3 146.8,239.2 147.0,236.0 C147.2,232.8 150.7,230.7 151.0,228.0 C151.3,225.3 149.5,222.7 149.0,220.0 C148.5,217.3 146.8,214.0 148.0,212.0 Z" fill="#1d5a28"/><path d="M155.0,216.0 C155.7,213.5 159.0,213.3 160.0,215.0 C161.0,216.7 161.7,223.5 161.0,226.0 C160.3,228.5 157.0,231.7 156.0,230.0 C155.0,228.3 154.3,218.5 155.0,216.0 Z" fill="#f05545"/><path d="M151.8,211.9 C151.5,217 151,222 150.4,226.8 C149.5,230 148.5,233 147.4,235.8" fill="none" stroke="#1d5a28" stroke-width="2.4" stroke-opacity="1" stroke-linecap="round" stroke-linejoin="round"/><path d="M159.3,211.9 C161.5,214 163.5,217 163.8,219.4 C163.5,223 162,227 160.8,229.8" fill="none" stroke="#1d5a28" stroke-width="2.4" stroke-opacity="1" stroke-linecap="round" stroke-linejoin="round"/><path d="M165.3,209 C168,210.5 170,212.5 171.2,214.9 C172.5,218 172.8,221 172.7,223.8" fill="none" stroke="#1d5a28" stroke-width="2.4" stroke-opacity="1" stroke-linecap="round" stroke-linejoin="round"/><path d="M172.7,211.9 C175,214 178,217 180.2,219.4" fill="none" stroke="#1d5a28" stroke-width="2.4" stroke-opacity="1" stroke-linecap="round" stroke-linejoin="round"/><path d="M169.7,229.8 C172,231.5 175,233 177.2,234.3 C180,235 182.5,235.5 184.6,235.8" fill="none" stroke="#1d5a28" stroke-width="2.4" stroke-opacity="1" stroke-linecap="round" stroke-linejoin="round"/><path d="M154.8,237.3 C158,239 162,240.8 165.3,241.7 C169,242.5 173,243 177.2,243.2" fill="none" stroke="#1d5a28" stroke-width="2.4" stroke-opacity="1" stroke-linecap="round" stroke-linejoin="round"/><path d="M176,221 C179,224 182,226 185,227" fill="none" stroke="#1d5a28" stroke-width="2.4" stroke-opacity="1" stroke-linecap="round" stroke-linejoin="round"/><path d="M134.0,238.0 L152.0,240.0 L165.0,236.0 L186.0,244.0 L186.0,268.0 L137.0,271.0 Z" fill="#9a8a8e"/><path d="M150.0,254.0 C155.7,251.7 180.0,250.3 186.0,252.0 C192.0,253.7 191.7,261.7 186.0,264.0 C180.3,266.3 158.0,267.7 152.0,266.0 C146.0,264.3 144.3,256.3 150.0,254.0 Z" fill="#787072"/><path d="M168.0,238.0 C170.3,236.8 181.3,236.8 184.0,238.0 C186.7,239.2 186.3,243.8 184.0,245.0 C181.7,246.2 172.7,246.2 170.0,245.0 C167.3,243.8 165.7,239.2 168.0,238.0 Z" fill="#f04060"/>
<circle cx="67.2" cy="239.4" r="0.8" fill="#fff"/>
</g>
<line x1="93.0" y1="197" x2="93.0" y2="282" stroke="#fff" stroke-width="1.9"/>
</g>
<g transform="translate(225.3 110.5)">
<g clip-path="url(#obclip)"><path d="M2.0,234.0 L32.0,234.0 L32.0,270.0 L2.0,270.0 Z" fill="#35c9a9"/><path d="M2.0,243.0 L22.0,242.0 L32.0,244.0 L33.0,257.5 L22.0,258.0 L2.0,257.5 Z" fill="#8d9cf0"/></g>
<g clip-path="url(#dclip)">
<rect x="0" y="190" width="190" height="95" fill="#8a7a8a"/>
<g clip-path="url(#lhalf)"><path d="M23.2,258.2 22.7,256.7 22.3,255.2 21.8,253.7 21.4,252.3 21.0,250.9 20.6,249.4 20.2,248.0 19.9,246.7 19.6,245.3 19.3,243.9 19.1,242.6 18.9,241.2 18.7,239.9 18.6,238.6 18.5,237.3 18.5,236.1 18.5,234.5 18.5,232.7 18.7,230.9 19.0,229.1 19.4,227.3 20.0,225.6 20.6,223.8 21.3,222.1 22.1,220.4 23.0,218.8 24.0,217.2 25.1,215.6 26.3,214.1 27.6,212.7 29.0,211.3 30.5,209.9 32.7,208.2 35.2,206.7 37.8,205.3 40.6,203.9 43.7,202.7 47.0,201.5 50.5,200.5 54.2,199.5 58.2,198.6 62.5,197.8 66.9,197.1 71.7,196.4 76.7,195.9 81.9,195.4 87.5,194.9 93.3,194.6 94.0,194.6 94.5,194.6 95.1,194.6 95.7,194.6 96.2,194.5 96.8,194.5 97.3,194.5 97.9,194.5 98.3,213.5 97.8,213.7 97.2,213.9 96.7,214.2 96.1,214.4 95.5,214.6 95.0,214.8 94.4,215.0 94.4,215.2 89.0,217.7 84.0,220.1 79.3,221.4 75.0,222.6 70.9,223.9 67.3,225.1 64.0,226.4 61.0,227.6 58.5,228.8 56.2,230.0 54.4,231.2 53.0,232.3 51.7,232.9 50.8,233.4 50.1,233.7 49.8,233.9 50.3,233.5 50.1,233.6 49.9,233.8 49.7,234.0 49.6,234.2 49.4,234.4 49.3,234.5 49.2,234.7 49.1,234.9 49.0,235.0 48.9,235.1 48.9,235.1 48.9,235.0 48.9,234.9 48.9,234.7 48.9,235.4 48.9,236.1 48.8,236.3 48.9,236.6 48.9,237.1 49.0,237.6 49.0,238.3 49.2,239.0 49.3,239.8 49.5,240.8 49.8,241.8 50.0,242.8 50.3,244.0 50.7,245.2 51.0,246.5 51.4,247.8 51.8,249.3Z" fill="#a08a90"/><path d="M23.2,258.2 22.7,256.7 22.3,255.2 21.8,253.7 21.4,252.3 21.0,250.9 20.6,249.4 20.2,248.0 19.9,246.7 19.6,245.3 19.3,243.9 19.1,242.6 18.9,241.2 18.7,239.9 18.6,238.6 18.5,237.3 18.5,236.1 18.5,234.5 18.5,232.7 18.7,230.9 19.0,229.1 19.4,227.3 20.0,225.6 20.6,223.8 21.3,222.1 22.1,220.4 23.0,218.8 24.0,217.2 25.1,215.6 26.3,214.1 27.6,212.7 29.0,211.3 30.5,209.9 32.7,208.2 35.2,206.7 37.8,205.3 40.6,203.9 43.7,202.7 47.0,201.5 50.5,200.5 54.2,199.5 58.2,198.6 62.5,197.8 66.9,197.1 71.7,196.4 76.7,195.9 81.9,195.4 87.5,194.9 93.3,194.6 94.0,194.6 94.5,194.6 95.1,194.6 95.7,194.6 96.2,194.5 96.8,194.5 97.3,194.5 97.9,194.5 98.3,212.5 97.8,212.7 97.2,212.9 96.6,213.2 96.1,213.4 95.5,213.6 95.0,213.8 94.4,214.0 94.4,214.3 88.9,216.7 83.9,219.1 79.2,220.4 74.8,221.6 70.8,222.9 67.1,224.1 63.8,225.4 60.8,226.6 58.2,227.9 55.9,229.1 54.1,230.2 52.6,231.3 51.3,232.0 50.3,232.5 49.6,232.9 49.2,233.1 49.6,232.8 49.4,232.9 49.2,233.1 48.9,233.4 48.7,233.6 48.6,233.8 48.4,234.1 48.2,234.3 48.1,234.5 48.0,234.7 48.0,234.8 47.9,234.9 47.9,234.9 47.9,234.8 47.9,234.7 47.9,235.4 47.9,236.1 47.9,236.4 47.9,236.7 47.9,237.2 48.0,237.8 48.1,238.4 48.2,239.2 48.4,240.1 48.6,241.0 48.8,242.0 49.1,243.1 49.4,244.3 49.7,245.5 50.1,246.8 50.5,248.1 50.9,249.6Z" fill="#b03070"/><path d="M23.2,258.2 22.7,256.7 22.3,255.2 21.8,253.7 21.4,252.3 21.0,250.9 20.6,249.4 20.2,248.0 19.9,246.7 19.6,245.3 19.3,243.9 19.1,242.6 18.9,241.2 18.7,239.9 18.6,238.6 18.5,237.3 18.5,236.1 18.5,234.5 18.5,232.7 18.7,230.9 19.0,229.1 19.4,227.3 20.0,225.6 20.6,223.8 21.3,222.1 22.1,220.4 23.0,218.8 24.0,217.2 25.1,215.6 26.3,214.1 27.6,212.7 29.0,211.3 30.5,209.9 32.7,208.2 35.2,206.7 37.8,205.3 40.6,203.9 43.7,202.7 47.0,201.5 50.5,200.5 54.2,199.5 58.2,198.6 62.5,197.8 66.9,197.1 71.7,196.4 76.7,195.9 81.9,195.4 87.5,194.9 93.3,194.6 94.0,194.6 94.5,194.6 95.1,194.6 95.7,194.6 96.2,194.5 96.8,194.5 97.3,194.5 97.9,194.5 98.3,211.5 97.7,211.7 97.2,211.9 96.6,212.2 96.1,212.4 95.5,212.6 94.9,212.8 94.4,213.0 94.3,213.3 88.9,215.7 83.9,218.1 79.2,220.0 74.9,221.9 70.9,223.7 67.3,225.4 64.0,226.2 60.9,227.1 58.2,228.0 55.9,228.8 53.9,229.7 52.2,230.5 50.8,231.1 49.7,231.6 49.0,232.0 48.5,232.3 48.8,232.0 48.6,232.2 48.3,232.4 48.0,232.7 47.8,233.0 47.5,233.3 47.3,233.5 47.2,233.8 47.0,234.1 46.9,234.3 46.8,234.5 46.7,234.6 46.6,234.7 46.6,234.7 46.6,234.7 46.6,235.4 46.5,236.2 46.5,236.5 46.5,236.9 46.6,237.4 46.6,238.0 46.7,238.7 46.8,239.5 47.0,240.4 47.2,241.3 47.4,242.4 47.7,243.5 48.0,244.7 48.3,245.9 48.7,247.2 49.0,248.6 49.4,250.0Z" fill="#b89468"/><path d="M23.2,258.2 22.7,256.7 22.3,255.2 21.8,253.7 21.4,252.3 21.0,250.9 20.6,249.4 20.2,248.0 19.9,246.7 19.6,245.3 19.3,243.9 19.1,242.6 18.9,241.2 18.7,239.9 18.6,238.6 18.5,237.3 18.5,236.1 18.5,234.5 18.5,232.7 18.7,230.9 19.0,229.1 19.4,227.3 20.0,225.6 20.6,223.8 21.3,222.1 22.1,220.4 23.0,218.8 24.0,217.2 25.1,215.6 26.3,214.1 27.6,212.7 29.0,211.3 30.5,209.9 32.7,208.2 35.2,206.7 37.8,205.3 40.6,203.9 43.7,202.7 47.0,201.5 50.5,200.5 54.2,199.5 58.2,198.6 62.5,197.8 66.9,197.1 71.7,196.4 76.7,195.9 81.9,195.4 87.5,194.9 93.3,194.6 94.0,194.6 94.5,194.6 95.1,194.6 95.7,194.6 96.2,194.5 96.8,194.5 97.3,194.5 97.9,194.5 98.0,199.3 97.5,199.3 96.9,199.3 96.3,199.3 95.8,199.3 95.2,199.4 94.6,199.4 94.1,199.4 93.5,199.4 87.8,199.7 82.3,200.1 77.2,200.6 72.3,201.2 67.6,201.8 63.3,202.5 59.2,203.3 55.4,204.2 51.8,205.1 48.5,206.1 45.4,207.2 42.6,208.3 40.0,209.6 37.6,210.8 35.4,212.2 33.5,213.6 32.3,214.7 31.1,215.9 30.0,217.2 29.0,218.5 28.0,219.8 27.2,221.2 26.4,222.6 25.7,224.1 25.0,225.6 24.5,227.0 24.1,228.5 23.7,230.0 23.5,231.5 23.3,233.0 23.3,234.5 23.3,236.0 23.3,237.1 23.4,238.2 23.5,239.4 23.6,240.6 23.8,241.8 24.1,243.0 24.3,244.3 24.6,245.6 24.9,246.9 25.3,248.2 25.6,249.6 26.0,251.0 26.4,252.4 26.9,253.8 27.3,255.3 27.8,256.8Z" fill="#90a060"/><path d="M50,243 C48,235 55,228 65,224 C75,220 85,218 93,217" fill="none" stroke="#b03070" stroke-width="1.2" stroke-opacity="0.7" stroke-linecap="round" stroke-linejoin="round"/><path d="M72,210 C80,208 87,207 93,207" fill="none" stroke="#b03070" stroke-width="1.0" stroke-opacity="0.6" stroke-linecap="round" stroke-linejoin="round"/><path d="M51.0,226.0 C53.5,222.7 60.2,224.2 65.0,224.0 C69.8,223.8 77.3,222.3 80.0,225.0 C82.7,227.7 81.7,235.0 81.0,240.0 C80.3,245.0 78.5,251.9 76.0,255.0 C73.5,258.1 69.7,258.2 66.0,258.4 C62.3,258.6 56.7,258.4 54.0,256.0 C51.3,253.6 50.5,249.0 50.0,244.0 C49.5,239.0 48.5,229.3 51.0,226.0 Z" fill="#c015b5"/><path d="M50.0,250.0 C52.2,249.3 57.7,257.0 62.0,258.0 C66.3,259.0 73.5,254.7 76.0,256.0 C78.5,257.3 77.7,263.1 77.0,266.0 C76.3,268.9 76.2,272.3 72.0,273.5 C67.8,274.7 55.8,274.9 52.0,273.0 C48.2,271.1 49.3,265.8 49.0,262.0 C48.7,258.2 47.8,250.7 50.0,250.0 Z" fill="#4de8a0"/><path d="M80.0,217.0 C81.7,212.7 89.8,212.2 92.0,216.0 C94.2,219.8 95.2,235.7 93.5,240.0 C91.8,244.3 84.2,245.8 82.0,242.0 C79.8,238.2 78.3,221.3 80.0,217.0 Z" fill="#9a9098"/><path d="M86.0,214.0 C87.1,212.5 92.2,211.7 93.5,213.0 C94.8,214.3 94.6,220.5 93.5,222.0 C92.4,223.5 88.2,223.3 87.0,222.0 C85.8,220.7 84.9,215.5 86.0,214.0 Z" fill="#8a8a20"/><path d="M24.0,248.0 C25.2,246.5 30.7,249.0 34.0,250.0 C37.3,251.0 41.3,252.5 44.0,254.0 C46.7,255.5 49.0,257.3 50.0,259.0 C51.0,260.7 51.3,262.8 50.0,264.0 C48.7,265.2 44.8,266.0 42.0,266.0 C39.2,266.0 35.5,265.2 33.0,264.0 C30.5,262.8 28.5,261.7 27.0,259.0 C25.5,256.3 22.8,249.5 24.0,248.0 Z" fill="#b89468"/><path d="M74.0,258.0 L93.5,258.0 L93.5,274.0 L74.0,273.0 Z" fill="#707070"/><path d="M40.0,257.0 C41.0,256.2 44.2,255.5 47.0,257.0 C49.8,258.5 55.3,263.8 57.0,266.0 C58.7,268.2 58.5,269.5 57.0,270.0 C55.5,270.5 50.7,270.3 48.0,269.0 C45.3,267.7 42.3,264.0 41.0,262.0 C39.7,260.0 39.0,257.8 40.0,257.0 Z" fill="#1a10a0"/><path d="M84.0,244.0 C84.7,243.0 87.3,243.0 88.0,244.0 C88.7,245.0 88.7,249.0 88.0,250.0 C87.3,251.0 84.7,251.0 84.0,250.0 C83.3,249.0 83.3,245.0 84.0,244.0 Z" fill="#c01010"/></g>
<g clip-path="url(#rhalf)"><path d="M89.0,194.6 89.6,194.6 90.1,194.6 90.7,194.6 91.2,194.6 91.8,194.6 92.4,194.6 92.9,194.6 93.6,194.6 97.2,194.7 100.7,194.8 104.3,194.9 107.8,195.0 111.4,195.0 115.0,195.1 118.5,195.2 122.2,195.3 124.2,195.5 126.0,195.8 127.7,196.1 129.4,196.6 131.0,197.1 132.5,197.8 134.0,198.5 135.5,199.3 136.8,200.2 138.1,201.1 139.4,202.2 140.5,203.3 141.6,204.5 142.7,205.7 143.6,207.0 144.9,208.9 145.3,210.9 145.3,211.8 145.4,212.6 145.5,213.4 145.6,214.2 145.6,215.0 145.7,215.8 145.8,216.6 125.9,218.5 125.8,217.7 125.7,216.8 125.6,216.0 125.6,215.2 125.5,214.4 125.4,213.6 125.3,212.8 126.6,217.0 127.4,218.6 127.0,218.2 126.7,217.7 126.4,217.4 125.8,217.3 125.3,217.4 124.8,217.6 124.3,217.8 123.9,218.1 123.4,218.4 123.0,218.7 122.6,219.0 122.1,219.4 121.6,219.4 121.1,219.3 121.0,219.3 117.9,219.2 114.4,219.1 110.8,219.0 107.3,218.9 103.7,218.9 100.1,218.8 96.6,218.7 93.1,218.6 92.9,218.6 92.4,218.6 91.8,218.6 91.2,218.6 90.7,218.6 90.1,218.6 89.6,218.6 89.0,218.6Z" fill="#8a4a6a"/><path d="M89.0,194.6 89.6,194.6 90.1,194.6 90.7,194.6 91.2,194.6 91.8,194.6 92.4,194.6 92.9,194.6 93.6,194.6 97.2,194.7 100.7,194.8 104.3,194.9 107.8,195.0 111.4,195.0 115.0,195.1 118.5,195.2 122.2,195.3 124.2,195.5 126.0,195.8 127.7,196.1 129.4,196.6 131.0,197.1 132.5,197.8 134.0,198.5 135.5,199.3 136.8,200.2 138.1,201.1 139.4,202.2 140.5,203.3 141.6,204.5 142.7,205.7 143.6,207.0 144.9,208.9 145.3,210.9 145.3,211.8 145.4,212.6 145.5,213.4 145.6,214.2 145.6,215.0 145.7,215.8 145.8,216.6 131.8,217.9 131.6,217.1 131.4,216.3 131.2,215.5 130.9,214.7 130.7,213.9 130.5,213.1 130.2,212.3 130.9,215.0 131.0,216.0 130.3,215.5 129.6,215.1 129.0,214.8 128.3,214.6 127.7,214.4 127.1,214.2 126.6,214.0 126.1,213.8 125.5,213.7 124.9,213.6 124.2,213.5 123.5,213.4 122.8,213.3 121.9,213.2 121.3,213.1 118.1,213.0 114.5,212.9 111.0,212.8 107.4,212.7 103.8,212.7 100.3,212.6 96.7,212.5 93.2,212.4 92.9,212.4 92.4,212.4 91.8,212.4 91.2,212.4 90.7,212.4 90.1,212.4 89.6,212.4 89.0,212.4Z" fill="#a03060"/><path d="M89.0,194.6 89.6,194.6 90.1,194.6 90.7,194.6 91.2,194.6 91.8,194.6 92.4,194.6 92.9,194.6 93.6,194.6 97.2,194.7 100.7,194.8 104.3,194.9 107.8,195.0 111.4,195.0 115.0,195.1 118.5,195.2 122.2,195.3 124.2,195.5 126.0,195.8 127.7,196.1 129.4,196.6 131.0,197.1 132.5,197.8 134.0,198.5 135.5,199.3 136.8,200.2 138.1,201.1 139.4,202.2 140.5,203.3 141.6,204.5 142.7,205.7 143.6,207.0 144.9,208.9 145.3,210.9 145.3,211.8 145.4,212.6 145.5,213.4 145.6,214.2 145.6,215.0 145.7,215.8 145.8,216.6 121.9,218.8 122.1,218.0 122.4,217.2 122.6,216.3 122.8,215.5 123.1,214.6 123.3,213.8 123.5,212.9 125.2,217.6 126.6,219.2 126.7,218.4 126.8,217.7 126.8,216.9 126.8,216.2 126.8,215.5 126.7,214.8 126.6,214.1 126.3,213.4 126.0,212.6 125.5,211.9 125.0,211.1 124.3,210.3 123.3,210.0 122.3,209.9 121.5,209.8 118.2,209.7 114.6,209.6 111.1,209.5 107.5,209.4 103.9,209.4 100.4,209.3 96.8,209.2 93.3,209.1 92.9,209.1 92.4,209.1 91.8,209.1 91.2,209.1 90.7,209.1 90.1,209.1 89.6,209.1 89.0,209.1Z" fill="#b89468"/><path d="M89.0,194.6 89.6,194.6 90.1,194.6 90.7,194.6 91.2,194.6 91.8,194.6 92.4,194.6 92.9,194.6 93.6,194.6 97.2,194.7 100.7,194.8 104.3,194.9 107.8,195.0 111.4,195.0 115.0,195.1 118.5,195.2 122.2,195.3 124.2,195.5 126.0,195.8 127.7,196.1 129.4,196.6 131.0,197.1 132.5,197.8 134.0,198.5 135.5,199.3 136.8,200.2 138.1,201.1 139.4,202.2 140.5,203.3 141.6,204.5 142.7,205.7 143.6,207.0 144.9,208.9 145.3,210.9 145.3,211.8 145.4,212.6 145.5,213.4 145.6,214.2 145.6,215.0 145.7,215.8 145.8,216.6 141.0,217.1 140.9,216.3 140.9,215.4 140.8,214.6 140.7,213.8 140.6,213.0 140.6,212.2 140.5,211.4 140.5,210.8 139.7,209.8 138.9,208.7 138.0,207.6 137.1,206.7 136.2,205.8 135.2,204.9 134.1,204.1 133.0,203.4 131.8,202.8 130.6,202.2 129.3,201.6 128.0,201.2 126.6,200.8 125.1,200.5 123.6,200.3 122.0,200.1 118.4,200.0 114.9,199.9 111.3,199.8 107.7,199.7 104.2,199.7 100.6,199.6 97.0,199.5 93.5,199.4 92.9,199.4 92.4,199.4 91.8,199.4 91.2,199.4 90.7,199.4 90.1,199.4 89.6,199.4 89.0,199.4Z" fill="#70b050"/><path d="M96.0,219.0 L118.0,219.0 L119.0,226.0 L96.0,226.0 Z" fill="#6a1020"/><path d="M100.0,223.0 L118.0,223.0 L118.0,228.5 L100.0,228.5 Z" fill="#22d6f0"/><path d="M95.0,226.0 L106.0,226.0 L106.0,230.0 L95.0,230.0 Z" fill="#8a8a20"/><path d="M95.2,230.5 C99.0,227.8 112.5,229.2 118.0,230.0 C123.5,230.8 127.0,232.3 128.0,235.0 C129.0,237.7 129.5,244.2 124.0,246.0 C118.5,247.8 100.0,248.6 95.2,246.0 C90.4,243.4 91.4,233.2 95.2,230.5 Z" fill="#4a5cf0"/><path d="M94.0,246.0 C97.0,243.3 109.0,243.3 112.0,246.0 C115.0,248.7 115.0,259.3 112.0,262.0 C109.0,264.7 97.0,264.7 94.0,262.0 C91.0,259.3 91.0,248.7 94.0,246.0 Z" fill="#9a8a90"/><path d="M105.0,246.0 C106.2,245.0 110.8,245.0 112.0,246.0 C113.2,247.0 113.2,251.0 112.0,252.0 C110.8,253.0 106.2,253.0 105.0,252.0 C103.8,251.0 103.8,247.0 105.0,246.0 Z" fill="#c01010"/><path d="M110.5,251.0 C114.0,248.0 128.2,248.2 132.0,251.0 C135.8,253.8 136.5,265.0 133.0,268.0 C129.5,271.0 114.8,271.8 111.0,269.0 C107.2,266.2 107.0,254.0 110.5,251.0 Z" fill="#7a3a5a"/><path d="M121.0,251.0 C122.2,250.0 126.8,250.0 128.0,251.0 C129.2,252.0 129.2,256.0 128.0,257.0 C126.8,258.0 122.2,258.0 121.0,257.0 C119.8,256.0 119.8,252.0 121.0,251.0 Z" fill="#22d6f0"/><path d="M134.0,218.0 C135.2,215.5 140.5,214.0 142.0,216.0 C143.5,218.0 144.2,227.5 143.0,230.0 C141.8,232.5 136.5,233.0 135.0,231.0 C133.5,229.0 132.8,220.5 134.0,218.0 Z" fill="#2a7ca8" fill-opacity="0.8"/><path d="M130.0,237.0 C131.0,236.2 135.0,236.2 136.0,237.0 C137.0,237.8 137.0,241.2 136.0,242.0 C135.0,242.8 131.0,242.8 130.0,242.0 C129.0,241.2 129.0,237.8 130.0,237.0 Z" fill="#30a030"/><path d="M95.0,258.0 L109.0,258.0 L109.0,266.0 L95.0,266.0 Z" fill="#7f7f7f"/><path d="M93.5,266.0 L132.0,268.0 L132.0,272.0 L115.0,278.0 L93.5,281.0 Z" fill="#f080c0"/><path d="M116.0,269.0 C118.7,267.7 129.3,268.0 132.0,269.0 C134.7,270.0 134.7,273.7 132.0,275.0 C129.3,276.3 118.7,278.0 116.0,277.0 C113.3,276.0 113.3,270.3 116.0,269.0 Z" fill="#f8c8d8"/></g>
<path d="M134.0,236.0 L186.0,238.0 L186.0,268.0 L137.0,271.0 Z" fill="#9a8a90"/><path d="M143.0,215.0 C145.0,210.8 151.2,208.2 156.0,207.0 C160.8,205.8 167.5,206.5 172.0,208.0 C176.5,209.5 180.7,212.7 183.0,216.0 C185.3,219.3 185.5,223.3 186.0,228.0 C186.5,232.7 187.8,241.3 186.0,244.0 C184.2,246.7 179.3,244.3 175.0,244.0 C170.7,243.7 164.5,242.0 160.0,242.0 C155.5,242.0 150.7,245.7 148.0,244.0 C145.3,242.3 144.8,236.8 144.0,232.0 C143.2,227.2 141.0,219.2 143.0,215.0 Z" fill="#f05545"/><path d="M141.7,213.0 C143.1,206.8 148.1,208.2 150.0,208.0 C151.9,207.8 153.3,209.3 153.0,212.0 C152.7,214.7 149.2,220.2 148.0,224.0 C146.8,227.8 146.5,231.4 146.0,235.0 C145.5,238.6 145.8,243.9 145.0,245.6 C144.2,247.3 142.1,250.4 141.5,245.0 C140.9,239.6 140.3,219.2 141.7,213.0 Z" fill="#f040f0"/><path d="M150.0,208.0 C152.3,206.9 161.0,206.6 165.0,206.8 C169.0,207.0 172.7,208.0 174.0,209.0 C175.3,210.0 175.3,212.4 173.0,213.0 C170.7,213.6 163.7,212.4 160.0,212.5 C156.3,212.6 152.7,214.2 151.0,213.5 C149.3,212.8 147.7,209.1 150.0,208.0 Z" fill="#f040f0"/><path d="M153.0,217.0 C153.8,214.9 158.7,214.7 160.0,216.5 C161.3,218.3 161.8,225.9 161.0,228.0 C160.2,230.1 156.3,230.8 155.0,229.0 C153.7,227.2 152.2,219.1 153.0,217.0 Z" fill="#f040f0"/><ellipse cx="176.5" cy="235" rx="8.6" ry="7.8" fill="#f040f0"/><ellipse cx="177" cy="235.5" rx="4" ry="3.4" fill="#f05545"/><path d="M169.6,212.5 C171.3,211.5 177.9,212.8 180.0,214.0 C182.1,215.2 183.7,219.0 182.0,220.0 C180.3,221.0 172.1,221.2 170.0,220.0 C167.9,218.8 167.9,213.5 169.6,212.5 Z" fill="#f040f0"/><path d="M154.0,232.0 C156.2,229.0 161.8,227.5 163.0,230.0 C164.2,232.5 163.2,244.0 161.0,247.0 C158.8,250.0 151.2,250.5 150.0,248.0 C148.8,245.5 151.8,235.0 154.0,232.0 Z" fill="#9a8a90"/><path d="M143.0,246.0 C145.8,243.1 152.8,245.3 160.0,245.0 C167.2,244.7 181.7,241.2 186.0,244.0 C190.3,246.8 190.3,259.0 186.0,262.0 C181.7,265.0 167.2,261.9 160.0,262.0 C152.8,262.1 145.8,265.0 143.0,262.3 C140.2,259.6 140.2,248.9 143.0,246.0 Z" fill="#2a7ca8"/><path d="M152.0,250.0 C153.8,248.7 160.2,248.0 162.0,249.0 C163.8,250.0 164.8,254.7 163.0,256.0 C161.2,257.3 152.8,258.0 151.0,257.0 C149.2,256.0 150.2,251.3 152.0,250.0 Z" fill="#9a8a90"/><circle cx="163" cy="236.5" r="2.6" fill="none" stroke="#2a7ca8" stroke-width="1.4"/>
<circle cx="67.2" cy="239.4" r="0.8" fill="#fff"/>
</g>
<line x1="93.0" y1="197" x2="93.0" y2="282" stroke="#fff" stroke-width="1.9"/>
</g>
<g transform="translate(450.6 110.5)">
<g clip-path="url(#obclip)"><path d="M2.0,234.0 L32.0,234.0 L32.0,270.0 L2.0,270.0 Z" fill="#8d9cf0"/><path d="M8.0,264.0 L28.0,264.0 L28.0,270.0 L8.0,270.0 Z" fill="#35c9a9"/></g>
<g clip-path="url(#dclip)">
<rect x="0" y="190" width="190" height="95" fill="#8a7a8a"/>
<g clip-path="url(#lhalf)"><path d="M23.2,258.2 22.7,256.7 22.3,255.2 21.8,253.7 21.4,252.3 21.0,250.9 20.6,249.4 20.2,248.0 19.9,246.7 19.6,245.3 19.3,243.9 19.1,242.6 18.9,241.2 18.7,239.9 18.6,238.6 18.5,237.3 18.5,236.1 18.5,234.5 18.5,232.7 18.7,230.9 19.0,229.1 19.4,227.3 20.0,225.6 20.6,223.8 21.3,222.1 22.1,220.4 23.0,218.8 24.0,217.2 25.1,215.6 26.3,214.1 27.6,212.7 29.0,211.3 30.5,209.9 32.7,208.2 35.2,206.7 37.8,205.3 40.6,203.9 43.7,202.7 47.0,201.5 50.5,200.5 54.2,199.5 58.2,198.6 62.5,197.8 66.9,197.1 71.7,196.4 76.7,195.9 81.9,195.4 87.5,194.9 93.3,194.6 94.0,194.6 94.5,194.6 95.1,194.6 95.7,194.6 96.2,194.5 96.8,194.5 97.3,194.5 97.9,194.5 98.4,214.5 97.8,214.6 97.2,214.7 96.7,214.9 96.1,215.0 95.6,215.1 95.0,215.3 94.4,215.4 94.4,215.5 88.9,217.0 83.9,218.5 79.2,220.0 74.8,221.5 70.8,223.0 67.2,224.4 63.8,225.5 60.8,226.6 58.1,227.6 55.8,228.7 53.9,229.7 52.3,230.7 51.0,231.5 50.1,232.3 49.6,233.0 49.4,233.4 49.9,233.1 49.8,233.4 49.8,233.7 49.7,233.9 49.7,234.2 49.6,234.5 49.6,234.7 49.7,235.0 49.7,235.1 49.8,235.3 49.9,235.3 50.1,235.3 50.2,235.2 50.3,235.0 50.5,234.7 50.2,235.3 50.0,236.0 49.9,236.2 49.7,236.5 49.5,237.0 49.4,237.5 49.3,238.2 49.2,239.0 49.2,239.9 49.2,240.8 49.2,241.9 49.2,243.0 49.3,244.3 49.4,245.6 49.6,246.9 49.7,248.4 49.9,249.9Z" fill="#b09070"/><path d="M23.2,258.2 22.7,256.7 22.3,255.2 21.8,253.7 21.4,252.3 21.0,250.9 20.6,249.4 20.2,248.0 19.9,246.7 19.6,245.3 19.3,243.9 19.1,242.6 18.9,241.2 18.7,239.9 18.6,238.6 18.5,237.3 18.5,236.1 18.5,234.5 18.5,232.7 18.7,230.9 19.0,229.1 19.4,227.3 20.0,225.6 20.6,223.8 21.3,222.1 22.1,220.4 23.0,218.8 24.0,217.2 25.1,215.6 26.3,214.1 27.6,212.7 29.0,211.3 30.5,209.9 32.7,208.2 35.2,206.7 37.8,205.3 40.6,203.9 43.7,202.7 47.0,201.5 50.5,200.5 54.2,199.5 58.2,198.6 62.5,197.8 66.9,197.1 71.7,196.4 76.7,195.9 81.9,195.4 87.5,194.9 93.3,194.6 94.0,194.6 94.5,194.6 95.1,194.6 95.7,194.6 96.2,194.5 96.8,194.5 97.3,194.5 97.9,194.5 98.3,212.5 97.8,212.6 97.2,212.7 96.6,212.9 96.1,213.0 95.5,213.1 95.0,213.3 94.4,213.4 94.3,213.5 88.8,215.0 83.7,216.5 79.0,218.0 74.6,219.5 70.5,221.0 66.8,222.5 63.4,223.5 60.3,224.6 57.6,225.7 55.2,226.8 53.2,227.8 51.5,228.8 50.1,229.8 49.1,230.6 48.5,231.3 48.1,231.8 48.5,231.7 48.4,232.0 48.2,232.4 48.1,232.7 48.0,233.1 47.9,233.5 47.9,233.8 47.9,234.1 47.9,234.4 47.9,234.6 48.0,234.8 48.1,234.9 48.2,234.9 48.3,234.9 48.5,234.7 48.2,235.4 48.0,236.1 47.9,236.4 47.7,236.8 47.5,237.3 47.4,237.9 47.3,238.6 47.3,239.4 47.2,240.3 47.2,241.3 47.3,242.4 47.3,243.6 47.4,244.8 47.5,246.1 47.7,247.5 47.8,248.9 48.0,250.5Z" fill="#4f3a5a"/><path d="M23.2,258.2 22.7,256.7 22.3,255.2 21.8,253.7 21.4,252.3 21.0,250.9 20.6,249.4 20.2,248.0 19.9,246.7 19.6,245.3 19.3,243.9 19.1,242.6 18.9,241.2 18.7,239.9 18.6,238.6 18.5,237.3 18.5,236.1 18.5,234.5 18.5,232.7 18.7,230.9 19.0,229.1 19.4,227.3 20.0,225.6 20.6,223.8 21.3,222.1 22.1,220.4 23.0,218.8 24.0,217.2 25.1,215.6 26.3,214.1 27.6,212.7 29.0,211.3 30.5,209.9 32.7,208.2 35.2,206.7 37.8,205.3 40.6,203.9 43.7,202.7 47.0,201.5 50.5,200.5 54.2,199.5 58.2,198.6 62.5,197.8 66.9,197.1 71.7,196.4 76.7,195.9 81.9,195.4 87.5,194.9 93.3,194.6 94.0,194.6 94.5,194.6 95.1,194.6 95.7,194.6 96.2,194.5 96.8,194.5 97.3,194.5 97.9,194.5 98.2,205.8 97.6,205.9 97.0,206.0 96.5,206.1 95.9,206.2 95.4,206.2 94.8,206.3 94.2,206.4 93.9,206.5 88.3,207.6 83.1,208.8 78.1,209.9 73.5,211.1 69.2,212.4 65.2,213.6 61.4,214.1 57.9,214.8 54.7,215.5 51.8,216.3 49.1,217.1 46.7,218.0 44.6,218.8 42.8,219.7 41.2,220.6 39.8,221.5 39.2,221.9 38.3,222.7 37.5,223.5 36.8,224.3 36.0,225.1 35.4,226.1 34.7,227.0 34.2,227.9 33.7,228.9 33.2,229.9 32.8,230.8 32.5,231.8 32.3,232.7 32.1,233.7 32.0,234.6 32.0,235.8 32.1,236.8 32.1,237.6 32.3,238.4 32.4,239.4 32.6,240.3 32.8,241.4 33.0,242.4 33.3,243.5 33.6,244.7 34.0,245.9 34.3,247.2 34.7,248.5 35.1,249.8 35.6,251.2 36.1,252.6 36.5,254.0Z" fill="#5cc93a"/><path d="M23.2,258.2 22.7,256.7 22.3,255.2 21.8,253.7 21.4,252.3 21.0,250.9 20.6,249.4 20.2,248.0 19.9,246.7 19.6,245.3 19.3,243.9 19.1,242.6 18.9,241.2 18.7,239.9 18.6,238.6 18.5,237.3 18.5,236.1 18.5,234.5 18.5,232.7 18.7,230.9 19.0,229.1 19.4,227.3 20.0,225.6 20.6,223.8 21.3,222.1 22.1,220.4 23.0,218.8 24.0,217.2 25.1,215.6 26.3,214.1 27.6,212.7 29.0,211.3 30.5,209.9 32.7,208.2 35.2,206.7 37.8,205.3 40.6,203.9 43.7,202.7 47.0,201.5 50.5,200.5 54.2,199.5 58.2,198.6 62.5,197.8 66.9,197.1 71.7,196.4 76.7,195.9 81.9,195.4 87.5,194.9 93.3,194.6 94.0,194.6 94.5,194.6 95.1,194.6 95.7,194.6 96.2,194.5 96.8,194.5 97.3,194.5 97.9,194.5 98.0,199.1 97.5,199.1 96.9,199.1 96.3,199.1 95.8,199.1 95.2,199.2 94.6,199.2 94.1,199.2 93.5,199.2 87.8,199.5 82.3,199.9 77.1,200.4 72.2,201.0 67.6,201.6 63.3,202.3 59.2,203.1 55.3,204.0 51.7,204.9 48.4,205.9 45.3,207.0 42.5,208.2 39.9,209.4 37.5,210.7 35.3,212.0 33.4,213.5 32.1,214.6 31.0,215.8 29.8,217.0 28.8,218.4 27.9,219.7 27.0,221.1 26.2,222.5 25.5,224.0 24.9,225.5 24.3,227.0 23.9,228.5 23.5,230.0 23.3,231.5 23.1,233.0 23.1,234.5 23.1,236.0 23.1,237.1 23.2,238.3 23.3,239.4 23.4,240.6 23.6,241.8 23.9,243.1 24.1,244.3 24.4,245.6 24.7,246.9 25.1,248.3 25.4,249.6 25.8,251.0 26.2,252.4 26.7,253.9 27.1,255.3 27.6,256.8Z" fill="#3a8a30"/><path d="M50.0,226.0 C52.5,221.7 59.7,224.2 65.0,224.0 C70.3,223.8 79.0,222.7 82.0,225.0 C85.0,227.3 83.3,232.5 83.0,238.0 C82.7,243.5 81.5,252.8 80.0,258.0 C78.5,263.2 77.7,267.2 74.0,269.0 C70.3,270.8 62.0,272.2 58.0,269.0 C54.0,265.8 51.3,257.2 50.0,250.0 C48.7,242.8 47.5,230.3 50.0,226.0 Z" fill="#c015b5"/><path d="M81.0,219.0 C82.3,216.8 88.3,216.2 90.0,218.0 C91.7,219.8 92.3,227.8 91.0,230.0 C89.7,232.2 83.7,232.8 82.0,231.0 C80.3,229.2 79.7,221.2 81.0,219.0 Z" fill="#b09070"/><path d="M86.0,216.0 C87.1,214.5 92.2,213.7 93.5,215.0 C94.8,216.3 94.6,222.5 93.5,224.0 C92.4,225.5 88.2,225.3 87.0,224.0 C85.8,222.7 84.9,217.5 86.0,216.0 Z" fill="#8a8a20"/><path d="M76.0,236.0 C77.8,232.3 86.7,232.3 89.0,236.0 C91.3,239.7 91.8,254.3 90.0,258.0 C88.2,261.7 80.3,261.7 78.0,258.0 C75.7,254.3 74.2,239.7 76.0,236.0 Z" fill="#c81010"/><path d="M72.8,258.4 L93.5,258.4 L93.5,274.0 L73.0,272.0 Z" fill="#0f5040"/><path d="M38.0,259.0 C37.7,257.0 42.8,256.8 46.0,258.0 C49.2,259.2 55.2,263.8 57.0,266.0 C58.8,268.2 58.5,270.3 57.0,271.0 C55.5,271.7 51.2,272.0 48.0,270.0 C44.8,268.0 38.3,261.0 38.0,259.0 Z" fill="#501010"/><path d="M37.0,252.0 C38.7,250.8 46.2,250.8 48.0,252.0 C49.8,253.2 49.7,257.8 48.0,259.0 C46.3,260.2 39.8,260.2 38.0,259.0 C36.2,257.8 35.3,253.2 37.0,252.0 Z" fill="#f080c0"/><path d="M72.8,273.0 L93.5,273.0 L93.5,280.0 L73.0,278.0 Z" fill="#f080c0"/><path d="M50.0,266.0 C53.3,265.0 68.3,266.3 72.0,268.0 C75.7,269.7 75.3,275.0 72.0,276.0 C68.7,277.0 55.7,275.7 52.0,274.0 C48.3,272.3 46.7,267.0 50.0,266.0 Z" fill="#c015b5"/></g>
<g clip-path="url(#rhalf)"><path d="M89.0,194.6 89.6,194.6 90.1,194.6 90.7,194.6 91.2,194.6 91.8,194.6 92.4,194.6 92.9,194.6 93.6,194.6 97.2,194.7 100.7,194.8 104.3,194.9 107.8,195.0 111.4,195.0 115.0,195.1 118.5,195.2 122.2,195.3 124.2,195.5 126.0,195.8 127.7,196.1 129.4,196.6 131.0,197.1 132.5,197.8 134.0,198.5 135.5,199.3 136.8,200.2 138.1,201.1 139.4,202.2 140.5,203.3 141.6,204.5 142.7,205.7 143.6,207.0 144.9,208.9 145.3,210.9 145.3,211.8 145.4,212.6 145.5,213.4 145.6,214.2 145.6,215.0 145.7,215.8 145.8,216.6 127.9,218.3 127.8,217.5 127.7,216.7 127.6,215.9 127.5,215.0 127.4,214.2 127.3,213.4 127.2,212.6 128.2,216.2 128.8,217.6 128.4,217.1 127.9,216.6 127.5,216.3 127.1,215.9 126.7,215.7 126.3,215.4 125.9,215.2 125.5,215.0 125.0,214.8 124.5,214.7 123.9,214.5 123.3,214.4 122.6,214.3 121.8,214.2 121.3,214.2 118.1,214.3 114.5,214.3 110.9,214.3 107.4,214.3 103.8,214.4 100.2,214.4 96.7,214.4 93.2,214.5 92.9,214.5 92.4,214.5 91.8,214.5 91.2,214.5 90.7,214.5 90.1,214.6 89.6,214.6 89.0,214.6Z" fill="#b09070"/><path d="M89.0,194.6 89.6,194.6 90.1,194.6 90.7,194.6 91.2,194.6 91.8,194.6 92.4,194.6 92.9,194.6 93.6,194.6 97.2,194.7 100.7,194.8 104.3,194.9 107.8,195.0 111.4,195.0 115.0,195.1 118.5,195.2 122.2,195.3 124.2,195.5 126.0,195.8 127.7,196.1 129.4,196.6 131.0,197.1 132.5,197.8 134.0,198.5 135.5,199.3 136.8,200.2 138.1,201.1 139.4,202.2 140.5,203.3 141.6,204.5 142.7,205.7 143.6,207.0 144.9,208.9 145.3,210.9 145.3,211.8 145.4,212.6 145.5,213.4 145.6,214.2 145.6,215.0 145.7,215.8 145.8,216.6 129.9,218.1 129.9,217.3 130.0,216.5 130.0,215.6 130.1,214.8 130.1,214.0 130.2,213.2 130.2,212.3 131.2,214.9 131.7,215.6 131.3,214.7 131.0,213.9 130.6,213.2 129.9,212.7 129.2,212.4 128.5,212.2 127.8,212.0 127.1,211.8 126.4,211.7 125.6,211.7 124.8,211.6 124.0,211.7 123.1,211.6 122.1,211.4 121.4,211.4 118.1,211.4 114.6,211.4 111.0,211.4 107.4,211.4 103.9,211.5 100.3,211.5 96.7,211.5 93.2,211.5 92.9,211.5 92.4,211.5 91.8,211.5 91.2,211.5 90.7,211.6 90.1,211.6 89.6,211.6 89.0,211.6Z" fill="#4f3a5a"/><path d="M89.0,194.6 89.6,194.6 90.1,194.6 90.7,194.6 91.2,194.6 91.8,194.6 92.4,194.6 92.9,194.6 93.6,194.6 97.2,194.7 100.7,194.8 104.3,194.9 107.8,195.0 111.4,195.0 115.0,195.1 118.5,195.2 122.2,195.3 124.2,195.5 126.0,195.8 127.7,196.1 129.4,196.6 131.0,197.1 132.5,197.8 134.0,198.5 135.5,199.3 136.8,200.2 138.1,201.1 139.4,202.2 140.5,203.3 141.6,204.5 142.7,205.7 143.6,207.0 144.9,208.9 145.3,210.9 145.3,211.8 145.4,212.6 145.5,213.4 145.6,214.2 145.6,215.0 145.7,215.8 145.8,216.6 129.9,218.1 130.0,217.3 130.2,216.4 130.4,215.6 130.6,214.8 130.8,213.9 131.0,213.1 131.1,212.2 132.1,214.5 132.7,214.8 132.5,213.8 132.2,212.8 131.9,211.8 131.6,210.9 131.2,210.0 130.7,209.1 130.1,208.2 129.4,207.4 128.5,207.0 127.5,206.6 126.4,206.3 125.3,206.0 124.1,205.8 122.9,205.6 121.7,205.5 118.3,205.5 114.7,205.5 111.2,205.5 107.6,205.5 104.0,205.5 100.5,205.5 96.9,205.5 93.4,205.5 92.9,205.5 92.4,205.5 91.8,205.5 91.2,205.5 90.7,205.6 90.1,205.6 89.6,205.6 89.0,205.6Z" fill="#5cc93a"/><path d="M95.0,213.0 L124.0,213.0 L124.0,218.0 L95.0,218.0 Z" fill="#b09070"/><path d="M96.0,216.0 C99.7,213.8 113.7,215.0 118.0,216.0 C122.3,217.0 121.8,219.8 122.0,222.0 C122.2,224.2 123.3,228.1 119.0,229.3 C114.7,230.5 99.8,231.5 96.0,229.3 C92.2,227.1 92.3,218.2 96.0,216.0 Z" fill="#22d6f0"/><path d="M95.0,224.0 L106.0,224.0 L106.0,228.0 L95.0,228.0 Z" fill="#8a8a20"/><path d="M95.0,230.0 C97.5,227.5 107.2,227.5 110.0,230.0 C112.8,232.5 114.5,242.5 112.0,245.0 C109.5,247.5 97.8,247.5 95.0,245.0 C92.2,242.5 92.5,232.5 95.0,230.0 Z" fill="#4a5cf0"/><path d="M108.0,231.0 C110.3,228.8 121.0,229.5 124.0,231.0 C127.0,232.5 128.3,237.8 126.0,240.0 C123.7,242.2 113.0,245.5 110.0,244.0 C107.0,242.5 105.7,233.2 108.0,231.0 Z" fill="#c81010"/><path d="M100.0,240.0 C101.3,239.0 106.7,239.0 108.0,240.0 C109.3,241.0 109.3,245.0 108.0,246.0 C106.7,247.0 101.3,247.0 100.0,246.0 C98.7,245.0 98.7,241.0 100.0,240.0 Z" fill="#c81010"/><path d="M112.0,238.0 C114.7,235.3 125.7,234.7 130.0,236.0 C134.3,237.3 137.0,241.7 138.0,246.0 C139.0,250.3 139.0,258.8 136.0,262.0 C133.0,265.2 123.7,266.7 120.0,265.0 C116.3,263.3 115.3,256.5 114.0,252.0 C112.7,247.5 109.3,240.7 112.0,238.0 Z" fill="#0f5040"/><path d="M94.0,248.0 C97.0,246.5 109.0,246.5 112.0,248.0 C115.0,249.5 115.0,255.5 112.0,257.0 C109.0,258.5 97.0,258.5 94.0,257.0 C91.0,255.5 91.0,249.5 94.0,248.0 Z" fill="#a08a70"/><path d="M108.0,252.0 C109.5,251.0 116.3,251.0 118.0,252.0 C119.7,253.0 119.5,257.0 118.0,258.0 C116.5,259.0 110.7,259.0 109.0,258.0 C107.3,257.0 106.5,253.0 108.0,252.0 Z" fill="#8a8a20"/><path d="M120.0,250.0 C121.2,249.0 126.7,249.0 128.0,250.0 C129.3,251.0 129.2,255.0 128.0,256.0 C126.8,257.0 122.3,257.0 121.0,256.0 C119.7,255.0 118.8,251.0 120.0,250.0 Z" fill="#22d6f0"/><path d="M93.5,257.0 L134.0,257.0 L134.0,270.0 L93.5,270.0 Z" fill="#0f5040"/><path d="M93.5,266.0 L132.0,268.0 L132.0,272.0 L115.0,278.0 L93.5,281.0 Z" fill="#f080c0"/><path d="M134.0,218.0 C135.0,212.7 140.0,214.0 142.0,214.0 C144.0,214.0 145.3,212.7 146.0,218.0 C146.7,223.3 147.7,241.3 146.0,246.0 C144.3,250.7 138.0,250.7 136.0,246.0 C134.0,241.3 133.0,223.3 134.0,218.0 Z" fill="#c81010"/></g>
<path d="M146.0,213.0 L158.0,206.0 L172.0,208.0 L183.0,216.0 L186.0,228.0 L186.0,246.0 L146.0,248.0 Z" fill="#f05545"/><path d="M148.0,212.0 C149.3,207.2 153.0,208.7 155.0,209.0 C157.0,209.3 159.0,210.8 160.0,214.0 C161.0,217.2 161.7,223.7 161.0,228.0 C160.3,232.3 157.8,237.0 156.0,240.0 C154.2,243.0 151.5,246.3 150.0,246.0 C148.5,245.7 147.3,243.7 147.0,238.0 C146.7,232.3 146.7,216.8 148.0,212.0 Z" fill="#1d5a28"/><path d="M151.8,211.9 C151.5,217 151,222 150.4,226.8 C149.5,230 148.5,233 147.4,235.8" fill="none" stroke="#1d5a28" stroke-width="2.4" stroke-opacity="1" stroke-linecap="round" stroke-linejoin="round"/><path d="M159.3,211.9 C161.5,214 163.5,217 163.8,219.4 C163.5,223 162,227 160.8,229.8" fill="none" stroke="#1d5a28" stroke-width="2.4" stroke-opacity="1" stroke-linecap="round" stroke-linejoin="round"/><path d="M165.3,209 C168,210.5 170,212.5 171.2,214.9 C172.5,218 172.8,221 172.7,223.8" fill="none" stroke="#1d5a28" stroke-width="2.4" stroke-opacity="1" stroke-linecap="round" stroke-linejoin="round"/><path d="M172.7,211.9 C175,214 178,217 180.2,219.4" fill="none" stroke="#1d5a28" stroke-width="2.4" stroke-opacity="1" stroke-linecap="round" stroke-linejoin="round"/><path d="M169.7,229.8 C172,231.5 175,233 177.2,234.3 C180,235 182.5,235.5 184.6,235.8" fill="none" stroke="#1d5a28" stroke-width="2.4" stroke-opacity="1" stroke-linecap="round" stroke-linejoin="round"/><path d="M154.8,237.3 C158,239 162,240.8 165.3,241.7 C169,242.5 173,243 177.2,243.2" fill="none" stroke="#1d5a28" stroke-width="2.4" stroke-opacity="1" stroke-linecap="round" stroke-linejoin="round"/><path d="M176,221 C179,224 182,226 185,227" fill="none" stroke="#1d5a28" stroke-width="2.4" stroke-opacity="1" stroke-linecap="round" stroke-linejoin="round"/><path d="M178,212 C181,215 183,218 185,221" fill="none" stroke="#1d5a28" stroke-width="2.0" stroke-opacity="1" stroke-linecap="round" stroke-linejoin="round"/><path d="M161,244 C166,246 172,247 180,246" fill="none" stroke="#1d5a28" stroke-width="2.0" stroke-opacity="1" stroke-linecap="round" stroke-linejoin="round"/><path d="M156.0,234.0 C157.0,231.3 161.7,231.3 163.0,234.0 C164.3,236.7 165.0,247.3 164.0,250.0 C163.0,252.7 158.3,252.7 157.0,250.0 C155.7,247.3 155.0,236.7 156.0,234.0 Z" fill="#a08a90" fill-opacity="0.85"/><path d="M140.0,246.0 L186.0,245.0 L186.0,263.0 L172.7,267.5 L157.8,269.0 L142.9,268.0 L139.0,270.0 Z" fill="#c81010"/><path d="M152.0,244.0 C153.5,241.3 161.3,240.3 164.0,242.0 C166.7,243.7 169.5,251.3 168.0,254.0 C166.5,256.7 157.7,259.7 155.0,258.0 C152.3,256.3 150.5,246.7 152.0,244.0 Z" fill="#a08a90" fill-opacity="0.85"/>
<circle cx="67.2" cy="239.4" r="0.8" fill="#fff"/>
</g>
<line x1="93.0" y1="197" x2="93.0" y2="282" stroke="#fff" stroke-width="1.9"/>
</g>
<text x="9.50" y="433.70" font-size="9.0" font-weight="normal" fill="#222" textLength="62.00" lengthAdjust="spacingAndGlyphs" >L2/3 (Topic 25)</text>
<text x="99.50" y="433.70" font-size="9.0" font-weight="normal" fill="#222" textLength="54.50" lengthAdjust="spacingAndGlyphs" >L4 (Topic 28)</text>
<text x="189.00" y="433.70" font-size="9.0" font-weight="normal" fill="#222" textLength="48.80" lengthAdjust="spacingAndGlyphs" >L5 (Topic 8)</text>
<text x="271.90" y="433.60" font-size="9.0" font-weight="normal" fill="#222" textLength="54.90" lengthAdjust="spacingAndGlyphs" >L6 (Topic 30)</text>
<text x="12.00" y="494.50" font-size="9.0" font-weight="normal" fill="#222" textLength="57.50" lengthAdjust="spacingAndGlyphs" >L6b (Topic 17)</text>
<text x="78.10" y="494.50" font-size="9.0" font-weight="normal" fill="#222" textLength="97.30" lengthAdjust="spacingAndGlyphs" >CA1/CA2/CA3 (Topic 3)</text>
<text x="185.50" y="494.50" font-size="9.0" font-weight="normal" fill="#222" textLength="56.00" lengthAdjust="spacingAndGlyphs" >DG (Topic 16)</text>
<defs><clipPath id="bclip"><path d="M22.5,236 C22,228 26,219 33,213 C43,205 62,200.2 93.5,198.6 L122,199.3 C131,200 137,204 141.2,210.5 C146,208 151,206.8 158,206.6 C167,206.6 175,209.5 180.5,214 C184.5,218 185.6,224 185.6,231 L185.6,259 C185.3,263 183,265.5 178,267 C168,268.6 152,268.8 140.5,270 C133,272 126,275.5 118,277.6 C110,279.2 100,280 93.5,280 C80,279.5 68,277.5 58,274.6 C48,271.8 40,268.6 33,265.6 C29,263 27,258 26,252 C25,246 23.5,241 22.5,236 Z"/><path d="M3,238 C3,236 5,235.4 8,235.3 L21,235 C26,235.5 29,238 30.5,243 L31.8,252 C32,258 31.5,263 29.5,266 C27,268 22,268.8 16,268.8 L6,268.6 C4,268.4 3,267 3,265 Z"/></clipPath></defs>
<g transform="translate(1.57 357.08) scale(0.411)"><path d="M22.5,236 C22,228 26,219 33,213 C43,205 62,200.2 93.5,198.6 L122,199.3 C131,200 137,204 141.2,210.5 C146,208 151,206.8 158,206.6 C167,206.6 175,209.5 180.5,214 C184.5,218 185.6,224 185.6,231 L185.6,259 C185.3,263 183,265.5 178,267 C168,268.6 152,268.8 140.5,270 C133,272 126,275.5 118,277.6 C110,279.2 100,280 93.5,280 C80,279.5 68,277.5 58,274.6 C48,271.8 40,268.6 33,265.6 C29,263 27,258 26,252 C25,246 23.5,241 22.5,236 Z" fill="#e8e8e8" /><path d="M3,238 C3,236 5,235.4 8,235.3 L21,235 C26,235.5 29,238 30.5,243 L31.8,252 C32,258 31.5,263 29.5,266 C27,268 22,268.8 16,268.8 L6,268.6 C4,268.4 3,267 3,265 Z" fill="#e8e8e8" /><g clip-path="url(#bclip)"><path d="M42,252 C31,244 25,235 27,225 C31,213 45,206 62,202.5 C75,200.6 85,200.3 93.5,200.4" fill="none" stroke="#8c1c9c" stroke-width="9.2" stroke-linecap="round" stroke-linejoin="round" stroke-opacity="0.12"/><path d="M42,252 C31,244 25,235 27,225 C31,213 45,206 62,202.5 C75,200.6 85,200.3 93.5,200.4" fill="none" stroke="#8c1c9c" stroke-width="4.6" stroke-linecap="round" stroke-linejoin="round" stroke-opacity="1"/><path d="M93.5,200.6 L125,201.4 C133,202 139,205 140.5,210 C141.5,214 139,218 131,220.5" fill="none" stroke="#8c1c9c" stroke-width="8.0" stroke-linecap="round" stroke-linejoin="round" stroke-opacity="0.12"/><path d="M93.5,200.6 L125,201.4 C133,202 139,205 140.5,210 C141.5,214 139,218 131,220.5" fill="none" stroke="#8c1c9c" stroke-width="4.0" stroke-linecap="round" stroke-linejoin="round" stroke-opacity="1"/></g><line x1="93.5" y1="197" x2="93.5" y2="282" stroke="#fff" stroke-width="3"/></g>
<g transform="translate(87.97 357.08) scale(0.411)"><path d="M22.5,236 C22,228 26,219 33,213 C43,205 62,200.2 93.5,198.6 L122,199.3 C131,200 137,204 141.2,210.5 C146,208 151,206.8 158,206.6 C167,206.6 175,209.5 180.5,214 C184.5,218 185.6,224 185.6,231 L185.6,259 C185.3,263 183,265.5 178,267 C168,268.6 152,268.8 140.5,270 C133,272 126,275.5 118,277.6 C110,279.2 100,280 93.5,280 C80,279.5 68,277.5 58,274.6 C48,271.8 40,268.6 33,265.6 C29,263 27,258 26,252 C25,246 23.5,241 22.5,236 Z" fill="#e8e8e8" /><path d="M3,238 C3,236 5,235.4 8,235.3 L21,235 C26,235.5 29,238 30.5,243 L31.8,252 C32,258 31.5,263 29.5,266 C27,268 22,268.8 16,268.8 L6,268.6 C4,268.4 3,267 3,265 Z" fill="#e8e8e8" /><g clip-path="url(#bclip)"><path d="M43,250.5 C33,245 27,238 28,230 C31,219 45,211 62,207.5 C75,205 85,204 93.5,203.8" fill="none" stroke="#8c1c9c" stroke-width="8.6" stroke-linecap="round" stroke-linejoin="round" stroke-opacity="0.12"/><path d="M43,250.5 C33,245 27,238 28,230 C31,219 45,211 62,207.5 C75,205 85,204 93.5,203.8" fill="none" stroke="#8c1c9c" stroke-width="4.3" stroke-linecap="round" stroke-linejoin="round" stroke-opacity="1"/><path d="M93.5,205.6 L126,206.4 C134,207 137.5,209 137.5,212 C137.5,216 134,219 129,220.2" fill="none" stroke="#8c1c9c" stroke-width="7.6" stroke-linecap="round" stroke-linejoin="round" stroke-opacity="0.12"/><path d="M93.5,205.6 L126,206.4 C134,207 137.5,209 137.5,212 C137.5,216 134,219 129,220.2" fill="none" stroke="#8c1c9c" stroke-width="3.8" stroke-linecap="round" stroke-linejoin="round" stroke-opacity="1"/><path d="M121,223 L129,220.5" fill="none" stroke="#8c1c9c" stroke-width="4.0" stroke-linecap="round" stroke-linejoin="round" stroke-opacity="0.04"/><path d="M121,223 L129,220.5" fill="none" stroke="#8c1c9c" stroke-width="2.0" stroke-linecap="round" stroke-linejoin="round" stroke-opacity="0.35"/></g><line x1="93.5" y1="197" x2="93.5" y2="282" stroke="#fff" stroke-width="3"/></g>
<g transform="translate(174.57 357.08) scale(0.411)"><path d="M22.5,236 C22,228 26,219 33,213 C43,205 62,200.2 93.5,198.6 L122,199.3 C131,200 137,204 141.2,210.5 C146,208 151,206.8 158,206.6 C167,206.6 175,209.5 180.5,214 C184.5,218 185.6,224 185.6,231 L185.6,259 C185.3,263 183,265.5 178,267 C168,268.6 152,268.8 140.5,270 C133,272 126,275.5 118,277.6 C110,279.2 100,280 93.5,280 C80,279.5 68,277.5 58,274.6 C48,271.8 40,268.6 33,265.6 C29,263 27,258 26,252 C25,246 23.5,241 22.5,236 Z" fill="#e8e8e8" /><path d="M3,238 C3,236 5,235.4 8,235.3 L21,235 C26,235.5 29,238 30.5,243 L31.8,252 C32,258 31.5,263 29.5,266 C27,268 22,268.8 16,268.8 L6,268.6 C4,268.4 3,267 3,265 Z" fill="#e8e8e8" /><g clip-path="url(#bclip)"><path d="M47,252 C38,246 32,240 33.5,233 C36,225 47,218 65,213.5 C76,210 85,207.5 93.5,206.4" fill="none" stroke="#8c1c9c" stroke-width="13.6" stroke-linecap="round" stroke-linejoin="round" stroke-opacity="0.12"/><path d="M47,252 C38,246 32,240 33.5,233 C36,225 47,218 65,213.5 C76,210 85,207.5 93.5,206.4" fill="none" stroke="#8c1c9c" stroke-width="6.8" stroke-linecap="round" stroke-linejoin="round" stroke-opacity="1"/><path d="M93.5,207.8 L128,208.6 C133,209 136,211 135.5,214 C135,217 132,218 130,218.5" fill="none" stroke="#8c1c9c" stroke-width="7.2" stroke-linecap="round" stroke-linejoin="round" stroke-opacity="0.12"/><path d="M93.5,207.8 L128,208.6 C133,209 136,211 135.5,214 C135,217 132,218 130,218.5" fill="none" stroke="#8c1c9c" stroke-width="3.6" stroke-linecap="round" stroke-linejoin="round" stroke-opacity="1"/><path d="M116,215 C118,219 122,223 127,223.5 C131,223.5 133,220 133,216 L129,216 C128,219 125,220 122,218.5 C120,217.5 119,216 118.5,214.5 Z" fill="#8c1c9c" fill-opacity="0.85"/><ellipse cx="102" cy="262" rx="3" ry="2" fill="#8c1c9c" fill-opacity="0.15"/><ellipse cx="124" cy="258" rx="3.5" ry="2" fill="#8c1c9c" fill-opacity="0.15"/></g><line x1="93.5" y1="197" x2="93.5" y2="282" stroke="#fff" stroke-width="3"/></g>
<g transform="translate(260.97 357.08) scale(0.411)"><path d="M22.5,236 C22,228 26,219 33,213 C43,205 62,200.2 93.5,198.6 L122,199.3 C131,200 137,204 141.2,210.5 C146,208 151,206.8 158,206.6 C167,206.6 175,209.5 180.5,214 C184.5,218 185.6,224 185.6,231 L185.6,259 C185.3,263 183,265.5 178,267 C168,268.6 152,268.8 140.5,270 C133,272 126,275.5 118,277.6 C110,279.2 100,280 93.5,280 C80,279.5 68,277.5 58,274.6 C48,271.8 40,268.6 33,265.6 C29,263 27,258 26,252 C25,246 23.5,241 22.5,236 Z" fill="#e8e8e8" /><path d="M3,238 C3,236 5,235.4 8,235.3 L21,235 C26,235.5 29,238 30.5,243 L31.8,252 C32,258 31.5,263 29.5,266 C27,268 22,268.8 16,268.8 L6,268.6 C4,268.4 3,267 3,265 Z" fill="#e8e8e8" /><g clip-path="url(#bclip)"><path d="M47.5,250.5 C41.5,245.5 38,240 39,235 C40.5,229.5 49,225.5 62,221 C74,216.5 84,212.5 93.5,210.2" fill="none" stroke="#8c1c9c" stroke-width="14.0" stroke-linecap="round" stroke-linejoin="round" stroke-opacity="0.12"/><path d="M47.5,250.5 C41.5,245.5 38,240 39,235 C40.5,229.5 49,225.5 62,221 C74,216.5 84,212.5 93.5,210.2" fill="none" stroke="#8c1c9c" stroke-width="7.0" stroke-linecap="round" stroke-linejoin="round" stroke-opacity="1"/><path d="M93.5,210.2 L129,210.6 C131.5,211 132,213 131,214.5" fill="none" stroke="#8c1c9c" stroke-width="6.4" stroke-linecap="round" stroke-linejoin="round" stroke-opacity="0.12"/><path d="M93.5,210.2 L129,210.6 C131.5,211 132,213 131,214.5" fill="none" stroke="#8c1c9c" stroke-width="3.2" stroke-linecap="round" stroke-linejoin="round" stroke-opacity="1"/></g><line x1="93.5" y1="197" x2="93.5" y2="282" stroke="#fff" stroke-width="3"/></g>
<g transform="translate(1.57 417.98) scale(0.411)"><path d="M22.5,236 C22,228 26,219 33,213 C43,205 62,200.2 93.5,198.6 L122,199.3 C131,200 137,204 141.2,210.5 C146,208 151,206.8 158,206.6 C167,206.6 175,209.5 180.5,214 C184.5,218 185.6,224 185.6,231 L185.6,259 C185.3,263 183,265.5 178,267 C168,268.6 152,268.8 140.5,270 C133,272 126,275.5 118,277.6 C110,279.2 100,280 93.5,280 C80,279.5 68,277.5 58,274.6 C48,271.8 40,268.6 33,265.6 C29,263 27,258 26,252 C25,246 23.5,241 22.5,236 Z" fill="#e8e8e8" /><path d="M3,238 C3,236 5,235.4 8,235.3 L21,235 C26,235.5 29,238 30.5,243 L31.8,252 C32,258 31.5,263 29.5,266 C27,268 22,268.8 16,268.8 L6,268.6 C4,268.4 3,267 3,265 Z" fill="#e8e8e8" /><g clip-path="url(#bclip)"><path d="M55,263 C49.5,257 46.5,250 45,243.5 C44,238 46,233.5 52,230.5 C59,227.5 67,225 74,221.8 C81,218.5 87,214.8 93.5,212.4" fill="none" stroke="#8c1c9c" stroke-width="5.6" stroke-linecap="round" stroke-linejoin="round" stroke-opacity="0.12"/><path d="M55,263 C49.5,257 46.5,250 45,243.5 C44,238 46,233.5 52,230.5 C59,227.5 67,225 74,221.8 C81,218.5 87,214.8 93.5,212.4" fill="none" stroke="#8c1c9c" stroke-width="2.8" stroke-linecap="round" stroke-linejoin="round" stroke-opacity="1"/><path d="M93.5,212 L127.5,213 C129,214 129.5,215 129,216.3" fill="none" stroke="#8c1c9c" stroke-width="5.6" stroke-linecap="round" stroke-linejoin="round" stroke-opacity="0.12"/><path d="M93.5,212 L127.5,213 C129,214 129.5,215 129,216.3" fill="none" stroke="#8c1c9c" stroke-width="2.8" stroke-linecap="round" stroke-linejoin="round" stroke-opacity="1"/><path d="M47,251 C49,249.5 52,250 53.5,253 C55,256 57.5,259.5 57,263.5 C55,265 52.5,264 51,262 C49,259 47.5,255 47,251 Z" fill="#8c1c9c" fill-opacity="0.9"/><path d="M122,213 L129,213.5 L129.5,216.5 L124,216 Z" fill="#8c1c9c"/><circle cx="128" cy="266" r="1.8" fill="#8c1c9c" fill-opacity="0.6"/></g><line x1="93.5" y1="197" x2="93.5" y2="282" stroke="#fff" stroke-width="3"/></g>
<g transform="translate(87.97 417.98) scale(0.411)"><path d="M22.5,236 C22,228 26,219 33,213 C43,205 62,200.2 93.5,198.6 L122,199.3 C131,200 137,204 141.2,210.5 C146,208 151,206.8 158,206.6 C167,206.6 175,209.5 180.5,214 C184.5,218 185.6,224 185.6,231 L185.6,259 C185.3,263 183,265.5 178,267 C168,268.6 152,268.8 140.5,270 C133,272 126,275.5 118,277.6 C110,279.2 100,280 93.5,280 C80,279.5 68,277.5 58,274.6 C48,271.8 40,268.6 33,265.6 C29,263 27,258 26,252 C25,246 23.5,241 22.5,236 Z" fill="#e8e8e8" /><path d="M3,238 C3,236 5,235.4 8,235.3 L21,235 C26,235.5 29,238 30.5,243 L31.8,252 C32,258 31.5,263 29.5,266 C27,268 22,268.8 16,268.8 L6,268.6 C4,268.4 3,267 3,265 Z" fill="#e8e8e8" /><g clip-path="url(#bclip)"><path d="M86,218 C86,215 89,214.5 93.5,214.6 L93.5,227.5 C89,227 85.5,224.5 85.5,221 Z" fill="#8c1c9c"/><path d="M95,216 C100,214.5 108,214.6 112.5,217.5 L111,219.5 C106,217.5 100,217.6 96,218.5 Z" fill="#8c1c9c"/><path d="M95,223.5 C99,224 104,226 107,228 L106,230.5 C102,230 98,229 95,228 Z" fill="#8c1c9c"/><path d="M111,260 C110,255 114,251 121,249.5 L124,250.5 C118,253 115,256 116,260 L118,263 C114,264 111.5,263 111,260 Z" fill="#8c1c9c"/><path d="M119,252 L129,249" stroke="#8c1c9c" stroke-width="1.5" stroke-opacity="0.3"/></g><line x1="93.5" y1="197" x2="93.5" y2="282" stroke="#fff" stroke-width="3"/></g>
<g transform="translate(174.57 417.98) scale(0.411)"><path d="M22.5,236 C22,228 26,219 33,213 C43,205 62,200.2 93.5,198.6 L122,199.3 C131,200 137,204 141.2,210.5 C146,208 151,206.8 158,206.6 C167,206.6 175,209.5 180.5,214 C184.5,218 185.6,224 185.6,231 L185.6,259 C185.3,263 183,265.5 178,267 C168,268.6 152,268.8 140.5,270 C133,272 126,275.5 118,277.6 C110,279.2 100,280 93.5,280 C80,279.5 68,277.5 58,274.6 C48,271.8 40,268.6 33,265.6 C29,263 27,258 26,252 C25,246 23.5,241 22.5,236 Z" fill="#e8e8e8" /><path d="M3,238 C3,236 5,235.4 8,235.3 L21,235 C26,235.5 29,238 30.5,243 L31.8,252 C32,258 31.5,263 29.5,266 C27,268 22,268.8 16,268.8 L6,268.6 C4,268.4 3,267 3,265 Z" fill="#e8e8e8" /><g clip-path="url(#bclip)"><path d="M96.5,224 C98,221.5 103,221.5 110,222.5 C115,223.5 119,225 120,226.5 C118,229 113,230 107,229.8 C102,229.5 98,228 96.5,226.5 Z" fill="#8c1c9c"/><path d="M118,226 L132,225.5" stroke="#8c1c9c" stroke-width="1.4" stroke-opacity="0.4"/><path d="M96.5,218 L106,218.5" stroke="#8c1c9c" stroke-width="2" stroke-opacity="0.15"/><path d="M121,251 C124,250.5 127,252 127,254.5 C127,257 124,258.5 121,258 L121.5,256 C123.5,256 124.5,255 124,254 C123.5,253 122,252.8 121,253 Z" fill="#8c1c9c"/></g><line x1="93.5" y1="197" x2="93.5" y2="282" stroke="#fff" stroke-width="3"/></g>
<defs><linearGradient id="gp" x1="0" y1="0" x2="0" y2="1"><stop offset="0" stop-color="#8a1f98"/><stop offset="0.5" stop-color="#c48ac9"/><stop offset="1" stop-color="#ece8ee"/></linearGradient><linearGradient id="grb" x1="0" y1="0" x2="0" y2="1"><stop offset="0" stop-color="#67001f"/><stop offset="0.2" stop-color="#c43a3f"/><stop offset="0.4" stop-color="#f5b090"/><stop offset="0.5" stop-color="#f7f7f7"/><stop offset="0.6" stop-color="#a8cde3"/><stop offset="0.8" stop-color="#3b87c0"/><stop offset="1" stop-color="#053061"/></linearGradient></defs>
<text x="356.70" y="443.30" font-size="9.0" font-weight="normal" fill="#222" textLength="23.90" lengthAdjust="spacingAndGlyphs" >Topic</text>
<text x="344.30" y="452.80" font-size="9.0" font-weight="normal" fill="#222" textLength="45.50" lengthAdjust="spacingAndGlyphs" >proportion</text>
<rect x="361.2" y="459.2" width="10.6" height="62.8" fill="url(#gp)"/>
<text x="375.90" y="465.60" font-size="9.0" font-weight="normal" fill="#222" textLength="20.40" lengthAdjust="spacingAndGlyphs" >High</text>
<text x="375.90" y="523.30" font-size="9.0" font-weight="normal" fill="#222" textLength="18.20" lengthAdjust="spacingAndGlyphs" >Low</text>
<rect x="476.70" y="428.80" width="14.33" height="13.98" fill="#f5b093" stroke="#b8b8b8" stroke-width="0.3"/>
<rect x="491.03" y="428.80" width="14.33" height="13.98" fill="#e07557" stroke="#b8b8b8" stroke-width="0.3"/>
<rect x="505.36" y="428.80" width="14.33" height="13.98" fill="#f2a285" stroke="#b8b8b8" stroke-width="0.3"/>
<rect x="519.69" y="428.80" width="14.33" height="13.98" fill="#eaeff3" stroke="#b8b8b8" stroke-width="0.3"/>
<rect x="534.02" y="428.80" width="14.33" height="13.98" fill="#f3a283" stroke="#b8b8b8" stroke-width="0.3"/>
<rect x="548.35" y="428.80" width="14.33" height="13.98" fill="#8dbbda" stroke="#b8b8b8" stroke-width="0.3"/>
<rect x="562.68" y="428.80" width="14.33" height="13.98" fill="#f7f0ee" stroke="#b8b8b8" stroke-width="0.3"/>
<rect x="577.01" y="428.80" width="14.33" height="13.98" fill="#f2eeee" stroke="#b8b8b8" stroke-width="0.3"/>
<rect x="591.34" y="428.80" width="14.33" height="13.98" fill="#f7c3aa" stroke="#b8b8b8" stroke-width="0.3"/>
<rect x="605.67" y="428.80" width="14.33" height="13.98" fill="#f8d5c4" stroke="#b8b8b8" stroke-width="0.3"/>
<rect x="620.00" y="428.80" width="14.33" height="13.98" fill="#dae8f2" stroke="#b8b8b8" stroke-width="0.3"/>
<rect x="634.33" y="428.80" width="14.33" height="13.98" fill="#fbdccb" stroke="#b8b8b8" stroke-width="0.3"/>
<rect x="648.66" y="428.80" width="14.33" height="13.98" fill="#153f7a" stroke="#b8b8b8" stroke-width="0.3"/>
<rect x="476.70" y="442.78" width="14.33" height="13.98" fill="#fbd9c8" stroke="#b8b8b8" stroke-width="0.3"/>
<rect x="491.03" y="442.78" width="14.33" height="13.98" fill="#70a8d3" stroke="#b8b8b8" stroke-width="0.3"/>
<rect x="505.36" y="442.78" width="14.33" height="13.98" fill="#f9e7de" stroke="#b8b8b8" stroke-width="0.3"/>
<rect x="519.69" y="442.78" width="14.33" height="13.98" fill="#f4a886" stroke="#b8b8b8" stroke-width="0.3"/>
<rect x="534.02" y="442.78" width="14.33" height="13.98" fill="#d53e3b" stroke="#b8b8b8" stroke-width="0.3"/>
<rect x="548.35" y="442.78" width="14.33" height="13.98" fill="#d7e7f1" stroke="#b8b8b8" stroke-width="0.3"/>
<rect x="562.68" y="442.78" width="14.33" height="13.98" fill="#f9cfbb" stroke="#b8b8b8" stroke-width="0.3"/>
<rect x="577.01" y="442.78" width="14.33" height="13.98" fill="#f8cdb7" stroke="#b8b8b8" stroke-width="0.3"/>
<rect x="591.34" y="442.78" width="14.33" height="13.98" fill="#c6dcec" stroke="#b8b8b8" stroke-width="0.3"/>
<rect x="605.67" y="442.78" width="14.33" height="13.98" fill="#f8cab2" stroke="#b8b8b8" stroke-width="0.3"/>
<rect x="620.00" y="442.78" width="14.33" height="13.98" fill="#bbd6ea" stroke="#b8b8b8" stroke-width="0.3"/>
<rect x="634.33" y="442.78" width="14.33" height="13.98" fill="#edf1f5" stroke="#b8b8b8" stroke-width="0.3"/>
<rect x="648.66" y="442.78" width="14.33" height="13.98" fill="#3c84c0" stroke="#b8b8b8" stroke-width="0.3"/>
<rect x="476.70" y="456.76" width="14.33" height="13.98" fill="#c2dbec" stroke="#b8b8b8" stroke-width="0.3"/>
<rect x="491.03" y="456.76" width="14.33" height="13.98" fill="#cde1ef" stroke="#b8b8b8" stroke-width="0.3"/>
<rect x="505.36" y="456.76" width="14.33" height="13.98" fill="#d8e6f0" stroke="#b8b8b8" stroke-width="0.3"/>
<rect x="519.69" y="456.76" width="14.33" height="13.98" fill="#f0f0f2" stroke="#b8b8b8" stroke-width="0.3"/>
<rect x="534.02" y="456.76" width="14.33" height="13.98" fill="#f7ede9" stroke="#b8b8b8" stroke-width="0.3"/>
<rect x="548.35" y="456.76" width="14.33" height="13.98" fill="#fbe2d5" stroke="#b8b8b8" stroke-width="0.3"/>
<rect x="562.68" y="456.76" width="14.33" height="13.98" fill="#d2453e" stroke="#b8b8b8" stroke-width="0.3"/>
<rect x="577.01" y="456.76" width="14.33" height="13.98" fill="#f3a98a" stroke="#b8b8b8" stroke-width="0.3"/>
<rect x="591.34" y="456.76" width="14.33" height="13.98" fill="#fae5da" stroke="#b8b8b8" stroke-width="0.3"/>
<rect x="605.67" y="456.76" width="14.33" height="13.98" fill="#f8cbb5" stroke="#b8b8b8" stroke-width="0.3"/>
<rect x="620.00" y="456.76" width="14.33" height="13.98" fill="#edf1f5" stroke="#b8b8b8" stroke-width="0.3"/>
<rect x="634.33" y="456.76" width="14.33" height="13.98" fill="#dfeaf2" stroke="#b8b8b8" stroke-width="0.3"/>
<rect x="648.66" y="456.76" width="14.33" height="13.98" fill="#163f78" stroke="#b8b8b8" stroke-width="0.3"/>
<rect x="476.70" y="470.74" width="14.33" height="13.98" fill="#6ba5d0" stroke="#b8b8b8" stroke-width="0.3"/>
<rect x="491.03" y="470.74" width="14.33" height="13.98" fill="#88b9db" stroke="#b8b8b8" stroke-width="0.3"/>
<rect x="505.36" y="470.74" width="14.33" height="13.98" fill="#d8e7f1" stroke="#b8b8b8" stroke-width="0.3"/>
<rect x="519.69" y="470.74" width="14.33" height="13.98" fill="#e3ecf3" stroke="#b8b8b8" stroke-width="0.3"/>
<rect x="534.02" y="470.74" width="14.33" height="13.98" fill="#e8eef4" stroke="#b8b8b8" stroke-width="0.3"/>
<rect x="548.35" y="470.74" width="14.33" height="13.98" fill="#b3d2e8" stroke="#b8b8b8" stroke-width="0.3"/>
<rect x="562.68" y="470.74" width="14.33" height="13.98" fill="#ee9272" stroke="#b8b8b8" stroke-width="0.3"/>
<rect x="577.01" y="470.74" width="14.33" height="13.98" fill="#f3ad8f" stroke="#b8b8b8" stroke-width="0.3"/>
<rect x="591.34" y="470.74" width="14.33" height="13.98" fill="#eb8e6f" stroke="#b8b8b8" stroke-width="0.3"/>
<rect x="605.67" y="470.74" width="14.33" height="13.98" fill="#f0a283" stroke="#b8b8b8" stroke-width="0.3"/>
<rect x="620.00" y="470.74" width="14.33" height="13.98" fill="#fbd8c6" stroke="#b8b8b8" stroke-width="0.3"/>
<rect x="634.33" y="470.74" width="14.33" height="13.98" fill="#f7c2a8" stroke="#b8b8b8" stroke-width="0.3"/>
<rect x="648.66" y="470.74" width="14.33" height="13.98" fill="#8dbcdc" stroke="#b8b8b8" stroke-width="0.3"/>
<rect x="476.70" y="484.72" width="14.33" height="13.98" fill="#d7e7f1" stroke="#b8b8b8" stroke-width="0.3"/>
<rect x="491.03" y="484.72" width="14.33" height="13.98" fill="#4f93c8" stroke="#b8b8b8" stroke-width="0.3"/>
<rect x="505.36" y="484.72" width="14.33" height="13.98" fill="#d2e4f0" stroke="#b8b8b8" stroke-width="0.3"/>
<rect x="519.69" y="484.72" width="14.33" height="13.98" fill="#dbe8f2" stroke="#b8b8b8" stroke-width="0.3"/>
<rect x="534.02" y="484.72" width="14.33" height="13.98" fill="#d4e5f0" stroke="#b8b8b8" stroke-width="0.3"/>
<rect x="548.35" y="484.72" width="14.33" height="13.98" fill="#a9cde6" stroke="#b8b8b8" stroke-width="0.3"/>
<rect x="562.68" y="484.72" width="14.33" height="13.98" fill="#ee9373" stroke="#b8b8b8" stroke-width="0.3"/>
<rect x="577.01" y="484.72" width="14.33" height="13.98" fill="#f3ab8c" stroke="#b8b8b8" stroke-width="0.3"/>
<rect x="591.34" y="484.72" width="14.33" height="13.98" fill="#d9604c" stroke="#b8b8b8" stroke-width="0.3"/>
<rect x="605.67" y="484.72" width="14.33" height="13.98" fill="#e98366" stroke="#b8b8b8" stroke-width="0.3"/>
<rect x="620.00" y="484.72" width="14.33" height="13.98" fill="#6b0821" stroke="#b8b8b8" stroke-width="0.3"/>
<rect x="634.33" y="484.72" width="14.33" height="13.98" fill="#8e1a2e" stroke="#b8b8b8" stroke-width="0.3"/>
<rect x="648.66" y="484.72" width="14.33" height="13.98" fill="#e8836a" stroke="#b8b8b8" stroke-width="0.3"/>
<text x="483.87" y="438.69" font-size="8" text-anchor="middle" font-weight="normal" fill="#fff" fill-opacity="0.9">39</text>
<text x="498.19" y="438.69" font-size="8" text-anchor="middle" font-weight="normal" fill="#fff" fill-opacity="0.9">10</text>
<text x="512.52" y="438.69" font-size="8" text-anchor="middle" font-weight="normal" fill="#fff" fill-opacity="0.9">28</text>
<text x="526.85" y="452.67" font-size="8" text-anchor="middle" font-weight="normal" fill="#fff" fill-opacity="0.9">34</text>
<text x="541.18" y="452.67" font-size="8" text-anchor="middle" font-weight="normal" fill="#fff" fill-opacity="0.9">5</text>
<text x="555.51" y="466.65" font-size="8" text-anchor="middle" font-weight="normal" fill="#fff" fill-opacity="0.9">80</text>
<text x="569.84" y="466.65" font-size="8" text-anchor="middle" font-weight="normal" fill="#fff" fill-opacity="0.9">2</text>
<text x="584.17" y="466.65" font-size="8" text-anchor="middle" font-weight="normal" fill="#fff" fill-opacity="0.9">12</text>
<text x="598.50" y="480.63" font-size="8" text-anchor="middle" font-weight="normal" fill="#fff" fill-opacity="0.9">15</text>
<text x="612.83" y="480.63" font-size="8" text-anchor="middle" font-weight="normal" fill="#fff" fill-opacity="0.9">13</text>
<text x="627.16" y="494.61" font-size="8" text-anchor="middle" font-weight="normal" fill="#fff" fill-opacity="0.9">1</text>
<text x="641.49" y="494.61" font-size="8" text-anchor="middle" font-weight="normal" fill="#fff" fill-opacity="0.9">2</text>
<text x="655.82" y="494.61" font-size="8" text-anchor="middle" font-weight="normal" fill="#fff" fill-opacity="0.9">18</text>
<rect x="476.7" y="428.8" width="186.29" height="69.90" fill="none" stroke="#777" stroke-width="0.5"/>
<line x1="473.5" y1="435.79" x2="476.7" y2="435.79" stroke="#444" stroke-width="0.6"/>
<text x="407.20" y="439.40" font-size="9.0" font-weight="normal" fill="#222" textLength="62.40" lengthAdjust="spacingAndGlyphs" >L2/3 (Topic 25)</text>
<line x1="473.5" y1="449.77" x2="476.7" y2="449.77" stroke="#444" stroke-width="0.6"/>
<text x="415.30" y="453.30" font-size="9.0" font-weight="normal" fill="#222" textLength="54.30" lengthAdjust="spacingAndGlyphs" >L4 (Topic 28)</text>
<line x1="473.5" y1="463.75" x2="476.7" y2="463.75" stroke="#444" stroke-width="0.6"/>
<text x="420.50" y="466.90" font-size="9.0" font-weight="normal" fill="#222" textLength="49.10" lengthAdjust="spacingAndGlyphs" >L5 (Topic 8)</text>
<line x1="473.5" y1="477.73" x2="476.7" y2="477.73" stroke="#444" stroke-width="0.6"/>
<text x="414.20" y="480.90" font-size="9.0" font-weight="normal" fill="#222" textLength="55.40" lengthAdjust="spacingAndGlyphs" >L6 (Topic 30)</text>
<line x1="473.5" y1="491.71" x2="476.7" y2="491.71" stroke="#444" stroke-width="0.6"/>
<text x="412.10" y="494.50" font-size="9.0" font-weight="normal" fill="#222" textLength="57.50" lengthAdjust="spacingAndGlyphs" >L6b (Topic 17)</text>
<line x1="483.87" y1="498.70" x2="483.87" y2="501.40" stroke="#444" stroke-width="0.6"/>
<text x="0" y="0" font-size="9" text-anchor="end" fill="#222" textLength="21.10" lengthAdjust="spacingAndGlyphs" transform="translate(487.17 505.6) rotate(-90)">Cux2</text>
<line x1="498.19" y1="498.70" x2="498.19" y2="501.40" stroke="#444" stroke-width="0.6"/>
<text x="0" y="0" font-size="9" text-anchor="end" fill="#222" textLength="18.40" lengthAdjust="spacingAndGlyphs" transform="translate(501.50 505.6) rotate(-90)">Otof</text>
<line x1="512.52" y1="498.70" x2="512.52" y2="501.40" stroke="#444" stroke-width="0.6"/>
<text x="0" y="0" font-size="9" text-anchor="end" fill="#222" textLength="31.50" lengthAdjust="spacingAndGlyphs" transform="translate(515.82 505.6) rotate(-90)">Rasgrf2</text>
<line x1="526.85" y1="498.70" x2="526.85" y2="501.40" stroke="#444" stroke-width="0.6"/>
<text x="0" y="0" font-size="9" text-anchor="end" fill="#222" textLength="19.80" lengthAdjust="spacingAndGlyphs" transform="translate(530.15 505.6) rotate(-90)">Rorb</text>
<line x1="541.18" y1="498.70" x2="541.18" y2="501.40" stroke="#444" stroke-width="0.6"/>
<text x="0" y="0" font-size="9" text-anchor="end" fill="#222" textLength="25.30" lengthAdjust="spacingAndGlyphs" transform="translate(544.48 505.6) rotate(-90)">Rspo1</text>
<line x1="555.51" y1="498.70" x2="555.51" y2="501.40" stroke="#444" stroke-width="0.6"/>
<text x="0" y="0" font-size="9" text-anchor="end" fill="#222" textLength="19.80" lengthAdjust="spacingAndGlyphs" transform="translate(558.81 505.6) rotate(-90)">Etv1</text>
<line x1="569.84" y1="498.70" x2="569.84" y2="501.40" stroke="#444" stroke-width="0.6"/>
<text x="0" y="0" font-size="9" text-anchor="end" fill="#222" textLength="21.90" lengthAdjust="spacingAndGlyphs" transform="translate(573.14 505.6) rotate(-90)">Fezf2</text>
<line x1="584.17" y1="498.70" x2="584.17" y2="501.40" stroke="#444" stroke-width="0.6"/>
<text x="0" y="0" font-size="9" text-anchor="end" fill="#222" textLength="22.40" lengthAdjust="spacingAndGlyphs" transform="translate(587.47 505.6) rotate(-90)">Rbp4</text>
<line x1="598.50" y1="498.70" x2="598.50" y2="501.40" stroke="#444" stroke-width="0.6"/>
<text x="0" y="0" font-size="9" text-anchor="end" fill="#222" textLength="24.50" lengthAdjust="spacingAndGlyphs" transform="translate(601.80 505.6) rotate(-90)">Bmp3</text>
<line x1="612.83" y1="498.70" x2="612.83" y2="501.40" stroke="#444" stroke-width="0.6"/>
<text x="0" y="0" font-size="9" text-anchor="end" fill="#222" textLength="17.00" lengthAdjust="spacingAndGlyphs" transform="translate(616.13 505.6) rotate(-90)">Tbr1</text>
<line x1="627.16" y1="498.70" x2="627.16" y2="501.40" stroke="#444" stroke-width="0.6"/>
<text x="0" y="0" font-size="9" text-anchor="end" fill="#222" textLength="21.80" lengthAdjust="spacingAndGlyphs" transform="translate(630.46 505.6) rotate(-90)">Ccn2</text>
<line x1="641.49" y1="498.70" x2="641.49" y2="501.40" stroke="#444" stroke-width="0.6"/>
<text x="0" y="0" font-size="9" text-anchor="end" fill="#222" textLength="24.20" lengthAdjust="spacingAndGlyphs" transform="translate(644.79 505.6) rotate(-90)">Cplx3</text>
<line x1="655.82" y1="498.70" x2="655.82" y2="501.40" stroke="#444" stroke-width="0.6"/>
<text x="0" y="0" font-size="9" text-anchor="end" fill="#222" textLength="27.30" lengthAdjust="spacingAndGlyphs" transform="translate(659.12 505.6) rotate(-90)">Nxph4</text>
<path d="M479.20 428.6 V424.4 H515.70 V428.6" fill="none" stroke="#555" stroke-width="0.6"/>
<text x="487.80" y="418.80" font-size="9.0" font-weight="normal" fill="#222" textLength="19.60" lengthAdjust="spacingAndGlyphs" >L2/3</text>
<path d="M522.40 428.6 V424.4 H544.50 V428.6" fill="none" stroke="#555" stroke-width="0.6"/>
<text x="528.00" y="418.80" font-size="9.0" font-weight="normal" fill="#222" textLength="10.70" lengthAdjust="spacingAndGlyphs" >L4</text>
<path d="M551.10 428.6 V424.4 H587.20 V428.6" fill="none" stroke="#555" stroke-width="0.6"/>
<text x="564.20" y="418.80" font-size="9.0" font-weight="normal" fill="#222" textLength="10.50" lengthAdjust="spacingAndGlyphs" >L5</text>
<path d="M594.20 428.6 V424.4 H615.60 V428.6" fill="none" stroke="#555" stroke-width="0.6"/>
<text x="599.50" y="418.80" font-size="9.0" font-weight="normal" fill="#222" textLength="11.00" lengthAdjust="spacingAndGlyphs" >L6</text>
<path d="M622.70 428.6 V424.4 H658.50 V428.6" fill="none" stroke="#555" stroke-width="0.6"/>
<text x="632.30" y="418.80" font-size="9.0" font-weight="normal" fill="#222" textLength="16.60" lengthAdjust="spacingAndGlyphs" >L6b</text>
<text x="664.70" y="417.10" font-size="9.0" font-weight="normal" fill="#222" textLength="57.30" lengthAdjust="spacingAndGlyphs" >Gene module</text>
<text x="681.50" y="427.30" font-size="9.0" font-weight="normal" fill="#222" textLength="24.00" lengthAdjust="spacingAndGlyphs" >score</text>
<rect x="681.4" y="432.9" width="11.2" height="65.2" fill="url(#grb)"/>
<text x="697.30" y="438.50" font-size="9.0" font-weight="normal" fill="#222" textLength="19.10" lengthAdjust="spacingAndGlyphs" >High</text>
<text x="697.30" y="497.60" font-size="9.0" font-weight="normal" fill="#222" textLength="17.20" lengthAdjust="spacingAndGlyphs" >Low</text>
</svg></body></html>
